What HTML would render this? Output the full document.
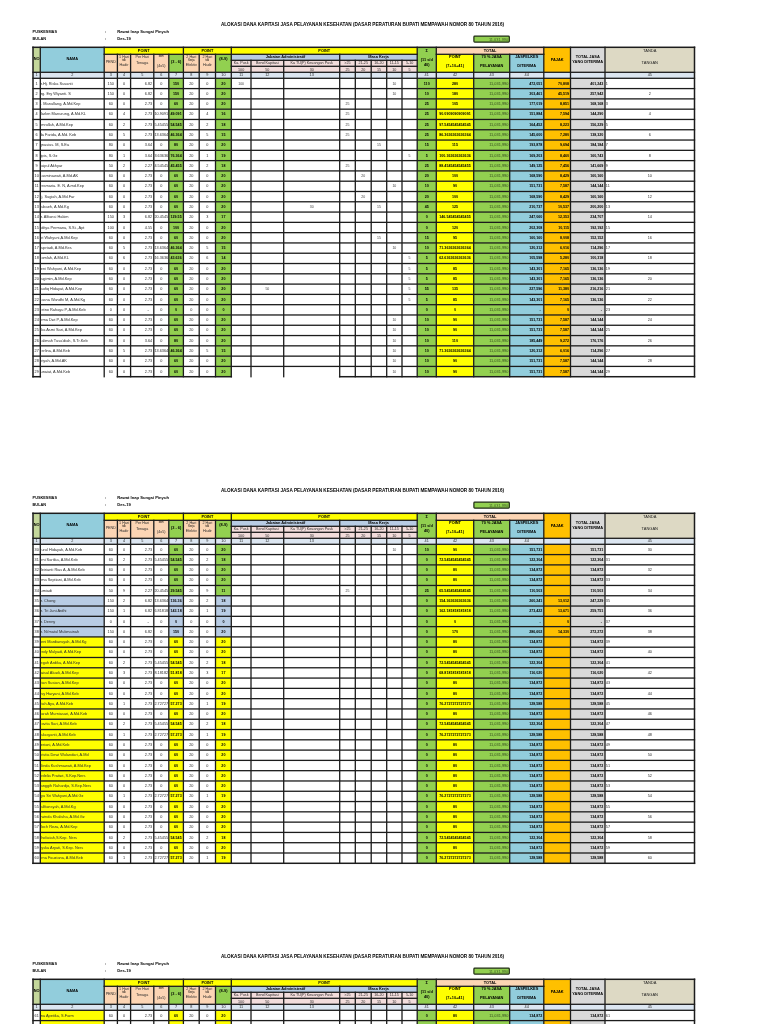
<!DOCTYPE html>
<html lang="id"><head><meta charset="utf-8">
<title>Alokasi Dana Kapitasi Jasa Pelayanan Kesehatan</title>
<style>
html,body{margin:0;padding:0;background:#fff;}
body{width:768px;height:1024px;overflow:hidden;position:relative;font-family:"Liberation Sans",sans-serif;color:#000;}
#grid{position:absolute;left:0;top:0;width:768px;height:1024px;}
#txt{position:absolute;left:0;top:0;width:768px;height:1024px;overflow:hidden;}
.t{position:absolute;white-space:nowrap;overflow:visible;font-size:3.3px;}
.tc{text-align:center}.tl{text-align:left}.tr{text-align:right}
.ttl{font-weight:bold;font-size:4.68px;}
.lbl{font-weight:bold;font-size:3.85px;}
.lv{font-size:4.15px;}
.hb{font-weight:bold;font-size:3.9px;}
.h{font-size:3.7px;color:#2c2c2c;}
.hs{font-size:2.7px;}
.hr{font-size:4.0px;color:#222;}
.d{font-size:3.8px;color:#2c2c2c;}
.db{font-size:3.65px;font-weight:bold;}
.ds{font-size:3.5px;color:#444;}
.dn{font-size:3.9px;color:#33491f;}
.gb{color:#3c5a24;}
.ov{overflow:hidden;}
.nm{overflow:hidden;font-size:3.9px;text-indent:-2.1px;}
</style></head><body>
<svg id="grid" width="768" height="1024" viewBox="0 0 768 1024">
<rect x="473.90" y="36.20" width="35.40" height="5.90" rx="0.8" fill="#92d050" stroke="#1c2a10" stroke-width="1.2"/>
<rect x="33.00" y="47.30" width="7.30" height="25.00" fill="#c4d79b"/>
<rect x="40.30" y="47.30" width="63.90" height="25.00" fill="#92cddc"/>
<rect x="104.20" y="47.30" width="313.00" height="7.00" fill="#ffff00"/>
<rect x="104.20" y="54.30" width="13.20" height="18.00" fill="#fcd5b4"/>
<rect x="117.40" y="54.30" width="13.20" height="18.00" fill="#fcd5b4"/>
<rect x="130.60" y="54.30" width="23.20" height="18.00" fill="#fcd5b4"/>
<rect x="153.80" y="54.30" width="15.00" height="18.00" fill="#fcd5b4"/>
<rect x="183.40" y="54.30" width="15.80" height="18.00" fill="#fcd5b4"/>
<rect x="199.20" y="54.30" width="16.30" height="18.00" fill="#fcd5b4"/>
<rect x="168.80" y="54.30" width="14.60" height="18.00" fill="#92d050"/>
<rect x="215.50" y="54.30" width="15.80" height="18.00" fill="#92d050"/>
<rect x="231.30" y="54.30" width="185.90" height="6.00" fill="#b8cce4"/>
<rect x="231.30" y="60.30" width="185.90" height="12.00" fill="#f2dcdb"/>
<rect x="417.20" y="47.30" width="19.10" height="25.00" fill="#92d050"/>
<rect x="436.30" y="47.30" width="107.50" height="7.00" fill="#fcd5b4"/>
<rect x="436.30" y="54.30" width="37.40" height="18.00" fill="#ffff00"/>
<rect x="473.70" y="54.30" width="36.00" height="18.00" fill="#92d050"/>
<rect x="509.70" y="54.30" width="34.10" height="18.00" fill="#92cddc"/>
<rect x="543.80" y="47.30" width="26.70" height="25.00" fill="#ffc000"/>
<rect x="570.50" y="47.30" width="34.50" height="25.00" fill="#d9d9d9"/>
<rect x="605.00" y="47.30" width="89.50" height="25.00" fill="#ddd9c4"/>
<rect x="33.00" y="72.30" width="661.50" height="6.00" fill="#dce6f1"/>
<rect x="168.80" y="78.30" width="14.60" height="10.29" fill="#92d050"/>
<rect x="215.50" y="78.30" width="15.80" height="10.29" fill="#92d050"/>
<rect x="417.20" y="78.30" width="19.10" height="10.29" fill="#92d050"/>
<rect x="436.30" y="78.30" width="37.40" height="10.29" fill="#ffff00"/>
<rect x="473.70" y="78.30" width="36.00" height="10.29" fill="#92d050"/>
<rect x="509.70" y="78.30" width="34.10" height="10.29" fill="#92cddc"/>
<rect x="543.80" y="78.30" width="26.70" height="10.29" fill="#ffc000"/>
<rect x="570.50" y="78.30" width="34.50" height="10.29" fill="#d9d9d9"/>
<rect x="168.80" y="88.59" width="14.60" height="10.29" fill="#92d050"/>
<rect x="215.50" y="88.59" width="15.80" height="10.29" fill="#92d050"/>
<rect x="417.20" y="88.59" width="19.10" height="10.29" fill="#92d050"/>
<rect x="436.30" y="88.59" width="37.40" height="10.29" fill="#ffff00"/>
<rect x="473.70" y="88.59" width="36.00" height="10.29" fill="#92d050"/>
<rect x="509.70" y="88.59" width="34.10" height="10.29" fill="#92cddc"/>
<rect x="543.80" y="88.59" width="26.70" height="10.29" fill="#ffc000"/>
<rect x="570.50" y="88.59" width="34.50" height="10.29" fill="#d9d9d9"/>
<rect x="168.80" y="98.88" width="14.60" height="10.29" fill="#92d050"/>
<rect x="215.50" y="98.88" width="15.80" height="10.29" fill="#92d050"/>
<rect x="417.20" y="98.88" width="19.10" height="10.29" fill="#92d050"/>
<rect x="436.30" y="98.88" width="37.40" height="10.29" fill="#ffff00"/>
<rect x="473.70" y="98.88" width="36.00" height="10.29" fill="#92d050"/>
<rect x="509.70" y="98.88" width="34.10" height="10.29" fill="#92cddc"/>
<rect x="543.80" y="98.88" width="26.70" height="10.29" fill="#ffc000"/>
<rect x="570.50" y="98.88" width="34.50" height="10.29" fill="#d9d9d9"/>
<rect x="168.80" y="109.17" width="14.60" height="10.29" fill="#92d050"/>
<rect x="215.50" y="109.17" width="15.80" height="10.29" fill="#92d050"/>
<rect x="417.20" y="109.17" width="19.10" height="10.29" fill="#92d050"/>
<rect x="436.30" y="109.17" width="37.40" height="10.29" fill="#ffff00"/>
<rect x="473.70" y="109.17" width="36.00" height="10.29" fill="#92d050"/>
<rect x="509.70" y="109.17" width="34.10" height="10.29" fill="#92cddc"/>
<rect x="543.80" y="109.17" width="26.70" height="10.29" fill="#ffc000"/>
<rect x="570.50" y="109.17" width="34.50" height="10.29" fill="#d9d9d9"/>
<rect x="168.80" y="119.46" width="14.60" height="10.29" fill="#92d050"/>
<rect x="215.50" y="119.46" width="15.80" height="10.29" fill="#92d050"/>
<rect x="417.20" y="119.46" width="19.10" height="10.29" fill="#92d050"/>
<rect x="436.30" y="119.46" width="37.40" height="10.29" fill="#ffff00"/>
<rect x="473.70" y="119.46" width="36.00" height="10.29" fill="#92d050"/>
<rect x="509.70" y="119.46" width="34.10" height="10.29" fill="#92cddc"/>
<rect x="543.80" y="119.46" width="26.70" height="10.29" fill="#ffc000"/>
<rect x="570.50" y="119.46" width="34.50" height="10.29" fill="#d9d9d9"/>
<rect x="168.80" y="129.75" width="14.60" height="10.29" fill="#92d050"/>
<rect x="215.50" y="129.75" width="15.80" height="10.29" fill="#92d050"/>
<rect x="417.20" y="129.75" width="19.10" height="10.29" fill="#92d050"/>
<rect x="436.30" y="129.75" width="37.40" height="10.29" fill="#ffff00"/>
<rect x="473.70" y="129.75" width="36.00" height="10.29" fill="#92d050"/>
<rect x="509.70" y="129.75" width="34.10" height="10.29" fill="#92cddc"/>
<rect x="543.80" y="129.75" width="26.70" height="10.29" fill="#ffc000"/>
<rect x="570.50" y="129.75" width="34.50" height="10.29" fill="#d9d9d9"/>
<rect x="168.80" y="140.04" width="14.60" height="10.29" fill="#92d050"/>
<rect x="215.50" y="140.04" width="15.80" height="10.29" fill="#92d050"/>
<rect x="417.20" y="140.04" width="19.10" height="10.29" fill="#92d050"/>
<rect x="436.30" y="140.04" width="37.40" height="10.29" fill="#ffff00"/>
<rect x="473.70" y="140.04" width="36.00" height="10.29" fill="#92d050"/>
<rect x="509.70" y="140.04" width="34.10" height="10.29" fill="#92cddc"/>
<rect x="543.80" y="140.04" width="26.70" height="10.29" fill="#ffc000"/>
<rect x="570.50" y="140.04" width="34.50" height="10.29" fill="#d9d9d9"/>
<rect x="168.80" y="150.33" width="14.60" height="10.29" fill="#92d050"/>
<rect x="215.50" y="150.33" width="15.80" height="10.29" fill="#92d050"/>
<rect x="417.20" y="150.33" width="19.10" height="10.29" fill="#92d050"/>
<rect x="436.30" y="150.33" width="37.40" height="10.29" fill="#ffff00"/>
<rect x="473.70" y="150.33" width="36.00" height="10.29" fill="#92d050"/>
<rect x="509.70" y="150.33" width="34.10" height="10.29" fill="#92cddc"/>
<rect x="543.80" y="150.33" width="26.70" height="10.29" fill="#ffc000"/>
<rect x="570.50" y="150.33" width="34.50" height="10.29" fill="#d9d9d9"/>
<rect x="168.80" y="160.62" width="14.60" height="10.29" fill="#92d050"/>
<rect x="215.50" y="160.62" width="15.80" height="10.29" fill="#92d050"/>
<rect x="417.20" y="160.62" width="19.10" height="10.29" fill="#92d050"/>
<rect x="436.30" y="160.62" width="37.40" height="10.29" fill="#ffff00"/>
<rect x="473.70" y="160.62" width="36.00" height="10.29" fill="#92d050"/>
<rect x="509.70" y="160.62" width="34.10" height="10.29" fill="#92cddc"/>
<rect x="543.80" y="160.62" width="26.70" height="10.29" fill="#ffc000"/>
<rect x="570.50" y="160.62" width="34.50" height="10.29" fill="#d9d9d9"/>
<rect x="168.80" y="170.91" width="14.60" height="10.29" fill="#92d050"/>
<rect x="215.50" y="170.91" width="15.80" height="10.29" fill="#92d050"/>
<rect x="417.20" y="170.91" width="19.10" height="10.29" fill="#92d050"/>
<rect x="436.30" y="170.91" width="37.40" height="10.29" fill="#ffff00"/>
<rect x="473.70" y="170.91" width="36.00" height="10.29" fill="#92d050"/>
<rect x="509.70" y="170.91" width="34.10" height="10.29" fill="#92cddc"/>
<rect x="543.80" y="170.91" width="26.70" height="10.29" fill="#ffc000"/>
<rect x="570.50" y="170.91" width="34.50" height="10.29" fill="#d9d9d9"/>
<rect x="168.80" y="181.20" width="14.60" height="10.29" fill="#92d050"/>
<rect x="215.50" y="181.20" width="15.80" height="10.29" fill="#92d050"/>
<rect x="417.20" y="181.20" width="19.10" height="10.29" fill="#92d050"/>
<rect x="436.30" y="181.20" width="37.40" height="10.29" fill="#ffff00"/>
<rect x="473.70" y="181.20" width="36.00" height="10.29" fill="#92d050"/>
<rect x="509.70" y="181.20" width="34.10" height="10.29" fill="#92cddc"/>
<rect x="543.80" y="181.20" width="26.70" height="10.29" fill="#ffc000"/>
<rect x="570.50" y="181.20" width="34.50" height="10.29" fill="#d9d9d9"/>
<rect x="168.80" y="191.49" width="14.60" height="10.29" fill="#92d050"/>
<rect x="215.50" y="191.49" width="15.80" height="10.29" fill="#92d050"/>
<rect x="417.20" y="191.49" width="19.10" height="10.29" fill="#92d050"/>
<rect x="436.30" y="191.49" width="37.40" height="10.29" fill="#ffff00"/>
<rect x="473.70" y="191.49" width="36.00" height="10.29" fill="#92d050"/>
<rect x="509.70" y="191.49" width="34.10" height="10.29" fill="#92cddc"/>
<rect x="543.80" y="191.49" width="26.70" height="10.29" fill="#ffc000"/>
<rect x="570.50" y="191.49" width="34.50" height="10.29" fill="#d9d9d9"/>
<rect x="168.80" y="201.78" width="14.60" height="10.29" fill="#92d050"/>
<rect x="215.50" y="201.78" width="15.80" height="10.29" fill="#92d050"/>
<rect x="417.20" y="201.78" width="19.10" height="10.29" fill="#92d050"/>
<rect x="436.30" y="201.78" width="37.40" height="10.29" fill="#ffff00"/>
<rect x="473.70" y="201.78" width="36.00" height="10.29" fill="#92d050"/>
<rect x="509.70" y="201.78" width="34.10" height="10.29" fill="#92cddc"/>
<rect x="543.80" y="201.78" width="26.70" height="10.29" fill="#ffc000"/>
<rect x="570.50" y="201.78" width="34.50" height="10.29" fill="#d9d9d9"/>
<rect x="168.80" y="212.07" width="14.60" height="10.29" fill="#92d050"/>
<rect x="215.50" y="212.07" width="15.80" height="10.29" fill="#92d050"/>
<rect x="417.20" y="212.07" width="19.10" height="10.29" fill="#92d050"/>
<rect x="436.30" y="212.07" width="37.40" height="10.29" fill="#ffff00"/>
<rect x="473.70" y="212.07" width="36.00" height="10.29" fill="#92d050"/>
<rect x="509.70" y="212.07" width="34.10" height="10.29" fill="#92cddc"/>
<rect x="543.80" y="212.07" width="26.70" height="10.29" fill="#ffc000"/>
<rect x="570.50" y="212.07" width="34.50" height="10.29" fill="#d9d9d9"/>
<rect x="168.80" y="222.36" width="14.60" height="10.29" fill="#92d050"/>
<rect x="215.50" y="222.36" width="15.80" height="10.29" fill="#92d050"/>
<rect x="417.20" y="222.36" width="19.10" height="10.29" fill="#92d050"/>
<rect x="436.30" y="222.36" width="37.40" height="10.29" fill="#ffff00"/>
<rect x="473.70" y="222.36" width="36.00" height="10.29" fill="#92d050"/>
<rect x="509.70" y="222.36" width="34.10" height="10.29" fill="#92cddc"/>
<rect x="543.80" y="222.36" width="26.70" height="10.29" fill="#ffc000"/>
<rect x="570.50" y="222.36" width="34.50" height="10.29" fill="#d9d9d9"/>
<rect x="168.80" y="232.65" width="14.60" height="10.29" fill="#92d050"/>
<rect x="215.50" y="232.65" width="15.80" height="10.29" fill="#92d050"/>
<rect x="417.20" y="232.65" width="19.10" height="10.29" fill="#92d050"/>
<rect x="436.30" y="232.65" width="37.40" height="10.29" fill="#ffff00"/>
<rect x="473.70" y="232.65" width="36.00" height="10.29" fill="#92d050"/>
<rect x="509.70" y="232.65" width="34.10" height="10.29" fill="#92cddc"/>
<rect x="543.80" y="232.65" width="26.70" height="10.29" fill="#ffc000"/>
<rect x="570.50" y="232.65" width="34.50" height="10.29" fill="#d9d9d9"/>
<rect x="168.80" y="242.94" width="14.60" height="10.29" fill="#92d050"/>
<rect x="215.50" y="242.94" width="15.80" height="10.29" fill="#92d050"/>
<rect x="417.20" y="242.94" width="19.10" height="10.29" fill="#92d050"/>
<rect x="436.30" y="242.94" width="37.40" height="10.29" fill="#ffff00"/>
<rect x="473.70" y="242.94" width="36.00" height="10.29" fill="#92d050"/>
<rect x="509.70" y="242.94" width="34.10" height="10.29" fill="#92cddc"/>
<rect x="543.80" y="242.94" width="26.70" height="10.29" fill="#ffc000"/>
<rect x="570.50" y="242.94" width="34.50" height="10.29" fill="#d9d9d9"/>
<rect x="168.80" y="253.23" width="14.60" height="10.29" fill="#92d050"/>
<rect x="215.50" y="253.23" width="15.80" height="10.29" fill="#92d050"/>
<rect x="417.20" y="253.23" width="19.10" height="10.29" fill="#92d050"/>
<rect x="436.30" y="253.23" width="37.40" height="10.29" fill="#ffff00"/>
<rect x="473.70" y="253.23" width="36.00" height="10.29" fill="#92d050"/>
<rect x="509.70" y="253.23" width="34.10" height="10.29" fill="#92cddc"/>
<rect x="543.80" y="253.23" width="26.70" height="10.29" fill="#ffc000"/>
<rect x="570.50" y="253.23" width="34.50" height="10.29" fill="#d9d9d9"/>
<rect x="168.80" y="263.52" width="14.60" height="10.29" fill="#92d050"/>
<rect x="215.50" y="263.52" width="15.80" height="10.29" fill="#92d050"/>
<rect x="417.20" y="263.52" width="19.10" height="10.29" fill="#92d050"/>
<rect x="436.30" y="263.52" width="37.40" height="10.29" fill="#ffff00"/>
<rect x="473.70" y="263.52" width="36.00" height="10.29" fill="#92d050"/>
<rect x="509.70" y="263.52" width="34.10" height="10.29" fill="#92cddc"/>
<rect x="543.80" y="263.52" width="26.70" height="10.29" fill="#ffc000"/>
<rect x="570.50" y="263.52" width="34.50" height="10.29" fill="#d9d9d9"/>
<rect x="168.80" y="273.81" width="14.60" height="10.29" fill="#92d050"/>
<rect x="215.50" y="273.81" width="15.80" height="10.29" fill="#92d050"/>
<rect x="417.20" y="273.81" width="19.10" height="10.29" fill="#92d050"/>
<rect x="436.30" y="273.81" width="37.40" height="10.29" fill="#ffff00"/>
<rect x="473.70" y="273.81" width="36.00" height="10.29" fill="#92d050"/>
<rect x="509.70" y="273.81" width="34.10" height="10.29" fill="#92cddc"/>
<rect x="543.80" y="273.81" width="26.70" height="10.29" fill="#ffc000"/>
<rect x="570.50" y="273.81" width="34.50" height="10.29" fill="#d9d9d9"/>
<rect x="168.80" y="284.10" width="14.60" height="10.29" fill="#92d050"/>
<rect x="215.50" y="284.10" width="15.80" height="10.29" fill="#92d050"/>
<rect x="417.20" y="284.10" width="19.10" height="10.29" fill="#92d050"/>
<rect x="436.30" y="284.10" width="37.40" height="10.29" fill="#ffff00"/>
<rect x="473.70" y="284.10" width="36.00" height="10.29" fill="#92d050"/>
<rect x="509.70" y="284.10" width="34.10" height="10.29" fill="#92cddc"/>
<rect x="543.80" y="284.10" width="26.70" height="10.29" fill="#ffc000"/>
<rect x="570.50" y="284.10" width="34.50" height="10.29" fill="#d9d9d9"/>
<rect x="168.80" y="294.39" width="14.60" height="10.29" fill="#92d050"/>
<rect x="215.50" y="294.39" width="15.80" height="10.29" fill="#92d050"/>
<rect x="417.20" y="294.39" width="19.10" height="10.29" fill="#92d050"/>
<rect x="436.30" y="294.39" width="37.40" height="10.29" fill="#ffff00"/>
<rect x="473.70" y="294.39" width="36.00" height="10.29" fill="#92d050"/>
<rect x="509.70" y="294.39" width="34.10" height="10.29" fill="#92cddc"/>
<rect x="543.80" y="294.39" width="26.70" height="10.29" fill="#ffc000"/>
<rect x="570.50" y="294.39" width="34.50" height="10.29" fill="#d9d9d9"/>
<rect x="168.80" y="304.68" width="14.60" height="10.29" fill="#92d050"/>
<rect x="215.50" y="304.68" width="15.80" height="10.29" fill="#92d050"/>
<rect x="417.20" y="304.68" width="19.10" height="10.29" fill="#92d050"/>
<rect x="436.30" y="304.68" width="37.40" height="10.29" fill="#ffff00"/>
<rect x="473.70" y="304.68" width="36.00" height="10.29" fill="#92d050"/>
<rect x="509.70" y="304.68" width="34.10" height="10.29" fill="#92cddc"/>
<rect x="543.80" y="304.68" width="26.70" height="10.29" fill="#ffc000"/>
<rect x="570.50" y="304.68" width="34.50" height="10.29" fill="#d9d9d9"/>
<rect x="168.80" y="314.97" width="14.60" height="10.29" fill="#92d050"/>
<rect x="215.50" y="314.97" width="15.80" height="10.29" fill="#92d050"/>
<rect x="417.20" y="314.97" width="19.10" height="10.29" fill="#92d050"/>
<rect x="436.30" y="314.97" width="37.40" height="10.29" fill="#ffff00"/>
<rect x="473.70" y="314.97" width="36.00" height="10.29" fill="#92d050"/>
<rect x="509.70" y="314.97" width="34.10" height="10.29" fill="#92cddc"/>
<rect x="543.80" y="314.97" width="26.70" height="10.29" fill="#ffc000"/>
<rect x="570.50" y="314.97" width="34.50" height="10.29" fill="#d9d9d9"/>
<rect x="168.80" y="325.26" width="14.60" height="10.29" fill="#92d050"/>
<rect x="215.50" y="325.26" width="15.80" height="10.29" fill="#92d050"/>
<rect x="417.20" y="325.26" width="19.10" height="10.29" fill="#92d050"/>
<rect x="436.30" y="325.26" width="37.40" height="10.29" fill="#ffff00"/>
<rect x="473.70" y="325.26" width="36.00" height="10.29" fill="#92d050"/>
<rect x="509.70" y="325.26" width="34.10" height="10.29" fill="#92cddc"/>
<rect x="543.80" y="325.26" width="26.70" height="10.29" fill="#ffc000"/>
<rect x="570.50" y="325.26" width="34.50" height="10.29" fill="#d9d9d9"/>
<rect x="168.80" y="335.55" width="14.60" height="10.29" fill="#92d050"/>
<rect x="215.50" y="335.55" width="15.80" height="10.29" fill="#92d050"/>
<rect x="417.20" y="335.55" width="19.10" height="10.29" fill="#92d050"/>
<rect x="436.30" y="335.55" width="37.40" height="10.29" fill="#ffff00"/>
<rect x="473.70" y="335.55" width="36.00" height="10.29" fill="#92d050"/>
<rect x="509.70" y="335.55" width="34.10" height="10.29" fill="#92cddc"/>
<rect x="543.80" y="335.55" width="26.70" height="10.29" fill="#ffc000"/>
<rect x="570.50" y="335.55" width="34.50" height="10.29" fill="#d9d9d9"/>
<rect x="168.80" y="345.84" width="14.60" height="10.29" fill="#92d050"/>
<rect x="215.50" y="345.84" width="15.80" height="10.29" fill="#92d050"/>
<rect x="417.20" y="345.84" width="19.10" height="10.29" fill="#92d050"/>
<rect x="436.30" y="345.84" width="37.40" height="10.29" fill="#ffff00"/>
<rect x="473.70" y="345.84" width="36.00" height="10.29" fill="#92d050"/>
<rect x="509.70" y="345.84" width="34.10" height="10.29" fill="#92cddc"/>
<rect x="543.80" y="345.84" width="26.70" height="10.29" fill="#ffc000"/>
<rect x="570.50" y="345.84" width="34.50" height="10.29" fill="#d9d9d9"/>
<rect x="168.80" y="356.13" width="14.60" height="10.29" fill="#92d050"/>
<rect x="215.50" y="356.13" width="15.80" height="10.29" fill="#92d050"/>
<rect x="417.20" y="356.13" width="19.10" height="10.29" fill="#92d050"/>
<rect x="436.30" y="356.13" width="37.40" height="10.29" fill="#ffff00"/>
<rect x="473.70" y="356.13" width="36.00" height="10.29" fill="#92d050"/>
<rect x="509.70" y="356.13" width="34.10" height="10.29" fill="#92cddc"/>
<rect x="543.80" y="356.13" width="26.70" height="10.29" fill="#ffc000"/>
<rect x="570.50" y="356.13" width="34.50" height="10.29" fill="#d9d9d9"/>
<rect x="168.80" y="366.42" width="14.60" height="10.29" fill="#92d050"/>
<rect x="215.50" y="366.42" width="15.80" height="10.29" fill="#92d050"/>
<rect x="417.20" y="366.42" width="19.10" height="10.29" fill="#92d050"/>
<rect x="436.30" y="366.42" width="37.40" height="10.29" fill="#ffff00"/>
<rect x="473.70" y="366.42" width="36.00" height="10.29" fill="#92d050"/>
<rect x="509.70" y="366.42" width="34.10" height="10.29" fill="#92cddc"/>
<rect x="543.80" y="366.42" width="26.70" height="10.29" fill="#ffc000"/>
<rect x="570.50" y="366.42" width="34.50" height="10.29" fill="#d9d9d9"/>
<rect x="32.25" y="46.55" width="663.00" height="1.50" fill="#1c1c1c"/>
<rect x="103.55" y="53.65" width="314.30" height="1.30" fill="#1c1c1c"/>
<rect x="435.65" y="53.65" width="108.80" height="1.30" fill="#1c1c1c"/>
<rect x="230.65" y="59.65" width="187.20" height="1.30" fill="#1c1c1c"/>
<rect x="230.65" y="65.65" width="187.20" height="1.30" fill="#1c1c1c"/>
<rect x="32.35" y="71.65" width="662.80" height="1.30" fill="#1c1c1c"/>
<rect x="32.35" y="77.65" width="662.80" height="1.30" fill="#1c1c1c"/>
<rect x="32.35" y="87.94" width="662.80" height="1.30" fill="#1c1c1c"/>
<rect x="32.35" y="98.23" width="662.80" height="1.30" fill="#1c1c1c"/>
<rect x="32.35" y="108.52" width="662.80" height="1.30" fill="#1c1c1c"/>
<rect x="32.35" y="118.81" width="662.80" height="1.30" fill="#1c1c1c"/>
<rect x="32.35" y="129.10" width="662.80" height="1.30" fill="#1c1c1c"/>
<rect x="32.35" y="139.39" width="662.80" height="1.30" fill="#1c1c1c"/>
<rect x="32.35" y="149.68" width="662.80" height="1.30" fill="#1c1c1c"/>
<rect x="32.35" y="159.97" width="662.80" height="1.30" fill="#1c1c1c"/>
<rect x="32.35" y="170.26" width="662.80" height="1.30" fill="#1c1c1c"/>
<rect x="32.35" y="180.55" width="662.80" height="1.30" fill="#1c1c1c"/>
<rect x="32.35" y="190.84" width="662.80" height="1.30" fill="#1c1c1c"/>
<rect x="32.35" y="201.13" width="662.80" height="1.30" fill="#1c1c1c"/>
<rect x="32.35" y="211.42" width="662.80" height="1.30" fill="#1c1c1c"/>
<rect x="32.35" y="221.71" width="662.80" height="1.30" fill="#1c1c1c"/>
<rect x="32.35" y="232.00" width="662.80" height="1.30" fill="#1c1c1c"/>
<rect x="32.35" y="242.29" width="662.80" height="1.30" fill="#1c1c1c"/>
<rect x="32.35" y="252.58" width="662.80" height="1.30" fill="#1c1c1c"/>
<rect x="32.35" y="262.87" width="662.80" height="1.30" fill="#1c1c1c"/>
<rect x="32.35" y="273.16" width="662.80" height="1.30" fill="#1c1c1c"/>
<rect x="32.35" y="283.45" width="662.80" height="1.30" fill="#1c1c1c"/>
<rect x="32.35" y="293.74" width="662.80" height="1.30" fill="#1c1c1c"/>
<rect x="32.35" y="304.03" width="662.80" height="1.30" fill="#1c1c1c"/>
<rect x="32.35" y="314.32" width="662.80" height="1.30" fill="#1c1c1c"/>
<rect x="32.35" y="324.61" width="662.80" height="1.30" fill="#1c1c1c"/>
<rect x="32.35" y="334.90" width="662.80" height="1.30" fill="#1c1c1c"/>
<rect x="32.35" y="345.19" width="662.80" height="1.30" fill="#1c1c1c"/>
<rect x="32.35" y="355.48" width="662.80" height="1.30" fill="#1c1c1c"/>
<rect x="32.35" y="365.77" width="662.80" height="1.30" fill="#1c1c1c"/>
<rect x="32.25" y="375.96" width="8.80" height="1.50" fill="#1c1c1c"/>
<rect x="116.65" y="375.96" width="115.40" height="1.50" fill="#1c1c1c"/>
<rect x="338.95" y="375.96" width="356.30" height="1.50" fill="#1c1c1c"/>
<rect x="32.25" y="46.55" width="1.50" height="330.91" fill="#1c1c1c"/>
<rect x="39.65" y="46.65" width="1.30" height="330.71" fill="#1c1c1c"/>
<rect x="103.55" y="46.65" width="1.30" height="330.71" fill="#1c1c1c"/>
<rect x="116.75" y="53.65" width="1.30" height="323.71" fill="#1c1c1c"/>
<rect x="129.95" y="53.65" width="1.30" height="323.71" fill="#1c1c1c"/>
<rect x="153.15" y="53.65" width="1.30" height="323.71" fill="#1c1c1c"/>
<rect x="168.15" y="53.65" width="1.30" height="323.71" fill="#1c1c1c"/>
<rect x="182.75" y="46.65" width="1.30" height="330.71" fill="#1c1c1c"/>
<rect x="198.55" y="53.65" width="1.30" height="323.71" fill="#1c1c1c"/>
<rect x="214.85" y="53.65" width="1.30" height="323.71" fill="#1c1c1c"/>
<rect x="230.65" y="46.65" width="1.30" height="330.71" fill="#1c1c1c"/>
<rect x="250.35" y="59.65" width="1.30" height="317.71" fill="#1c1c1c"/>
<rect x="283.05" y="59.65" width="1.30" height="317.71" fill="#1c1c1c"/>
<rect x="339.05" y="53.65" width="1.30" height="323.71" fill="#1c1c1c"/>
<rect x="354.65" y="59.65" width="1.30" height="317.71" fill="#1c1c1c"/>
<rect x="370.55" y="59.65" width="1.30" height="317.71" fill="#1c1c1c"/>
<rect x="386.05" y="59.65" width="1.30" height="317.71" fill="#1c1c1c"/>
<rect x="401.35" y="59.65" width="1.30" height="317.71" fill="#1c1c1c"/>
<rect x="416.55" y="46.65" width="1.30" height="330.71" fill="#1c1c1c"/>
<rect x="435.65" y="46.65" width="1.30" height="330.71" fill="#1c1c1c"/>
<rect x="473.05" y="53.65" width="1.30" height="323.71" fill="#1c1c1c"/>
<rect x="509.05" y="53.65" width="1.30" height="323.71" fill="#1c1c1c"/>
<rect x="543.15" y="46.65" width="1.30" height="330.71" fill="#1c1c1c"/>
<rect x="569.85" y="46.65" width="1.30" height="330.71" fill="#1c1c1c"/>
<rect x="604.35" y="46.65" width="1.30" height="330.71" fill="#1c1c1c"/>
<rect x="693.75" y="46.55" width="1.50" height="330.91" fill="#1c1c1c"/>
<rect x="473.90" y="502.20" width="35.40" height="5.90" rx="0.8" fill="#92d050" stroke="#1c2a10" stroke-width="1.2"/>
<rect x="33.00" y="513.30" width="7.30" height="25.00" fill="#c4d79b"/>
<rect x="40.30" y="513.30" width="63.90" height="25.00" fill="#92cddc"/>
<rect x="104.20" y="513.30" width="313.00" height="7.00" fill="#ffff00"/>
<rect x="104.20" y="520.30" width="13.20" height="18.00" fill="#fcd5b4"/>
<rect x="117.40" y="520.30" width="13.20" height="18.00" fill="#fcd5b4"/>
<rect x="130.60" y="520.30" width="23.20" height="18.00" fill="#fcd5b4"/>
<rect x="153.80" y="520.30" width="15.00" height="18.00" fill="#fcd5b4"/>
<rect x="183.40" y="520.30" width="15.80" height="18.00" fill="#fcd5b4"/>
<rect x="199.20" y="520.30" width="16.30" height="18.00" fill="#fcd5b4"/>
<rect x="168.80" y="520.30" width="14.60" height="18.00" fill="#92d050"/>
<rect x="215.50" y="520.30" width="15.80" height="18.00" fill="#92d050"/>
<rect x="231.30" y="520.30" width="185.90" height="6.00" fill="#b8cce4"/>
<rect x="231.30" y="526.30" width="185.90" height="12.00" fill="#f2dcdb"/>
<rect x="417.20" y="513.30" width="19.10" height="25.00" fill="#92d050"/>
<rect x="436.30" y="513.30" width="107.50" height="7.00" fill="#fcd5b4"/>
<rect x="436.30" y="520.30" width="37.40" height="18.00" fill="#ffff00"/>
<rect x="473.70" y="520.30" width="36.00" height="18.00" fill="#92d050"/>
<rect x="509.70" y="520.30" width="34.10" height="18.00" fill="#92cddc"/>
<rect x="543.80" y="513.30" width="26.70" height="25.00" fill="#ffc000"/>
<rect x="570.50" y="513.30" width="34.50" height="25.00" fill="#d9d9d9"/>
<rect x="605.00" y="513.30" width="89.50" height="25.00" fill="#ddd9c4"/>
<rect x="33.00" y="538.30" width="661.50" height="6.00" fill="#dce6f1"/>
<rect x="168.80" y="544.30" width="14.60" height="10.29" fill="#92d050"/>
<rect x="215.50" y="544.30" width="15.80" height="10.29" fill="#92d050"/>
<rect x="417.20" y="544.30" width="19.10" height="10.29" fill="#92d050"/>
<rect x="436.30" y="544.30" width="37.40" height="10.29" fill="#ffff00"/>
<rect x="473.70" y="544.30" width="36.00" height="10.29" fill="#92d050"/>
<rect x="509.70" y="544.30" width="34.10" height="10.29" fill="#92cddc"/>
<rect x="543.80" y="544.30" width="26.70" height="10.29" fill="#ffc000"/>
<rect x="570.50" y="544.30" width="34.50" height="10.29" fill="#d9d9d9"/>
<rect x="168.80" y="554.59" width="14.60" height="10.29" fill="#92d050"/>
<rect x="215.50" y="554.59" width="15.80" height="10.29" fill="#92d050"/>
<rect x="417.20" y="554.59" width="19.10" height="10.29" fill="#92d050"/>
<rect x="436.30" y="554.59" width="37.40" height="10.29" fill="#ffff00"/>
<rect x="473.70" y="554.59" width="36.00" height="10.29" fill="#92d050"/>
<rect x="509.70" y="554.59" width="34.10" height="10.29" fill="#92cddc"/>
<rect x="543.80" y="554.59" width="26.70" height="10.29" fill="#ffc000"/>
<rect x="570.50" y="554.59" width="34.50" height="10.29" fill="#d9d9d9"/>
<rect x="168.80" y="564.88" width="14.60" height="10.29" fill="#92d050"/>
<rect x="215.50" y="564.88" width="15.80" height="10.29" fill="#92d050"/>
<rect x="417.20" y="564.88" width="19.10" height="10.29" fill="#92d050"/>
<rect x="436.30" y="564.88" width="37.40" height="10.29" fill="#ffff00"/>
<rect x="473.70" y="564.88" width="36.00" height="10.29" fill="#92d050"/>
<rect x="509.70" y="564.88" width="34.10" height="10.29" fill="#92cddc"/>
<rect x="543.80" y="564.88" width="26.70" height="10.29" fill="#ffc000"/>
<rect x="570.50" y="564.88" width="34.50" height="10.29" fill="#d9d9d9"/>
<rect x="168.80" y="575.17" width="14.60" height="10.29" fill="#92d050"/>
<rect x="215.50" y="575.17" width="15.80" height="10.29" fill="#92d050"/>
<rect x="417.20" y="575.17" width="19.10" height="10.29" fill="#92d050"/>
<rect x="436.30" y="575.17" width="37.40" height="10.29" fill="#ffff00"/>
<rect x="473.70" y="575.17" width="36.00" height="10.29" fill="#92d050"/>
<rect x="509.70" y="575.17" width="34.10" height="10.29" fill="#92cddc"/>
<rect x="543.80" y="575.17" width="26.70" height="10.29" fill="#ffc000"/>
<rect x="570.50" y="575.17" width="34.50" height="10.29" fill="#d9d9d9"/>
<rect x="168.80" y="585.46" width="14.60" height="10.29" fill="#92d050"/>
<rect x="215.50" y="585.46" width="15.80" height="10.29" fill="#92d050"/>
<rect x="417.20" y="585.46" width="19.10" height="10.29" fill="#92d050"/>
<rect x="436.30" y="585.46" width="37.40" height="10.29" fill="#ffff00"/>
<rect x="473.70" y="585.46" width="36.00" height="10.29" fill="#92d050"/>
<rect x="509.70" y="585.46" width="34.10" height="10.29" fill="#92cddc"/>
<rect x="543.80" y="585.46" width="26.70" height="10.29" fill="#ffc000"/>
<rect x="570.50" y="585.46" width="34.50" height="10.29" fill="#d9d9d9"/>
<rect x="40.30" y="595.75" width="63.90" height="10.29" fill="#b8cce4"/>
<rect x="168.80" y="595.75" width="14.60" height="10.29" fill="#b8cce4"/>
<rect x="215.50" y="595.75" width="15.80" height="10.29" fill="#b8cce4"/>
<rect x="417.20" y="595.75" width="19.10" height="10.29" fill="#92d050"/>
<rect x="436.30" y="595.75" width="37.40" height="10.29" fill="#ffff00"/>
<rect x="473.70" y="595.75" width="36.00" height="10.29" fill="#92d050"/>
<rect x="509.70" y="595.75" width="34.10" height="10.29" fill="#92cddc"/>
<rect x="543.80" y="595.75" width="26.70" height="10.29" fill="#ffc000"/>
<rect x="570.50" y="595.75" width="34.50" height="10.29" fill="#d9d9d9"/>
<rect x="40.30" y="606.04" width="63.90" height="10.29" fill="#b8cce4"/>
<rect x="168.80" y="606.04" width="14.60" height="10.29" fill="#b8cce4"/>
<rect x="215.50" y="606.04" width="15.80" height="10.29" fill="#b8cce4"/>
<rect x="417.20" y="606.04" width="19.10" height="10.29" fill="#92d050"/>
<rect x="436.30" y="606.04" width="37.40" height="10.29" fill="#ffff00"/>
<rect x="473.70" y="606.04" width="36.00" height="10.29" fill="#92d050"/>
<rect x="509.70" y="606.04" width="34.10" height="10.29" fill="#92cddc"/>
<rect x="543.80" y="606.04" width="26.70" height="10.29" fill="#ffc000"/>
<rect x="570.50" y="606.04" width="34.50" height="10.29" fill="#d9d9d9"/>
<rect x="40.30" y="616.33" width="63.90" height="10.29" fill="#b8cce4"/>
<rect x="168.80" y="616.33" width="14.60" height="10.29" fill="#b8cce4"/>
<rect x="215.50" y="616.33" width="15.80" height="10.29" fill="#b8cce4"/>
<rect x="417.20" y="616.33" width="19.10" height="10.29" fill="#92d050"/>
<rect x="436.30" y="616.33" width="37.40" height="10.29" fill="#ffff00"/>
<rect x="473.70" y="616.33" width="36.00" height="10.29" fill="#92d050"/>
<rect x="509.70" y="616.33" width="34.10" height="10.29" fill="#92cddc"/>
<rect x="543.80" y="616.33" width="26.70" height="10.29" fill="#ffc000"/>
<rect x="570.50" y="616.33" width="34.50" height="10.29" fill="#d9d9d9"/>
<rect x="40.30" y="626.62" width="63.90" height="10.29" fill="#b8cce4"/>
<rect x="168.80" y="626.62" width="14.60" height="10.29" fill="#b8cce4"/>
<rect x="215.50" y="626.62" width="15.80" height="10.29" fill="#b8cce4"/>
<rect x="417.20" y="626.62" width="19.10" height="10.29" fill="#92d050"/>
<rect x="436.30" y="626.62" width="37.40" height="10.29" fill="#ffff00"/>
<rect x="473.70" y="626.62" width="36.00" height="10.29" fill="#92d050"/>
<rect x="509.70" y="626.62" width="34.10" height="10.29" fill="#92cddc"/>
<rect x="543.80" y="626.62" width="26.70" height="10.29" fill="#ffc000"/>
<rect x="570.50" y="626.62" width="34.50" height="10.29" fill="#d9d9d9"/>
<rect x="40.30" y="636.91" width="63.90" height="10.29" fill="#ffff00"/>
<rect x="168.80" y="636.91" width="14.60" height="10.29" fill="#ffff00"/>
<rect x="215.50" y="636.91" width="15.80" height="10.29" fill="#ffff00"/>
<rect x="417.20" y="636.91" width="19.10" height="10.29" fill="#92d050"/>
<rect x="436.30" y="636.91" width="37.40" height="10.29" fill="#ffff00"/>
<rect x="473.70" y="636.91" width="36.00" height="10.29" fill="#92d050"/>
<rect x="509.70" y="636.91" width="34.10" height="10.29" fill="#92cddc"/>
<rect x="543.80" y="636.91" width="26.70" height="10.29" fill="#ffc000"/>
<rect x="570.50" y="636.91" width="34.50" height="10.29" fill="#d9d9d9"/>
<rect x="40.30" y="647.20" width="63.90" height="10.29" fill="#ffff00"/>
<rect x="168.80" y="647.20" width="14.60" height="10.29" fill="#ffff00"/>
<rect x="215.50" y="647.20" width="15.80" height="10.29" fill="#ffff00"/>
<rect x="417.20" y="647.20" width="19.10" height="10.29" fill="#92d050"/>
<rect x="436.30" y="647.20" width="37.40" height="10.29" fill="#ffff00"/>
<rect x="473.70" y="647.20" width="36.00" height="10.29" fill="#92d050"/>
<rect x="509.70" y="647.20" width="34.10" height="10.29" fill="#92cddc"/>
<rect x="543.80" y="647.20" width="26.70" height="10.29" fill="#ffc000"/>
<rect x="570.50" y="647.20" width="34.50" height="10.29" fill="#d9d9d9"/>
<rect x="40.30" y="657.49" width="63.90" height="10.29" fill="#ffff00"/>
<rect x="168.80" y="657.49" width="14.60" height="10.29" fill="#ffff00"/>
<rect x="215.50" y="657.49" width="15.80" height="10.29" fill="#ffff00"/>
<rect x="417.20" y="657.49" width="19.10" height="10.29" fill="#92d050"/>
<rect x="436.30" y="657.49" width="37.40" height="10.29" fill="#ffff00"/>
<rect x="473.70" y="657.49" width="36.00" height="10.29" fill="#92d050"/>
<rect x="509.70" y="657.49" width="34.10" height="10.29" fill="#92cddc"/>
<rect x="543.80" y="657.49" width="26.70" height="10.29" fill="#ffc000"/>
<rect x="570.50" y="657.49" width="34.50" height="10.29" fill="#d9d9d9"/>
<rect x="40.30" y="667.78" width="63.90" height="10.29" fill="#ffff00"/>
<rect x="168.80" y="667.78" width="14.60" height="10.29" fill="#ffff00"/>
<rect x="215.50" y="667.78" width="15.80" height="10.29" fill="#ffff00"/>
<rect x="417.20" y="667.78" width="19.10" height="10.29" fill="#92d050"/>
<rect x="436.30" y="667.78" width="37.40" height="10.29" fill="#ffff00"/>
<rect x="473.70" y="667.78" width="36.00" height="10.29" fill="#92d050"/>
<rect x="509.70" y="667.78" width="34.10" height="10.29" fill="#92cddc"/>
<rect x="543.80" y="667.78" width="26.70" height="10.29" fill="#ffc000"/>
<rect x="570.50" y="667.78" width="34.50" height="10.29" fill="#d9d9d9"/>
<rect x="40.30" y="678.07" width="63.90" height="10.29" fill="#ffff00"/>
<rect x="168.80" y="678.07" width="14.60" height="10.29" fill="#ffff00"/>
<rect x="215.50" y="678.07" width="15.80" height="10.29" fill="#ffff00"/>
<rect x="417.20" y="678.07" width="19.10" height="10.29" fill="#92d050"/>
<rect x="436.30" y="678.07" width="37.40" height="10.29" fill="#ffff00"/>
<rect x="473.70" y="678.07" width="36.00" height="10.29" fill="#92d050"/>
<rect x="509.70" y="678.07" width="34.10" height="10.29" fill="#92cddc"/>
<rect x="543.80" y="678.07" width="26.70" height="10.29" fill="#ffc000"/>
<rect x="570.50" y="678.07" width="34.50" height="10.29" fill="#d9d9d9"/>
<rect x="40.30" y="688.36" width="63.90" height="10.29" fill="#ffff00"/>
<rect x="168.80" y="688.36" width="14.60" height="10.29" fill="#ffff00"/>
<rect x="215.50" y="688.36" width="15.80" height="10.29" fill="#ffff00"/>
<rect x="417.20" y="688.36" width="19.10" height="10.29" fill="#92d050"/>
<rect x="436.30" y="688.36" width="37.40" height="10.29" fill="#ffff00"/>
<rect x="473.70" y="688.36" width="36.00" height="10.29" fill="#92d050"/>
<rect x="509.70" y="688.36" width="34.10" height="10.29" fill="#92cddc"/>
<rect x="543.80" y="688.36" width="26.70" height="10.29" fill="#ffc000"/>
<rect x="570.50" y="688.36" width="34.50" height="10.29" fill="#d9d9d9"/>
<rect x="40.30" y="698.65" width="63.90" height="10.29" fill="#ffff00"/>
<rect x="168.80" y="698.65" width="14.60" height="10.29" fill="#ffff00"/>
<rect x="215.50" y="698.65" width="15.80" height="10.29" fill="#ffff00"/>
<rect x="417.20" y="698.65" width="19.10" height="10.29" fill="#92d050"/>
<rect x="436.30" y="698.65" width="37.40" height="10.29" fill="#ffff00"/>
<rect x="473.70" y="698.65" width="36.00" height="10.29" fill="#92d050"/>
<rect x="509.70" y="698.65" width="34.10" height="10.29" fill="#92cddc"/>
<rect x="543.80" y="698.65" width="26.70" height="10.29" fill="#ffc000"/>
<rect x="570.50" y="698.65" width="34.50" height="10.29" fill="#d9d9d9"/>
<rect x="40.30" y="708.94" width="63.90" height="10.29" fill="#ffff00"/>
<rect x="168.80" y="708.94" width="14.60" height="10.29" fill="#ffff00"/>
<rect x="215.50" y="708.94" width="15.80" height="10.29" fill="#ffff00"/>
<rect x="417.20" y="708.94" width="19.10" height="10.29" fill="#92d050"/>
<rect x="436.30" y="708.94" width="37.40" height="10.29" fill="#ffff00"/>
<rect x="473.70" y="708.94" width="36.00" height="10.29" fill="#92d050"/>
<rect x="509.70" y="708.94" width="34.10" height="10.29" fill="#92cddc"/>
<rect x="543.80" y="708.94" width="26.70" height="10.29" fill="#ffc000"/>
<rect x="570.50" y="708.94" width="34.50" height="10.29" fill="#d9d9d9"/>
<rect x="40.30" y="719.23" width="63.90" height="10.29" fill="#ffff00"/>
<rect x="168.80" y="719.23" width="14.60" height="10.29" fill="#ffff00"/>
<rect x="215.50" y="719.23" width="15.80" height="10.29" fill="#ffff00"/>
<rect x="417.20" y="719.23" width="19.10" height="10.29" fill="#92d050"/>
<rect x="436.30" y="719.23" width="37.40" height="10.29" fill="#ffff00"/>
<rect x="473.70" y="719.23" width="36.00" height="10.29" fill="#92d050"/>
<rect x="509.70" y="719.23" width="34.10" height="10.29" fill="#92cddc"/>
<rect x="543.80" y="719.23" width="26.70" height="10.29" fill="#ffc000"/>
<rect x="570.50" y="719.23" width="34.50" height="10.29" fill="#d9d9d9"/>
<rect x="40.30" y="729.52" width="63.90" height="10.29" fill="#ffff00"/>
<rect x="168.80" y="729.52" width="14.60" height="10.29" fill="#ffff00"/>
<rect x="215.50" y="729.52" width="15.80" height="10.29" fill="#ffff00"/>
<rect x="417.20" y="729.52" width="19.10" height="10.29" fill="#92d050"/>
<rect x="436.30" y="729.52" width="37.40" height="10.29" fill="#ffff00"/>
<rect x="473.70" y="729.52" width="36.00" height="10.29" fill="#92d050"/>
<rect x="509.70" y="729.52" width="34.10" height="10.29" fill="#92cddc"/>
<rect x="543.80" y="729.52" width="26.70" height="10.29" fill="#ffc000"/>
<rect x="570.50" y="729.52" width="34.50" height="10.29" fill="#d9d9d9"/>
<rect x="40.30" y="739.81" width="63.90" height="10.29" fill="#ffff00"/>
<rect x="168.80" y="739.81" width="14.60" height="10.29" fill="#ffff00"/>
<rect x="215.50" y="739.81" width="15.80" height="10.29" fill="#ffff00"/>
<rect x="417.20" y="739.81" width="19.10" height="10.29" fill="#92d050"/>
<rect x="436.30" y="739.81" width="37.40" height="10.29" fill="#ffff00"/>
<rect x="473.70" y="739.81" width="36.00" height="10.29" fill="#92d050"/>
<rect x="509.70" y="739.81" width="34.10" height="10.29" fill="#92cddc"/>
<rect x="543.80" y="739.81" width="26.70" height="10.29" fill="#ffc000"/>
<rect x="570.50" y="739.81" width="34.50" height="10.29" fill="#d9d9d9"/>
<rect x="40.30" y="750.10" width="63.90" height="10.29" fill="#ffff00"/>
<rect x="168.80" y="750.10" width="14.60" height="10.29" fill="#ffff00"/>
<rect x="215.50" y="750.10" width="15.80" height="10.29" fill="#ffff00"/>
<rect x="417.20" y="750.10" width="19.10" height="10.29" fill="#92d050"/>
<rect x="436.30" y="750.10" width="37.40" height="10.29" fill="#ffff00"/>
<rect x="473.70" y="750.10" width="36.00" height="10.29" fill="#92d050"/>
<rect x="509.70" y="750.10" width="34.10" height="10.29" fill="#92cddc"/>
<rect x="543.80" y="750.10" width="26.70" height="10.29" fill="#ffc000"/>
<rect x="570.50" y="750.10" width="34.50" height="10.29" fill="#d9d9d9"/>
<rect x="40.30" y="760.39" width="63.90" height="10.29" fill="#ffff00"/>
<rect x="168.80" y="760.39" width="14.60" height="10.29" fill="#ffff00"/>
<rect x="215.50" y="760.39" width="15.80" height="10.29" fill="#ffff00"/>
<rect x="417.20" y="760.39" width="19.10" height="10.29" fill="#92d050"/>
<rect x="436.30" y="760.39" width="37.40" height="10.29" fill="#ffff00"/>
<rect x="473.70" y="760.39" width="36.00" height="10.29" fill="#92d050"/>
<rect x="509.70" y="760.39" width="34.10" height="10.29" fill="#92cddc"/>
<rect x="543.80" y="760.39" width="26.70" height="10.29" fill="#ffc000"/>
<rect x="570.50" y="760.39" width="34.50" height="10.29" fill="#d9d9d9"/>
<rect x="40.30" y="770.68" width="63.90" height="10.29" fill="#ffff00"/>
<rect x="168.80" y="770.68" width="14.60" height="10.29" fill="#ffff00"/>
<rect x="215.50" y="770.68" width="15.80" height="10.29" fill="#ffff00"/>
<rect x="417.20" y="770.68" width="19.10" height="10.29" fill="#92d050"/>
<rect x="436.30" y="770.68" width="37.40" height="10.29" fill="#ffff00"/>
<rect x="473.70" y="770.68" width="36.00" height="10.29" fill="#92d050"/>
<rect x="509.70" y="770.68" width="34.10" height="10.29" fill="#92cddc"/>
<rect x="543.80" y="770.68" width="26.70" height="10.29" fill="#ffc000"/>
<rect x="570.50" y="770.68" width="34.50" height="10.29" fill="#d9d9d9"/>
<rect x="40.30" y="780.97" width="63.90" height="10.29" fill="#ffff00"/>
<rect x="168.80" y="780.97" width="14.60" height="10.29" fill="#ffff00"/>
<rect x="215.50" y="780.97" width="15.80" height="10.29" fill="#ffff00"/>
<rect x="417.20" y="780.97" width="19.10" height="10.29" fill="#92d050"/>
<rect x="436.30" y="780.97" width="37.40" height="10.29" fill="#ffff00"/>
<rect x="473.70" y="780.97" width="36.00" height="10.29" fill="#92d050"/>
<rect x="509.70" y="780.97" width="34.10" height="10.29" fill="#92cddc"/>
<rect x="543.80" y="780.97" width="26.70" height="10.29" fill="#ffc000"/>
<rect x="570.50" y="780.97" width="34.50" height="10.29" fill="#d9d9d9"/>
<rect x="40.30" y="791.26" width="63.90" height="10.29" fill="#ffff00"/>
<rect x="168.80" y="791.26" width="14.60" height="10.29" fill="#ffff00"/>
<rect x="215.50" y="791.26" width="15.80" height="10.29" fill="#ffff00"/>
<rect x="417.20" y="791.26" width="19.10" height="10.29" fill="#92d050"/>
<rect x="436.30" y="791.26" width="37.40" height="10.29" fill="#ffff00"/>
<rect x="473.70" y="791.26" width="36.00" height="10.29" fill="#92d050"/>
<rect x="509.70" y="791.26" width="34.10" height="10.29" fill="#92cddc"/>
<rect x="543.80" y="791.26" width="26.70" height="10.29" fill="#ffc000"/>
<rect x="570.50" y="791.26" width="34.50" height="10.29" fill="#d9d9d9"/>
<rect x="40.30" y="801.55" width="63.90" height="10.29" fill="#ffff00"/>
<rect x="168.80" y="801.55" width="14.60" height="10.29" fill="#ffff00"/>
<rect x="215.50" y="801.55" width="15.80" height="10.29" fill="#ffff00"/>
<rect x="417.20" y="801.55" width="19.10" height="10.29" fill="#92d050"/>
<rect x="436.30" y="801.55" width="37.40" height="10.29" fill="#ffff00"/>
<rect x="473.70" y="801.55" width="36.00" height="10.29" fill="#92d050"/>
<rect x="509.70" y="801.55" width="34.10" height="10.29" fill="#92cddc"/>
<rect x="543.80" y="801.55" width="26.70" height="10.29" fill="#ffc000"/>
<rect x="570.50" y="801.55" width="34.50" height="10.29" fill="#d9d9d9"/>
<rect x="40.30" y="811.84" width="63.90" height="10.29" fill="#ffff00"/>
<rect x="168.80" y="811.84" width="14.60" height="10.29" fill="#ffff00"/>
<rect x="215.50" y="811.84" width="15.80" height="10.29" fill="#ffff00"/>
<rect x="417.20" y="811.84" width="19.10" height="10.29" fill="#92d050"/>
<rect x="436.30" y="811.84" width="37.40" height="10.29" fill="#ffff00"/>
<rect x="473.70" y="811.84" width="36.00" height="10.29" fill="#92d050"/>
<rect x="509.70" y="811.84" width="34.10" height="10.29" fill="#92cddc"/>
<rect x="543.80" y="811.84" width="26.70" height="10.29" fill="#ffc000"/>
<rect x="570.50" y="811.84" width="34.50" height="10.29" fill="#d9d9d9"/>
<rect x="40.30" y="822.13" width="63.90" height="10.29" fill="#ffff00"/>
<rect x="168.80" y="822.13" width="14.60" height="10.29" fill="#ffff00"/>
<rect x="215.50" y="822.13" width="15.80" height="10.29" fill="#ffff00"/>
<rect x="417.20" y="822.13" width="19.10" height="10.29" fill="#92d050"/>
<rect x="436.30" y="822.13" width="37.40" height="10.29" fill="#ffff00"/>
<rect x="473.70" y="822.13" width="36.00" height="10.29" fill="#92d050"/>
<rect x="509.70" y="822.13" width="34.10" height="10.29" fill="#92cddc"/>
<rect x="543.80" y="822.13" width="26.70" height="10.29" fill="#ffc000"/>
<rect x="570.50" y="822.13" width="34.50" height="10.29" fill="#d9d9d9"/>
<rect x="40.30" y="832.42" width="63.90" height="10.29" fill="#ffff00"/>
<rect x="168.80" y="832.42" width="14.60" height="10.29" fill="#ffff00"/>
<rect x="215.50" y="832.42" width="15.80" height="10.29" fill="#ffff00"/>
<rect x="417.20" y="832.42" width="19.10" height="10.29" fill="#92d050"/>
<rect x="436.30" y="832.42" width="37.40" height="10.29" fill="#ffff00"/>
<rect x="473.70" y="832.42" width="36.00" height="10.29" fill="#92d050"/>
<rect x="509.70" y="832.42" width="34.10" height="10.29" fill="#92cddc"/>
<rect x="543.80" y="832.42" width="26.70" height="10.29" fill="#ffc000"/>
<rect x="570.50" y="832.42" width="34.50" height="10.29" fill="#d9d9d9"/>
<rect x="40.30" y="842.71" width="63.90" height="10.29" fill="#ffff00"/>
<rect x="168.80" y="842.71" width="14.60" height="10.29" fill="#ffff00"/>
<rect x="215.50" y="842.71" width="15.80" height="10.29" fill="#ffff00"/>
<rect x="417.20" y="842.71" width="19.10" height="10.29" fill="#92d050"/>
<rect x="436.30" y="842.71" width="37.40" height="10.29" fill="#ffff00"/>
<rect x="473.70" y="842.71" width="36.00" height="10.29" fill="#92d050"/>
<rect x="509.70" y="842.71" width="34.10" height="10.29" fill="#92cddc"/>
<rect x="543.80" y="842.71" width="26.70" height="10.29" fill="#ffc000"/>
<rect x="570.50" y="842.71" width="34.50" height="10.29" fill="#d9d9d9"/>
<rect x="40.30" y="853.00" width="63.90" height="10.29" fill="#ffff00"/>
<rect x="168.80" y="853.00" width="14.60" height="10.29" fill="#ffff00"/>
<rect x="215.50" y="853.00" width="15.80" height="10.29" fill="#ffff00"/>
<rect x="417.20" y="853.00" width="19.10" height="10.29" fill="#92d050"/>
<rect x="436.30" y="853.00" width="37.40" height="10.29" fill="#ffff00"/>
<rect x="473.70" y="853.00" width="36.00" height="10.29" fill="#92d050"/>
<rect x="509.70" y="853.00" width="34.10" height="10.29" fill="#92cddc"/>
<rect x="543.80" y="853.00" width="26.70" height="10.29" fill="#ffc000"/>
<rect x="570.50" y="853.00" width="34.50" height="10.29" fill="#d9d9d9"/>
<rect x="32.25" y="512.55" width="663.00" height="1.50" fill="#1c1c1c"/>
<rect x="103.55" y="519.65" width="314.30" height="1.30" fill="#1c1c1c"/>
<rect x="435.65" y="519.65" width="108.80" height="1.30" fill="#1c1c1c"/>
<rect x="230.65" y="525.65" width="187.20" height="1.30" fill="#1c1c1c"/>
<rect x="230.65" y="531.65" width="187.20" height="1.30" fill="#1c1c1c"/>
<rect x="32.35" y="537.65" width="662.80" height="1.30" fill="#1c1c1c"/>
<rect x="32.35" y="543.65" width="662.80" height="1.30" fill="#1c1c1c"/>
<rect x="32.35" y="553.94" width="662.80" height="1.30" fill="#1c1c1c"/>
<rect x="32.35" y="564.23" width="662.80" height="1.30" fill="#1c1c1c"/>
<rect x="32.35" y="574.52" width="662.80" height="1.30" fill="#1c1c1c"/>
<rect x="32.35" y="584.81" width="662.80" height="1.30" fill="#1c1c1c"/>
<rect x="32.35" y="595.10" width="662.80" height="1.30" fill="#1c1c1c"/>
<rect x="32.35" y="605.39" width="662.80" height="1.30" fill="#1c1c1c"/>
<rect x="32.35" y="615.68" width="662.80" height="1.30" fill="#1c1c1c"/>
<rect x="32.35" y="625.97" width="662.80" height="1.30" fill="#1c1c1c"/>
<rect x="32.35" y="636.26" width="662.80" height="1.30" fill="#1c1c1c"/>
<rect x="32.35" y="646.55" width="662.80" height="1.30" fill="#1c1c1c"/>
<rect x="32.35" y="656.84" width="662.80" height="1.30" fill="#1c1c1c"/>
<rect x="32.35" y="667.13" width="662.80" height="1.30" fill="#1c1c1c"/>
<rect x="32.35" y="677.42" width="662.80" height="1.30" fill="#1c1c1c"/>
<rect x="32.35" y="687.71" width="662.80" height="1.30" fill="#1c1c1c"/>
<rect x="32.35" y="698.00" width="662.80" height="1.30" fill="#1c1c1c"/>
<rect x="32.35" y="708.29" width="662.80" height="1.30" fill="#1c1c1c"/>
<rect x="32.35" y="718.58" width="662.80" height="1.30" fill="#1c1c1c"/>
<rect x="32.35" y="728.87" width="662.80" height="1.30" fill="#1c1c1c"/>
<rect x="32.35" y="739.16" width="662.80" height="1.30" fill="#1c1c1c"/>
<rect x="32.35" y="749.45" width="662.80" height="1.30" fill="#1c1c1c"/>
<rect x="32.35" y="759.74" width="662.80" height="1.30" fill="#1c1c1c"/>
<rect x="32.35" y="770.03" width="662.80" height="1.30" fill="#1c1c1c"/>
<rect x="32.35" y="780.32" width="662.80" height="1.30" fill="#1c1c1c"/>
<rect x="32.35" y="790.61" width="662.80" height="1.30" fill="#1c1c1c"/>
<rect x="32.35" y="800.90" width="662.80" height="1.30" fill="#1c1c1c"/>
<rect x="32.35" y="811.19" width="662.80" height="1.30" fill="#1c1c1c"/>
<rect x="32.35" y="821.48" width="662.80" height="1.30" fill="#1c1c1c"/>
<rect x="32.35" y="831.77" width="662.80" height="1.30" fill="#1c1c1c"/>
<rect x="32.35" y="842.06" width="662.80" height="1.30" fill="#1c1c1c"/>
<rect x="32.35" y="852.35" width="662.80" height="1.30" fill="#1c1c1c"/>
<rect x="32.25" y="862.54" width="663.00" height="1.50" fill="#1c1c1c"/>
<rect x="32.25" y="512.55" width="1.50" height="351.49" fill="#1c1c1c"/>
<rect x="39.65" y="512.65" width="1.30" height="351.29" fill="#1c1c1c"/>
<rect x="103.55" y="512.65" width="1.30" height="351.29" fill="#1c1c1c"/>
<rect x="116.75" y="519.65" width="1.30" height="344.29" fill="#1c1c1c"/>
<rect x="129.95" y="519.65" width="1.30" height="344.29" fill="#1c1c1c"/>
<rect x="153.15" y="519.65" width="1.30" height="344.29" fill="#1c1c1c"/>
<rect x="168.15" y="519.65" width="1.30" height="344.29" fill="#1c1c1c"/>
<rect x="182.75" y="512.65" width="1.30" height="351.29" fill="#1c1c1c"/>
<rect x="198.55" y="519.65" width="1.30" height="344.29" fill="#1c1c1c"/>
<rect x="214.85" y="519.65" width="1.30" height="344.29" fill="#1c1c1c"/>
<rect x="230.65" y="512.65" width="1.30" height="351.29" fill="#1c1c1c"/>
<rect x="250.35" y="525.65" width="1.30" height="338.29" fill="#1c1c1c"/>
<rect x="283.05" y="525.65" width="1.30" height="338.29" fill="#1c1c1c"/>
<rect x="339.05" y="519.65" width="1.30" height="344.29" fill="#1c1c1c"/>
<rect x="354.65" y="525.65" width="1.30" height="338.29" fill="#1c1c1c"/>
<rect x="370.55" y="525.65" width="1.30" height="338.29" fill="#1c1c1c"/>
<rect x="386.05" y="525.65" width="1.30" height="338.29" fill="#1c1c1c"/>
<rect x="401.35" y="525.65" width="1.30" height="338.29" fill="#1c1c1c"/>
<rect x="416.55" y="512.65" width="1.30" height="351.29" fill="#1c1c1c"/>
<rect x="435.65" y="512.65" width="1.30" height="351.29" fill="#1c1c1c"/>
<rect x="473.05" y="519.65" width="1.30" height="344.29" fill="#1c1c1c"/>
<rect x="509.05" y="519.65" width="1.30" height="344.29" fill="#1c1c1c"/>
<rect x="543.15" y="512.65" width="1.30" height="351.29" fill="#1c1c1c"/>
<rect x="569.85" y="512.65" width="1.30" height="351.29" fill="#1c1c1c"/>
<rect x="604.35" y="512.65" width="1.30" height="351.29" fill="#1c1c1c"/>
<rect x="693.75" y="512.55" width="1.50" height="351.49" fill="#1c1c1c"/>
<rect x="473.90" y="968.20" width="35.40" height="5.90" rx="0.8" fill="#92d050" stroke="#1c2a10" stroke-width="1.2"/>
<rect x="33.00" y="979.30" width="7.30" height="25.00" fill="#c4d79b"/>
<rect x="40.30" y="979.30" width="63.90" height="25.00" fill="#92cddc"/>
<rect x="104.20" y="979.30" width="313.00" height="7.00" fill="#ffff00"/>
<rect x="104.20" y="986.30" width="13.20" height="18.00" fill="#fcd5b4"/>
<rect x="117.40" y="986.30" width="13.20" height="18.00" fill="#fcd5b4"/>
<rect x="130.60" y="986.30" width="23.20" height="18.00" fill="#fcd5b4"/>
<rect x="153.80" y="986.30" width="15.00" height="18.00" fill="#fcd5b4"/>
<rect x="183.40" y="986.30" width="15.80" height="18.00" fill="#fcd5b4"/>
<rect x="199.20" y="986.30" width="16.30" height="18.00" fill="#fcd5b4"/>
<rect x="168.80" y="986.30" width="14.60" height="18.00" fill="#92d050"/>
<rect x="215.50" y="986.30" width="15.80" height="18.00" fill="#92d050"/>
<rect x="231.30" y="986.30" width="185.90" height="6.00" fill="#b8cce4"/>
<rect x="231.30" y="992.30" width="185.90" height="12.00" fill="#f2dcdb"/>
<rect x="417.20" y="979.30" width="19.10" height="25.00" fill="#92d050"/>
<rect x="436.30" y="979.30" width="107.50" height="7.00" fill="#fcd5b4"/>
<rect x="436.30" y="986.30" width="37.40" height="18.00" fill="#ffff00"/>
<rect x="473.70" y="986.30" width="36.00" height="18.00" fill="#92d050"/>
<rect x="509.70" y="986.30" width="34.10" height="18.00" fill="#92cddc"/>
<rect x="543.80" y="979.30" width="26.70" height="25.00" fill="#ffc000"/>
<rect x="570.50" y="979.30" width="34.50" height="25.00" fill="#d9d9d9"/>
<rect x="605.00" y="979.30" width="89.50" height="25.00" fill="#ddd9c4"/>
<rect x="33.00" y="1004.30" width="661.50" height="6.00" fill="#dce6f1"/>
<rect x="40.30" y="1010.30" width="63.90" height="10.29" fill="#ffff00"/>
<rect x="168.80" y="1010.30" width="14.60" height="10.29" fill="#ffff00"/>
<rect x="215.50" y="1010.30" width="15.80" height="10.29" fill="#ffff00"/>
<rect x="417.20" y="1010.30" width="19.10" height="10.29" fill="#92d050"/>
<rect x="436.30" y="1010.30" width="37.40" height="10.29" fill="#ffff00"/>
<rect x="473.70" y="1010.30" width="36.00" height="10.29" fill="#92d050"/>
<rect x="509.70" y="1010.30" width="34.10" height="10.29" fill="#92cddc"/>
<rect x="543.80" y="1010.30" width="26.70" height="10.29" fill="#ffc000"/>
<rect x="570.50" y="1010.30" width="34.50" height="10.29" fill="#d9d9d9"/>
<rect x="40.30" y="1020.59" width="63.90" height="10.29" fill="#ffff00"/>
<rect x="168.80" y="1020.59" width="14.60" height="10.29" fill="#ffff00"/>
<rect x="215.50" y="1020.59" width="15.80" height="10.29" fill="#ffff00"/>
<rect x="417.20" y="1020.59" width="19.10" height="10.29" fill="#92d050"/>
<rect x="436.30" y="1020.59" width="37.40" height="10.29" fill="#ffff00"/>
<rect x="473.70" y="1020.59" width="36.00" height="10.29" fill="#92d050"/>
<rect x="509.70" y="1020.59" width="34.10" height="10.29" fill="#92cddc"/>
<rect x="543.80" y="1020.59" width="26.70" height="10.29" fill="#ffc000"/>
<rect x="570.50" y="1020.59" width="34.50" height="10.29" fill="#d9d9d9"/>
<rect x="32.25" y="978.55" width="663.00" height="1.50" fill="#1c1c1c"/>
<rect x="103.55" y="985.65" width="314.30" height="1.30" fill="#1c1c1c"/>
<rect x="435.65" y="985.65" width="108.80" height="1.30" fill="#1c1c1c"/>
<rect x="230.65" y="991.65" width="187.20" height="1.30" fill="#1c1c1c"/>
<rect x="230.65" y="997.65" width="187.20" height="1.30" fill="#1c1c1c"/>
<rect x="32.35" y="1003.65" width="662.80" height="1.30" fill="#1c1c1c"/>
<rect x="32.35" y="1009.65" width="662.80" height="1.30" fill="#1c1c1c"/>
<rect x="32.35" y="1019.94" width="662.80" height="1.30" fill="#1c1c1c"/>
<rect x="32.25" y="978.55" width="1.50" height="52.20" fill="#1c1c1c"/>
<rect x="39.65" y="978.65" width="1.30" height="52.00" fill="#1c1c1c"/>
<rect x="103.55" y="978.65" width="1.30" height="52.00" fill="#1c1c1c"/>
<rect x="116.75" y="985.65" width="1.30" height="45.00" fill="#1c1c1c"/>
<rect x="129.95" y="985.65" width="1.30" height="45.00" fill="#1c1c1c"/>
<rect x="153.15" y="985.65" width="1.30" height="45.00" fill="#1c1c1c"/>
<rect x="168.15" y="985.65" width="1.30" height="45.00" fill="#1c1c1c"/>
<rect x="182.75" y="978.65" width="1.30" height="52.00" fill="#1c1c1c"/>
<rect x="198.55" y="985.65" width="1.30" height="45.00" fill="#1c1c1c"/>
<rect x="214.85" y="985.65" width="1.30" height="45.00" fill="#1c1c1c"/>
<rect x="230.65" y="978.65" width="1.30" height="52.00" fill="#1c1c1c"/>
<rect x="250.35" y="991.65" width="1.30" height="39.00" fill="#1c1c1c"/>
<rect x="283.05" y="991.65" width="1.30" height="39.00" fill="#1c1c1c"/>
<rect x="339.05" y="985.65" width="1.30" height="45.00" fill="#1c1c1c"/>
<rect x="354.65" y="991.65" width="1.30" height="39.00" fill="#1c1c1c"/>
<rect x="370.55" y="991.65" width="1.30" height="39.00" fill="#1c1c1c"/>
<rect x="386.05" y="991.65" width="1.30" height="39.00" fill="#1c1c1c"/>
<rect x="401.35" y="991.65" width="1.30" height="39.00" fill="#1c1c1c"/>
<rect x="416.55" y="978.65" width="1.30" height="52.00" fill="#1c1c1c"/>
<rect x="435.65" y="978.65" width="1.30" height="52.00" fill="#1c1c1c"/>
<rect x="473.05" y="985.65" width="1.30" height="45.00" fill="#1c1c1c"/>
<rect x="509.05" y="985.65" width="1.30" height="45.00" fill="#1c1c1c"/>
<rect x="543.15" y="978.65" width="1.30" height="52.00" fill="#1c1c1c"/>
<rect x="569.85" y="978.65" width="1.30" height="52.00" fill="#1c1c1c"/>
<rect x="604.35" y="978.65" width="1.30" height="52.00" fill="#1c1c1c"/>
<rect x="693.75" y="978.55" width="1.50" height="52.20" fill="#1c1c1c"/>
</svg>
<div id="txt">
<div class="t tc ttl" style="left:219.50px;top:21.90px;width:286.00px;height:6.00px;line-height:6.00px">ALOKASI DANA KAPITASI JASA PELAYANAN KESEHATAN (DASAR PERATURAN BUPATI MEMPAWAH NOMOR 80 TAHUN 2016)</div>
<div class="t tl lbl" style="left:32.60px;top:29.30px;width:67.40px;height:6.00px;line-height:6.00px">PUSKESMAS</div>
<div class="t tl lbl" style="left:32.60px;top:36.10px;width:67.40px;height:6.00px;line-height:6.00px">BULAN</div>
<div class="t tl lbl" style="left:104.80px;top:29.30px;width:3.20px;height:6.00px;line-height:6.00px">:</div>
<div class="t tl lbl" style="left:104.80px;top:36.10px;width:3.20px;height:6.00px;line-height:6.00px">:</div>
<div class="t tl lbl lv" style="left:117.20px;top:29.30px;width:82.80px;height:6.00px;line-height:6.00px">Rawat Inap Sungai Pinyuh</div>
<div class="t tl lbl lv" style="left:117.20px;top:36.10px;width:82.80px;height:6.00px;line-height:6.00px">Des-19</div>
<div class="t tr d dn gb" style="left:473.70px;top:35.90px;width:34.50px;height:7.00px;line-height:7.00px">11,031,990</div>
<div class="t tc hb" style="left:30.00px;top:55.90px;width:13.30px;height:6.00px;line-height:6.00px">NO</div>
<div class="t tc hb" style="left:40.30px;top:56.00px;width:63.90px;height:6.00px;line-height:6.00px">NAMA</div>
<div class="t tc hb" style="left:104.20px;top:48.20px;width:79.20px;height:6.00px;line-height:6.00px">POINT</div>
<div class="t tc hb" style="left:183.40px;top:48.20px;width:47.90px;height:6.00px;line-height:6.00px">POINT</div>
<div class="t tc hb" style="left:231.30px;top:48.20px;width:185.90px;height:6.00px;line-height:6.00px">POINT</div>
<div class="t tc h" style="left:104.20px;top:59.10px;width:13.20px;height:6.00px;line-height:6.00px">PEND</div>
<div class="t tc h" style="left:117.40px;top:54.00px;width:13.20px;height:6.00px;line-height:6.00px">1 Hari</div>
<div class="t tc hs" style="left:117.40px;top:57.50px;width:13.20px;height:6.00px;line-height:6.00px">tdk</div>
<div class="t tc h" style="left:117.40px;top:62.30px;width:13.20px;height:6.00px;line-height:6.00px">Hadir</div>
<div class="t tc h" style="left:130.60px;top:54.00px;width:23.20px;height:6.00px;line-height:6.00px">Per Hari</div>
<div class="t tc h" style="left:130.60px;top:59.80px;width:23.20px;height:6.00px;line-height:6.00px">Tenaga</div>
<div class="t tc hs" style="left:153.80px;top:54.00px;width:15.00px;height:6.00px;line-height:6.00px">item</div>
<div class="t tc h" style="left:153.80px;top:63.10px;width:15.00px;height:6.00px;line-height:6.00px">(4x5)</div>
<div class="t tc hb" style="left:168.80px;top:59.10px;width:14.60px;height:6.00px;line-height:6.00px">(3 - 6)</div>
<div class="t tc h" style="left:183.40px;top:54.00px;width:15.80px;height:6.00px;line-height:6.00px">2 Hari</div>
<div class="t tc hs" style="left:183.40px;top:57.50px;width:15.80px;height:6.00px;line-height:6.00px">Kerja</div>
<div class="t tc h" style="left:183.40px;top:62.30px;width:15.80px;height:6.00px;line-height:6.00px">Efektiv</div>
<div class="t tc h" style="left:199.20px;top:54.00px;width:16.30px;height:6.00px;line-height:6.00px">2 Hari</div>
<div class="t tc hs" style="left:199.20px;top:57.50px;width:16.30px;height:6.00px;line-height:6.00px">tdk</div>
<div class="t tc h" style="left:199.20px;top:62.30px;width:16.30px;height:6.00px;line-height:6.00px">Hadir</div>
<div class="t tc hb" style="left:215.50px;top:55.70px;width:15.80px;height:6.00px;line-height:6.00px">(8-9)</div>
<div class="t tc hb" style="left:231.30px;top:54.10px;width:108.40px;height:6.00px;line-height:6.00px">Jabatan Administratif</div>
<div class="t tc hb" style="left:339.70px;top:54.10px;width:77.50px;height:6.00px;line-height:6.00px">Masa Kerja</div>
<div class="t tc h" style="left:231.30px;top:60.40px;width:19.70px;height:6.00px;line-height:6.00px">Ka. Pusk</div>
<div class="t tc h" style="left:231.30px;top:66.50px;width:19.70px;height:6.00px;line-height:6.00px">100</div>
<div class="t tc h" style="left:251.00px;top:60.40px;width:32.70px;height:6.00px;line-height:6.00px">Bend Kapitasi</div>
<div class="t tc h" style="left:251.00px;top:66.50px;width:32.70px;height:6.00px;line-height:6.00px">50</div>
<div class="t tc h" style="left:283.70px;top:60.40px;width:56.00px;height:6.00px;line-height:6.00px">Ka TU(P) Keuangan Pusk</div>
<div class="t tc h" style="left:283.70px;top:66.50px;width:56.00px;height:6.00px;line-height:6.00px">30</div>
<div class="t tc h" style="left:339.70px;top:60.40px;width:15.60px;height:6.00px;line-height:6.00px">&gt;25</div>
<div class="t tc h" style="left:339.70px;top:66.50px;width:15.60px;height:6.00px;line-height:6.00px">25</div>
<div class="t tc h" style="left:355.30px;top:60.40px;width:15.90px;height:6.00px;line-height:6.00px">21-25</div>
<div class="t tc h" style="left:355.30px;top:66.50px;width:15.90px;height:6.00px;line-height:6.00px">20</div>
<div class="t tc h" style="left:371.20px;top:60.40px;width:15.50px;height:6.00px;line-height:6.00px">16-20</div>
<div class="t tc h" style="left:371.20px;top:66.50px;width:15.50px;height:6.00px;line-height:6.00px">15</div>
<div class="t tc h" style="left:386.70px;top:60.40px;width:15.30px;height:6.00px;line-height:6.00px">11-15</div>
<div class="t tc h" style="left:386.70px;top:66.50px;width:15.30px;height:6.00px;line-height:6.00px">10</div>
<div class="t tc h" style="left:402.00px;top:60.40px;width:15.20px;height:6.00px;line-height:6.00px">5-10</div>
<div class="t tc h" style="left:402.00px;top:66.50px;width:15.20px;height:6.00px;line-height:6.00px">5</div>
<div class="t tc hb" style="left:417.20px;top:47.50px;width:19.10px;height:6.00px;line-height:6.00px">Σ</div>
<div class="t tc hb" style="left:417.20px;top:57.20px;width:19.10px;height:6.00px;line-height:6.00px">(11 s/d</div>
<div class="t tc hb" style="left:417.20px;top:62.20px;width:19.10px;height:6.00px;line-height:6.00px">40)</div>
<div class="t tc hb" style="left:436.30px;top:47.90px;width:107.50px;height:6.00px;line-height:6.00px">TOTAL</div>
<div class="t tc hb" style="left:436.30px;top:53.80px;width:37.40px;height:6.00px;line-height:6.00px">POINT</div>
<div class="t tc hb" style="left:436.30px;top:63.00px;width:37.40px;height:6.00px;line-height:6.00px">(7+10+41)</div>
<div class="t tc hb" style="left:473.70px;top:53.80px;width:36.00px;height:6.00px;line-height:6.00px">70 % JASA</div>
<div class="t tc hb" style="left:473.70px;top:63.00px;width:36.00px;height:6.00px;line-height:6.00px">PELAYANAN</div>
<div class="t tc hb" style="left:509.70px;top:53.80px;width:34.10px;height:6.00px;line-height:6.00px">JASPELKES</div>
<div class="t tc hb" style="left:509.70px;top:63.00px;width:34.10px;height:6.00px;line-height:6.00px">DITERIMA</div>
<div class="t tc hb" style="left:543.80px;top:57.20px;width:26.70px;height:6.00px;line-height:6.00px">PAJAK</div>
<div class="t tc hb" style="left:570.50px;top:53.80px;width:34.50px;height:6.00px;line-height:6.00px">TOTAL JASA</div>
<div class="t tc hb" style="left:570.50px;top:58.80px;width:34.50px;height:6.00px;line-height:6.00px">YANG DITERIMA</div>
<div class="t tc hr" style="left:605.00px;top:47.80px;width:89.50px;height:6.00px;line-height:6.00px">TANDA</div>
<div class="t tc hr" style="left:605.00px;top:59.70px;width:89.50px;height:6.00px;line-height:6.00px">TANGAN</div>
<div class="t tc d" style="left:33.00px;top:72.40px;width:7.30px;height:6.00px;line-height:6.00px">1</div>
<div class="t tc d" style="left:40.30px;top:72.40px;width:63.90px;height:6.00px;line-height:6.00px">2</div>
<div class="t tc d" style="left:104.20px;top:72.40px;width:13.20px;height:6.00px;line-height:6.00px">3</div>
<div class="t tc d" style="left:117.40px;top:72.40px;width:13.20px;height:6.00px;line-height:6.00px">4</div>
<div class="t tc d" style="left:130.60px;top:72.40px;width:23.20px;height:6.00px;line-height:6.00px">5</div>
<div class="t tc d" style="left:153.80px;top:72.40px;width:15.00px;height:6.00px;line-height:6.00px">6</div>
<div class="t tc d" style="left:168.80px;top:72.40px;width:14.60px;height:6.00px;line-height:6.00px">7</div>
<div class="t tc d" style="left:183.40px;top:72.40px;width:15.80px;height:6.00px;line-height:6.00px">8</div>
<div class="t tc d" style="left:199.20px;top:72.40px;width:16.30px;height:6.00px;line-height:6.00px">9</div>
<div class="t tc d" style="left:215.50px;top:72.40px;width:15.80px;height:6.00px;line-height:6.00px">10</div>
<div class="t tc d" style="left:231.30px;top:72.40px;width:19.70px;height:6.00px;line-height:6.00px">11</div>
<div class="t tc d" style="left:251.00px;top:72.40px;width:32.70px;height:6.00px;line-height:6.00px">12</div>
<div class="t tc d" style="left:283.70px;top:72.40px;width:56.00px;height:6.00px;line-height:6.00px">13</div>
<div class="t tc d" style="left:417.20px;top:72.40px;width:19.10px;height:6.00px;line-height:6.00px">41</div>
<div class="t tc d" style="left:436.30px;top:72.40px;width:37.40px;height:6.00px;line-height:6.00px">42</div>
<div class="t tc d" style="left:473.70px;top:72.40px;width:36.00px;height:6.00px;line-height:6.00px">43</div>
<div class="t tc d" style="left:509.70px;top:72.40px;width:34.10px;height:6.00px;line-height:6.00px">44</div>
<div class="t tc d" style="left:605.00px;top:72.40px;width:89.50px;height:6.00px;line-height:6.00px">45</div>
<div class="t tc d" style="left:33.00px;top:78.50px;width:7.30px;height:10.29px;line-height:10.29px">1</div>
<div class="t tl d nm" style="left:40.70px;top:78.50px;width:63.50px;height:10.29px;line-height:10.29px">dr.Hj. Riska Susanti</div>
<div class="t tc d" style="left:104.20px;top:78.50px;width:13.20px;height:10.29px;line-height:10.29px">150</div>
<div class="t tc d" style="left:117.40px;top:78.50px;width:13.20px;height:10.29px;line-height:10.29px">0</div>
<div class="t tr d" style="left:130.60px;top:78.50px;width:21.60px;height:10.29px;line-height:10.29px">6.82</div>
<div class="t tc d ov" style="left:153.80px;top:78.50px;width:15.00px;height:10.29px;line-height:10.29px">0</div>
<div class="t tc db" style="left:168.80px;top:78.50px;width:14.60px;height:10.29px;line-height:10.29px">150</div>
<div class="t tc d" style="left:183.40px;top:78.50px;width:15.80px;height:10.29px;line-height:10.29px">20</div>
<div class="t tc d" style="left:199.20px;top:78.50px;width:16.30px;height:10.29px;line-height:10.29px">0</div>
<div class="t tc db" style="left:215.50px;top:78.50px;width:15.80px;height:10.29px;line-height:10.29px">20</div>
<div class="t tc ds" style="left:231.30px;top:78.50px;width:19.70px;height:10.29px;line-height:10.29px">100</div>
<div class="t tc ds" style="left:386.70px;top:78.50px;width:15.30px;height:10.29px;line-height:10.29px">10</div>
<div class="t tc db" style="left:417.20px;top:78.50px;width:19.10px;height:10.29px;line-height:10.29px">110</div>
<div class="t tc db" style="left:436.30px;top:78.50px;width:37.40px;height:10.29px;line-height:10.29px">280</div>
<div class="t tr d dn" style="left:473.70px;top:78.50px;width:34.70px;height:10.29px;line-height:10.29px">11,031,990</div>
<div class="t tr db" style="left:509.70px;top:78.50px;width:32.70px;height:10.29px;line-height:10.29px">472,051</div>
<div class="t tr db" style="left:543.80px;top:78.50px;width:25.30px;height:10.29px;line-height:10.29px">70,808</div>
<div class="t tr db" style="left:570.50px;top:78.50px;width:32.90px;height:10.29px;line-height:10.29px">401,243</div>
<div class="t tl d" style="left:605.80px;top:78.50px;width:88.70px;height:10.29px;line-height:10.29px">1</div>
<div class="t tc d" style="left:33.00px;top:88.79px;width:7.30px;height:10.29px;line-height:10.29px">2</div>
<div class="t tl d nm" style="left:40.70px;top:88.79px;width:63.50px;height:10.29px;line-height:10.29px">drg. Ery Wiyanti. S</div>
<div class="t tc d" style="left:104.20px;top:88.79px;width:13.20px;height:10.29px;line-height:10.29px">150</div>
<div class="t tc d" style="left:117.40px;top:88.79px;width:13.20px;height:10.29px;line-height:10.29px">0</div>
<div class="t tr d" style="left:130.60px;top:88.79px;width:21.60px;height:10.29px;line-height:10.29px">6.82</div>
<div class="t tc d ov" style="left:153.80px;top:88.79px;width:15.00px;height:10.29px;line-height:10.29px">0</div>
<div class="t tc db" style="left:168.80px;top:88.79px;width:14.60px;height:10.29px;line-height:10.29px">150</div>
<div class="t tc d" style="left:183.40px;top:88.79px;width:15.80px;height:10.29px;line-height:10.29px">20</div>
<div class="t tc d" style="left:199.20px;top:88.79px;width:16.30px;height:10.29px;line-height:10.29px">0</div>
<div class="t tc db" style="left:215.50px;top:88.79px;width:15.80px;height:10.29px;line-height:10.29px">20</div>
<div class="t tc ds" style="left:386.70px;top:88.79px;width:15.30px;height:10.29px;line-height:10.29px">10</div>
<div class="t tc db" style="left:417.20px;top:88.79px;width:19.10px;height:10.29px;line-height:10.29px">10</div>
<div class="t tc db" style="left:436.30px;top:88.79px;width:37.40px;height:10.29px;line-height:10.29px">180</div>
<div class="t tr d dn" style="left:473.70px;top:88.79px;width:34.70px;height:10.29px;line-height:10.29px">11,031,990</div>
<div class="t tr db" style="left:509.70px;top:88.79px;width:32.70px;height:10.29px;line-height:10.29px">303,461</div>
<div class="t tr db" style="left:543.80px;top:88.79px;width:25.30px;height:10.29px;line-height:10.29px">45,519</div>
<div class="t tr db" style="left:570.50px;top:88.79px;width:32.90px;height:10.29px;line-height:10.29px">257,942</div>
<div class="t tc d" style="left:605.00px;top:88.79px;width:89.50px;height:10.29px;line-height:10.29px">2</div>
<div class="t tc d" style="left:33.00px;top:99.08px;width:7.30px;height:10.29px;line-height:10.29px">3</div>
<div class="t tl d nm" style="left:40.70px;top:99.08px;width:63.50px;height:10.29px;line-height:10.29px">S. Manullang, A.Md.Kep</div>
<div class="t tc d" style="left:104.20px;top:99.08px;width:13.20px;height:10.29px;line-height:10.29px">60</div>
<div class="t tc d" style="left:117.40px;top:99.08px;width:13.20px;height:10.29px;line-height:10.29px">0</div>
<div class="t tr d" style="left:130.60px;top:99.08px;width:21.60px;height:10.29px;line-height:10.29px">2.73</div>
<div class="t tc d ov" style="left:153.80px;top:99.08px;width:15.00px;height:10.29px;line-height:10.29px">0</div>
<div class="t tc db" style="left:168.80px;top:99.08px;width:14.60px;height:10.29px;line-height:10.29px">60</div>
<div class="t tc d" style="left:183.40px;top:99.08px;width:15.80px;height:10.29px;line-height:10.29px">20</div>
<div class="t tc d" style="left:199.20px;top:99.08px;width:16.30px;height:10.29px;line-height:10.29px">0</div>
<div class="t tc db" style="left:215.50px;top:99.08px;width:15.80px;height:10.29px;line-height:10.29px">20</div>
<div class="t tc ds" style="left:339.70px;top:99.08px;width:15.60px;height:10.29px;line-height:10.29px">25</div>
<div class="t tc db" style="left:417.20px;top:99.08px;width:19.10px;height:10.29px;line-height:10.29px">25</div>
<div class="t tc db" style="left:436.30px;top:99.08px;width:37.40px;height:10.29px;line-height:10.29px">105</div>
<div class="t tr d dn" style="left:473.70px;top:99.08px;width:34.70px;height:10.29px;line-height:10.29px">11,031,990</div>
<div class="t tr db" style="left:509.70px;top:99.08px;width:32.70px;height:10.29px;line-height:10.29px">177,019</div>
<div class="t tr db" style="left:543.80px;top:99.08px;width:25.30px;height:10.29px;line-height:10.29px">8,851</div>
<div class="t tr db" style="left:570.50px;top:99.08px;width:32.90px;height:10.29px;line-height:10.29px">168,168</div>
<div class="t tl d" style="left:605.80px;top:99.08px;width:88.70px;height:10.29px;line-height:10.29px">3</div>
<div class="t tc d" style="left:33.00px;top:109.37px;width:7.30px;height:10.29px;line-height:10.29px">4</div>
<div class="t tl d nm" style="left:40.70px;top:109.37px;width:63.50px;height:10.29px;line-height:10.29px">Marlen Manurung, A.Md.KL</div>
<div class="t tc d" style="left:104.20px;top:109.37px;width:13.20px;height:10.29px;line-height:10.29px">60</div>
<div class="t tc d" style="left:117.40px;top:109.37px;width:13.20px;height:10.29px;line-height:10.29px">4</div>
<div class="t tr d" style="left:130.60px;top:109.37px;width:21.60px;height:10.29px;line-height:10.29px">2.73</div>
<div class="t tc d ov" style="left:153.80px;top:109.37px;width:15.00px;height:10.29px;line-height:10.29px">10.9091</div>
<div class="t tc db" style="left:168.80px;top:109.37px;width:14.60px;height:10.29px;line-height:10.29px">49.091</div>
<div class="t tc d" style="left:183.40px;top:109.37px;width:15.80px;height:10.29px;line-height:10.29px">20</div>
<div class="t tc d" style="left:199.20px;top:109.37px;width:16.30px;height:10.29px;line-height:10.29px">4</div>
<div class="t tc db" style="left:215.50px;top:109.37px;width:15.80px;height:10.29px;line-height:10.29px">16</div>
<div class="t tc ds" style="left:339.70px;top:109.37px;width:15.60px;height:10.29px;line-height:10.29px">25</div>
<div class="t tc db" style="left:417.20px;top:109.37px;width:19.10px;height:10.29px;line-height:10.29px">25</div>
<div class="t tc db" style="left:436.30px;top:109.37px;width:37.40px;height:10.29px;line-height:10.29px">90.0909090909091</div>
<div class="t tr d dn" style="left:473.70px;top:109.37px;width:34.70px;height:10.29px;line-height:10.29px">11,031,990</div>
<div class="t tr db" style="left:509.70px;top:109.37px;width:32.70px;height:10.29px;line-height:10.29px">151,884</div>
<div class="t tr db" style="left:543.80px;top:109.37px;width:25.30px;height:10.29px;line-height:10.29px">7,594</div>
<div class="t tr db" style="left:570.50px;top:109.37px;width:32.90px;height:10.29px;line-height:10.29px">144,290</div>
<div class="t tc d" style="left:605.00px;top:109.37px;width:89.50px;height:10.29px;line-height:10.29px">4</div>
<div class="t tc d" style="left:33.00px;top:119.66px;width:7.30px;height:10.29px;line-height:10.29px">5</div>
<div class="t tl d nm" style="left:40.70px;top:119.66px;width:63.50px;height:10.29px;line-height:10.29px">Amrullah, A.Md.Kep</div>
<div class="t tc d" style="left:104.20px;top:119.66px;width:13.20px;height:10.29px;line-height:10.29px">60</div>
<div class="t tc d" style="left:117.40px;top:119.66px;width:13.20px;height:10.29px;line-height:10.29px">2</div>
<div class="t tr d" style="left:130.60px;top:119.66px;width:21.60px;height:10.29px;line-height:10.29px">2.73</div>
<div class="t tc d ov" style="left:153.80px;top:119.66px;width:15.00px;height:10.29px;line-height:10.29px">5.45455</div>
<div class="t tc db" style="left:168.80px;top:119.66px;width:14.60px;height:10.29px;line-height:10.29px">54.545</div>
<div class="t tc d" style="left:183.40px;top:119.66px;width:15.80px;height:10.29px;line-height:10.29px">20</div>
<div class="t tc d" style="left:199.20px;top:119.66px;width:16.30px;height:10.29px;line-height:10.29px">2</div>
<div class="t tc db" style="left:215.50px;top:119.66px;width:15.80px;height:10.29px;line-height:10.29px">18</div>
<div class="t tc ds" style="left:339.70px;top:119.66px;width:15.60px;height:10.29px;line-height:10.29px">25</div>
<div class="t tc db" style="left:417.20px;top:119.66px;width:19.10px;height:10.29px;line-height:10.29px">25</div>
<div class="t tc db" style="left:436.30px;top:119.66px;width:37.40px;height:10.29px;line-height:10.29px">97.5454545454545</div>
<div class="t tr d dn" style="left:473.70px;top:119.66px;width:34.70px;height:10.29px;line-height:10.29px">11,031,990</div>
<div class="t tr db" style="left:509.70px;top:119.66px;width:32.70px;height:10.29px;line-height:10.29px">164,452</div>
<div class="t tr db" style="left:543.80px;top:119.66px;width:25.30px;height:10.29px;line-height:10.29px">8,223</div>
<div class="t tr db" style="left:570.50px;top:119.66px;width:32.90px;height:10.29px;line-height:10.29px">156,229</div>
<div class="t tl d" style="left:605.80px;top:119.66px;width:88.70px;height:10.29px;line-height:10.29px">5</div>
<div class="t tc d" style="left:33.00px;top:129.95px;width:7.30px;height:10.29px;line-height:10.29px">6</div>
<div class="t tl d nm" style="left:40.70px;top:129.95px;width:63.50px;height:10.29px;line-height:10.29px">Ida Farida, A.Md. Keb</div>
<div class="t tc d" style="left:104.20px;top:129.95px;width:13.20px;height:10.29px;line-height:10.29px">60</div>
<div class="t tc d" style="left:117.40px;top:129.95px;width:13.20px;height:10.29px;line-height:10.29px">5</div>
<div class="t tr d" style="left:130.60px;top:129.95px;width:21.60px;height:10.29px;line-height:10.29px">2.73</div>
<div class="t tc d ov" style="left:153.80px;top:129.95px;width:15.00px;height:10.29px;line-height:10.29px">13.6364</div>
<div class="t tc db" style="left:168.80px;top:129.95px;width:14.60px;height:10.29px;line-height:10.29px">46.364</div>
<div class="t tc d" style="left:183.40px;top:129.95px;width:15.80px;height:10.29px;line-height:10.29px">20</div>
<div class="t tc d" style="left:199.20px;top:129.95px;width:16.30px;height:10.29px;line-height:10.29px">5</div>
<div class="t tc db" style="left:215.50px;top:129.95px;width:15.80px;height:10.29px;line-height:10.29px">15</div>
<div class="t tc ds" style="left:339.70px;top:129.95px;width:15.60px;height:10.29px;line-height:10.29px">25</div>
<div class="t tc db" style="left:417.20px;top:129.95px;width:19.10px;height:10.29px;line-height:10.29px">25</div>
<div class="t tc db" style="left:436.30px;top:129.95px;width:37.40px;height:10.29px;line-height:10.29px">86.3636363636364</div>
<div class="t tr d dn" style="left:473.70px;top:129.95px;width:34.70px;height:10.29px;line-height:10.29px">11,031,990</div>
<div class="t tr db" style="left:509.70px;top:129.95px;width:32.70px;height:10.29px;line-height:10.29px">145,600</div>
<div class="t tr db" style="left:543.80px;top:129.95px;width:25.30px;height:10.29px;line-height:10.29px">7,280</div>
<div class="t tr db" style="left:570.50px;top:129.95px;width:32.90px;height:10.29px;line-height:10.29px">138,320</div>
<div class="t tc d" style="left:605.00px;top:129.95px;width:89.50px;height:10.29px;line-height:10.29px">6</div>
<div class="t tc d" style="left:33.00px;top:140.24px;width:7.30px;height:10.29px;line-height:10.29px">7</div>
<div class="t tl d nm" style="left:40.70px;top:140.24px;width:63.50px;height:10.29px;line-height:10.29px">Ignasius. M, S.Ea</div>
<div class="t tc d" style="left:104.20px;top:140.24px;width:13.20px;height:10.29px;line-height:10.29px">80</div>
<div class="t tc d" style="left:117.40px;top:140.24px;width:13.20px;height:10.29px;line-height:10.29px">0</div>
<div class="t tr d" style="left:130.60px;top:140.24px;width:21.60px;height:10.29px;line-height:10.29px">3.64</div>
<div class="t tc d ov" style="left:153.80px;top:140.24px;width:15.00px;height:10.29px;line-height:10.29px">0</div>
<div class="t tc db" style="left:168.80px;top:140.24px;width:14.60px;height:10.29px;line-height:10.29px">80</div>
<div class="t tc d" style="left:183.40px;top:140.24px;width:15.80px;height:10.29px;line-height:10.29px">20</div>
<div class="t tc d" style="left:199.20px;top:140.24px;width:16.30px;height:10.29px;line-height:10.29px">0</div>
<div class="t tc db" style="left:215.50px;top:140.24px;width:15.80px;height:10.29px;line-height:10.29px">20</div>
<div class="t tc ds" style="left:371.20px;top:140.24px;width:15.50px;height:10.29px;line-height:10.29px">15</div>
<div class="t tc db" style="left:417.20px;top:140.24px;width:19.10px;height:10.29px;line-height:10.29px">15</div>
<div class="t tc db" style="left:436.30px;top:140.24px;width:37.40px;height:10.29px;line-height:10.29px">115</div>
<div class="t tr d dn" style="left:473.70px;top:140.24px;width:34.70px;height:10.29px;line-height:10.29px">11,031,990</div>
<div class="t tr db" style="left:509.70px;top:140.24px;width:32.70px;height:10.29px;line-height:10.29px">193,878</div>
<div class="t tr db" style="left:543.80px;top:140.24px;width:25.30px;height:10.29px;line-height:10.29px">9,694</div>
<div class="t tr db" style="left:570.50px;top:140.24px;width:32.90px;height:10.29px;line-height:10.29px">184,184</div>
<div class="t tl d" style="left:605.80px;top:140.24px;width:88.70px;height:10.29px;line-height:10.29px">7</div>
<div class="t tc d" style="left:33.00px;top:150.53px;width:7.30px;height:10.29px;line-height:10.29px">8</div>
<div class="t tl d nm" style="left:40.70px;top:150.53px;width:63.50px;height:10.29px;line-height:10.29px">Lipis, S.Gz</div>
<div class="t tc d" style="left:104.20px;top:150.53px;width:13.20px;height:10.29px;line-height:10.29px">80</div>
<div class="t tc d" style="left:117.40px;top:150.53px;width:13.20px;height:10.29px;line-height:10.29px">1</div>
<div class="t tr d" style="left:130.60px;top:150.53px;width:21.60px;height:10.29px;line-height:10.29px">3.64</div>
<div class="t tc d ov" style="left:153.80px;top:150.53px;width:15.00px;height:10.29px;line-height:10.29px">3.63636</div>
<div class="t tc db" style="left:168.80px;top:150.53px;width:14.60px;height:10.29px;line-height:10.29px">76.364</div>
<div class="t tc d" style="left:183.40px;top:150.53px;width:15.80px;height:10.29px;line-height:10.29px">20</div>
<div class="t tc d" style="left:199.20px;top:150.53px;width:16.30px;height:10.29px;line-height:10.29px">1</div>
<div class="t tc db" style="left:215.50px;top:150.53px;width:15.80px;height:10.29px;line-height:10.29px">19</div>
<div class="t tc ds" style="left:402.00px;top:150.53px;width:15.20px;height:10.29px;line-height:10.29px">5</div>
<div class="t tc db" style="left:417.20px;top:150.53px;width:19.10px;height:10.29px;line-height:10.29px">5</div>
<div class="t tc db" style="left:436.30px;top:150.53px;width:37.40px;height:10.29px;line-height:10.29px">100.363636363636</div>
<div class="t tr d dn" style="left:473.70px;top:150.53px;width:34.70px;height:10.29px;line-height:10.29px">11,031,990</div>
<div class="t tr db" style="left:509.70px;top:150.53px;width:32.70px;height:10.29px;line-height:10.29px">169,203</div>
<div class="t tr db" style="left:543.80px;top:150.53px;width:25.30px;height:10.29px;line-height:10.29px">8,460</div>
<div class="t tr db" style="left:570.50px;top:150.53px;width:32.90px;height:10.29px;line-height:10.29px">160,743</div>
<div class="t tc d" style="left:605.00px;top:150.53px;width:89.50px;height:10.29px;line-height:10.29px">8</div>
<div class="t tc d" style="left:33.00px;top:160.82px;width:7.30px;height:10.29px;line-height:10.29px">9</div>
<div class="t tl d nm" style="left:40.70px;top:160.82px;width:63.50px;height:10.29px;line-height:10.29px">Saipul Akhyar</div>
<div class="t tc d" style="left:104.20px;top:160.82px;width:13.20px;height:10.29px;line-height:10.29px">50</div>
<div class="t tc d" style="left:117.40px;top:160.82px;width:13.20px;height:10.29px;line-height:10.29px">2</div>
<div class="t tr d" style="left:130.60px;top:160.82px;width:21.60px;height:10.29px;line-height:10.29px">2.27</div>
<div class="t tc d ov" style="left:153.80px;top:160.82px;width:15.00px;height:10.29px;line-height:10.29px">4.54545</div>
<div class="t tc db" style="left:168.80px;top:160.82px;width:14.60px;height:10.29px;line-height:10.29px">45.455</div>
<div class="t tc d" style="left:183.40px;top:160.82px;width:15.80px;height:10.29px;line-height:10.29px">20</div>
<div class="t tc d" style="left:199.20px;top:160.82px;width:16.30px;height:10.29px;line-height:10.29px">2</div>
<div class="t tc db" style="left:215.50px;top:160.82px;width:15.80px;height:10.29px;line-height:10.29px">18</div>
<div class="t tc ds" style="left:339.70px;top:160.82px;width:15.60px;height:10.29px;line-height:10.29px">25</div>
<div class="t tc db" style="left:417.20px;top:160.82px;width:19.10px;height:10.29px;line-height:10.29px">25</div>
<div class="t tc db" style="left:436.30px;top:160.82px;width:37.40px;height:10.29px;line-height:10.29px">88.4545454545455</div>
<div class="t tr d dn" style="left:473.70px;top:160.82px;width:34.70px;height:10.29px;line-height:10.29px">11,031,990</div>
<div class="t tr db" style="left:509.70px;top:160.82px;width:32.70px;height:10.29px;line-height:10.29px">149,125</div>
<div class="t tr db" style="left:543.80px;top:160.82px;width:25.30px;height:10.29px;line-height:10.29px">7,456</div>
<div class="t tr db" style="left:570.50px;top:160.82px;width:32.90px;height:10.29px;line-height:10.29px">141,669</div>
<div class="t tl d" style="left:605.80px;top:160.82px;width:88.70px;height:10.29px;line-height:10.29px">9</div>
<div class="t tc d" style="left:33.00px;top:171.11px;width:7.30px;height:10.29px;line-height:10.29px">10</div>
<div class="t tl d nm" style="left:40.70px;top:171.11px;width:63.50px;height:10.29px;line-height:10.29px">Hasminawati, A.Md.AK</div>
<div class="t tc d" style="left:104.20px;top:171.11px;width:13.20px;height:10.29px;line-height:10.29px">60</div>
<div class="t tc d" style="left:117.40px;top:171.11px;width:13.20px;height:10.29px;line-height:10.29px">0</div>
<div class="t tr d" style="left:130.60px;top:171.11px;width:21.60px;height:10.29px;line-height:10.29px">2.73</div>
<div class="t tc d ov" style="left:153.80px;top:171.11px;width:15.00px;height:10.29px;line-height:10.29px">0</div>
<div class="t tc db" style="left:168.80px;top:171.11px;width:14.60px;height:10.29px;line-height:10.29px">60</div>
<div class="t tc d" style="left:183.40px;top:171.11px;width:15.80px;height:10.29px;line-height:10.29px">20</div>
<div class="t tc d" style="left:199.20px;top:171.11px;width:16.30px;height:10.29px;line-height:10.29px">0</div>
<div class="t tc db" style="left:215.50px;top:171.11px;width:15.80px;height:10.29px;line-height:10.29px">20</div>
<div class="t tc ds" style="left:355.30px;top:171.11px;width:15.90px;height:10.29px;line-height:10.29px">20</div>
<div class="t tc db" style="left:417.20px;top:171.11px;width:19.10px;height:10.29px;line-height:10.29px">20</div>
<div class="t tc db" style="left:436.30px;top:171.11px;width:37.40px;height:10.29px;line-height:10.29px">100</div>
<div class="t tr d dn" style="left:473.70px;top:171.11px;width:34.70px;height:10.29px;line-height:10.29px">11,031,990</div>
<div class="t tr db" style="left:509.70px;top:171.11px;width:32.70px;height:10.29px;line-height:10.29px">168,590</div>
<div class="t tr db" style="left:543.80px;top:171.11px;width:25.30px;height:10.29px;line-height:10.29px">8,429</div>
<div class="t tr db" style="left:570.50px;top:171.11px;width:32.90px;height:10.29px;line-height:10.29px">160,160</div>
<div class="t tc d" style="left:605.00px;top:171.11px;width:89.50px;height:10.29px;line-height:10.29px">10</div>
<div class="t tc d" style="left:33.00px;top:181.40px;width:7.30px;height:10.29px;line-height:10.29px">11</div>
<div class="t tl d nm" style="left:40.70px;top:181.40px;width:63.50px;height:10.29px;line-height:10.29px">Desmaria. E. N, A.md.Kep</div>
<div class="t tc d" style="left:104.20px;top:181.40px;width:13.20px;height:10.29px;line-height:10.29px">60</div>
<div class="t tc d" style="left:117.40px;top:181.40px;width:13.20px;height:10.29px;line-height:10.29px">0</div>
<div class="t tr d" style="left:130.60px;top:181.40px;width:21.60px;height:10.29px;line-height:10.29px">2.73</div>
<div class="t tc d ov" style="left:153.80px;top:181.40px;width:15.00px;height:10.29px;line-height:10.29px">0</div>
<div class="t tc db" style="left:168.80px;top:181.40px;width:14.60px;height:10.29px;line-height:10.29px">60</div>
<div class="t tc d" style="left:183.40px;top:181.40px;width:15.80px;height:10.29px;line-height:10.29px">20</div>
<div class="t tc d" style="left:199.20px;top:181.40px;width:16.30px;height:10.29px;line-height:10.29px">0</div>
<div class="t tc db" style="left:215.50px;top:181.40px;width:15.80px;height:10.29px;line-height:10.29px">20</div>
<div class="t tc ds" style="left:386.70px;top:181.40px;width:15.30px;height:10.29px;line-height:10.29px">10</div>
<div class="t tc db" style="left:417.20px;top:181.40px;width:19.10px;height:10.29px;line-height:10.29px">10</div>
<div class="t tc db" style="left:436.30px;top:181.40px;width:37.40px;height:10.29px;line-height:10.29px">90</div>
<div class="t tr d dn" style="left:473.70px;top:181.40px;width:34.70px;height:10.29px;line-height:10.29px">11,031,990</div>
<div class="t tr db" style="left:509.70px;top:181.40px;width:32.70px;height:10.29px;line-height:10.29px">151,731</div>
<div class="t tr db" style="left:543.80px;top:181.40px;width:25.30px;height:10.29px;line-height:10.29px">7,587</div>
<div class="t tr db" style="left:570.50px;top:181.40px;width:32.90px;height:10.29px;line-height:10.29px">144,144</div>
<div class="t tl d" style="left:605.80px;top:181.40px;width:88.70px;height:10.29px;line-height:10.29px">11</div>
<div class="t tc d" style="left:33.00px;top:191.69px;width:7.30px;height:10.29px;line-height:10.29px">12</div>
<div class="t tl d nm" style="left:40.70px;top:191.69px;width:63.50px;height:10.29px;line-height:10.29px">Hj. Sugiah, A.Md.Far</div>
<div class="t tc d" style="left:104.20px;top:191.69px;width:13.20px;height:10.29px;line-height:10.29px">60</div>
<div class="t tc d" style="left:117.40px;top:191.69px;width:13.20px;height:10.29px;line-height:10.29px">0</div>
<div class="t tr d" style="left:130.60px;top:191.69px;width:21.60px;height:10.29px;line-height:10.29px">2.73</div>
<div class="t tc d ov" style="left:153.80px;top:191.69px;width:15.00px;height:10.29px;line-height:10.29px">0</div>
<div class="t tc db" style="left:168.80px;top:191.69px;width:14.60px;height:10.29px;line-height:10.29px">60</div>
<div class="t tc d" style="left:183.40px;top:191.69px;width:15.80px;height:10.29px;line-height:10.29px">20</div>
<div class="t tc d" style="left:199.20px;top:191.69px;width:16.30px;height:10.29px;line-height:10.29px">0</div>
<div class="t tc db" style="left:215.50px;top:191.69px;width:15.80px;height:10.29px;line-height:10.29px">20</div>
<div class="t tc ds" style="left:355.30px;top:191.69px;width:15.90px;height:10.29px;line-height:10.29px">20</div>
<div class="t tc db" style="left:417.20px;top:191.69px;width:19.10px;height:10.29px;line-height:10.29px">20</div>
<div class="t tc db" style="left:436.30px;top:191.69px;width:37.40px;height:10.29px;line-height:10.29px">100</div>
<div class="t tr d dn" style="left:473.70px;top:191.69px;width:34.70px;height:10.29px;line-height:10.29px">11,031,990</div>
<div class="t tr db" style="left:509.70px;top:191.69px;width:32.70px;height:10.29px;line-height:10.29px">168,590</div>
<div class="t tr db" style="left:543.80px;top:191.69px;width:25.30px;height:10.29px;line-height:10.29px">8,429</div>
<div class="t tr db" style="left:570.50px;top:191.69px;width:32.90px;height:10.29px;line-height:10.29px">160,160</div>
<div class="t tc d" style="left:605.00px;top:191.69px;width:89.50px;height:10.29px;line-height:10.29px">12</div>
<div class="t tc d" style="left:33.00px;top:201.98px;width:7.30px;height:10.29px;line-height:10.29px">13</div>
<div class="t tl d nm" style="left:40.70px;top:201.98px;width:63.50px;height:10.29px;line-height:10.29px">Subaeh, A.Md.Kg</div>
<div class="t tc d" style="left:104.20px;top:201.98px;width:13.20px;height:10.29px;line-height:10.29px">60</div>
<div class="t tc d" style="left:117.40px;top:201.98px;width:13.20px;height:10.29px;line-height:10.29px">0</div>
<div class="t tr d" style="left:130.60px;top:201.98px;width:21.60px;height:10.29px;line-height:10.29px">2.73</div>
<div class="t tc d ov" style="left:153.80px;top:201.98px;width:15.00px;height:10.29px;line-height:10.29px">0</div>
<div class="t tc db" style="left:168.80px;top:201.98px;width:14.60px;height:10.29px;line-height:10.29px">60</div>
<div class="t tc d" style="left:183.40px;top:201.98px;width:15.80px;height:10.29px;line-height:10.29px">20</div>
<div class="t tc d" style="left:199.20px;top:201.98px;width:16.30px;height:10.29px;line-height:10.29px">0</div>
<div class="t tc db" style="left:215.50px;top:201.98px;width:15.80px;height:10.29px;line-height:10.29px">20</div>
<div class="t tc ds" style="left:283.70px;top:201.98px;width:56.00px;height:10.29px;line-height:10.29px">30</div>
<div class="t tc ds" style="left:371.20px;top:201.98px;width:15.50px;height:10.29px;line-height:10.29px">15</div>
<div class="t tc db" style="left:417.20px;top:201.98px;width:19.10px;height:10.29px;line-height:10.29px">45</div>
<div class="t tc db" style="left:436.30px;top:201.98px;width:37.40px;height:10.29px;line-height:10.29px">125</div>
<div class="t tr d dn" style="left:473.70px;top:201.98px;width:34.70px;height:10.29px;line-height:10.29px">11,031,990</div>
<div class="t tr db" style="left:509.70px;top:201.98px;width:32.70px;height:10.29px;line-height:10.29px">210,737</div>
<div class="t tr db" style="left:543.80px;top:201.98px;width:25.30px;height:10.29px;line-height:10.29px">10,537</div>
<div class="t tr db" style="left:570.50px;top:201.98px;width:32.90px;height:10.29px;line-height:10.29px">200,200</div>
<div class="t tl d" style="left:605.80px;top:201.98px;width:88.70px;height:10.29px;line-height:10.29px">13</div>
<div class="t tc d" style="left:33.00px;top:212.27px;width:7.30px;height:10.29px;line-height:10.29px">14</div>
<div class="t tl d nm" style="left:40.70px;top:212.27px;width:63.50px;height:10.29px;line-height:10.29px">dr. Alfiansi Hakim</div>
<div class="t tc d" style="left:104.20px;top:212.27px;width:13.20px;height:10.29px;line-height:10.29px">150</div>
<div class="t tc d" style="left:117.40px;top:212.27px;width:13.20px;height:10.29px;line-height:10.29px">3</div>
<div class="t tr d" style="left:130.60px;top:212.27px;width:21.60px;height:10.29px;line-height:10.29px">6.82</div>
<div class="t tc d ov" style="left:153.80px;top:212.27px;width:15.00px;height:10.29px;line-height:10.29px">20.4545</div>
<div class="t tc db" style="left:168.80px;top:212.27px;width:14.60px;height:10.29px;line-height:10.29px">129.55</div>
<div class="t tc d" style="left:183.40px;top:212.27px;width:15.80px;height:10.29px;line-height:10.29px">20</div>
<div class="t tc d" style="left:199.20px;top:212.27px;width:16.30px;height:10.29px;line-height:10.29px">3</div>
<div class="t tc db" style="left:215.50px;top:212.27px;width:15.80px;height:10.29px;line-height:10.29px">17</div>
<div class="t tc db" style="left:417.20px;top:212.27px;width:19.10px;height:10.29px;line-height:10.29px">0</div>
<div class="t tc db" style="left:436.30px;top:212.27px;width:37.40px;height:10.29px;line-height:10.29px">146.545454545455</div>
<div class="t tr d dn" style="left:473.70px;top:212.27px;width:34.70px;height:10.29px;line-height:10.29px">11,031,990</div>
<div class="t tr db" style="left:509.70px;top:212.27px;width:32.70px;height:10.29px;line-height:10.29px">247,060</div>
<div class="t tr db" style="left:543.80px;top:212.27px;width:25.30px;height:10.29px;line-height:10.29px">12,353</div>
<div class="t tr db" style="left:570.50px;top:212.27px;width:32.90px;height:10.29px;line-height:10.29px">234,707</div>
<div class="t tc d" style="left:605.00px;top:212.27px;width:89.50px;height:10.29px;line-height:10.29px">14</div>
<div class="t tc d" style="left:33.00px;top:222.56px;width:7.30px;height:10.29px;line-height:10.29px">15</div>
<div class="t tl d nm" style="left:40.70px;top:222.56px;width:63.50px;height:10.29px;line-height:10.29px">Aditya Permana, S.Si., Apt</div>
<div class="t tc d" style="left:104.20px;top:222.56px;width:13.20px;height:10.29px;line-height:10.29px">100</div>
<div class="t tc d" style="left:117.40px;top:222.56px;width:13.20px;height:10.29px;line-height:10.29px">0</div>
<div class="t tr d" style="left:130.60px;top:222.56px;width:21.60px;height:10.29px;line-height:10.29px">4.55</div>
<div class="t tc d ov" style="left:153.80px;top:222.56px;width:15.00px;height:10.29px;line-height:10.29px">0</div>
<div class="t tc db" style="left:168.80px;top:222.56px;width:14.60px;height:10.29px;line-height:10.29px">100</div>
<div class="t tc d" style="left:183.40px;top:222.56px;width:15.80px;height:10.29px;line-height:10.29px">20</div>
<div class="t tc d" style="left:199.20px;top:222.56px;width:16.30px;height:10.29px;line-height:10.29px">0</div>
<div class="t tc db" style="left:215.50px;top:222.56px;width:15.80px;height:10.29px;line-height:10.29px">20</div>
<div class="t tc db" style="left:417.20px;top:222.56px;width:19.10px;height:10.29px;line-height:10.29px">0</div>
<div class="t tc db" style="left:436.30px;top:222.56px;width:37.40px;height:10.29px;line-height:10.29px">120</div>
<div class="t tr d dn" style="left:473.70px;top:222.56px;width:34.70px;height:10.29px;line-height:10.29px">11,031,990</div>
<div class="t tr db" style="left:509.70px;top:222.56px;width:32.70px;height:10.29px;line-height:10.29px">202,308</div>
<div class="t tr db" style="left:543.80px;top:222.56px;width:25.30px;height:10.29px;line-height:10.29px">10,115</div>
<div class="t tr db" style="left:570.50px;top:222.56px;width:32.90px;height:10.29px;line-height:10.29px">192,192</div>
<div class="t tl d" style="left:605.80px;top:222.56px;width:88.70px;height:10.29px;line-height:10.29px">15</div>
<div class="t tc d" style="left:33.00px;top:232.85px;width:7.30px;height:10.29px;line-height:10.29px">16</div>
<div class="t tl d nm" style="left:40.70px;top:232.85px;width:63.50px;height:10.29px;line-height:10.29px">Sri Wahyuni,A.Md.Kep</div>
<div class="t tc d" style="left:104.20px;top:232.85px;width:13.20px;height:10.29px;line-height:10.29px">60</div>
<div class="t tc d" style="left:117.40px;top:232.85px;width:13.20px;height:10.29px;line-height:10.29px">0</div>
<div class="t tr d" style="left:130.60px;top:232.85px;width:21.60px;height:10.29px;line-height:10.29px">2.73</div>
<div class="t tc d ov" style="left:153.80px;top:232.85px;width:15.00px;height:10.29px;line-height:10.29px">0</div>
<div class="t tc db" style="left:168.80px;top:232.85px;width:14.60px;height:10.29px;line-height:10.29px">60</div>
<div class="t tc d" style="left:183.40px;top:232.85px;width:15.80px;height:10.29px;line-height:10.29px">20</div>
<div class="t tc d" style="left:199.20px;top:232.85px;width:16.30px;height:10.29px;line-height:10.29px">0</div>
<div class="t tc db" style="left:215.50px;top:232.85px;width:15.80px;height:10.29px;line-height:10.29px">20</div>
<div class="t tc ds" style="left:371.20px;top:232.85px;width:15.50px;height:10.29px;line-height:10.29px">15</div>
<div class="t tc db" style="left:417.20px;top:232.85px;width:19.10px;height:10.29px;line-height:10.29px">15</div>
<div class="t tc db" style="left:436.30px;top:232.85px;width:37.40px;height:10.29px;line-height:10.29px">95</div>
<div class="t tr d dn" style="left:473.70px;top:232.85px;width:34.70px;height:10.29px;line-height:10.29px">11,031,990</div>
<div class="t tr db" style="left:509.70px;top:232.85px;width:32.70px;height:10.29px;line-height:10.29px">160,160</div>
<div class="t tr db" style="left:543.80px;top:232.85px;width:25.30px;height:10.29px;line-height:10.29px">8,008</div>
<div class="t tr db" style="left:570.50px;top:232.85px;width:32.90px;height:10.29px;line-height:10.29px">152,152</div>
<div class="t tc d" style="left:605.00px;top:232.85px;width:89.50px;height:10.29px;line-height:10.29px">16</div>
<div class="t tc d" style="left:33.00px;top:243.14px;width:7.30px;height:10.29px;line-height:10.29px">17</div>
<div class="t tl d nm" style="left:40.70px;top:243.14px;width:63.50px;height:10.29px;line-height:10.29px">Supriadi, A.Md.Kes</div>
<div class="t tc d" style="left:104.20px;top:243.14px;width:13.20px;height:10.29px;line-height:10.29px">60</div>
<div class="t tc d" style="left:117.40px;top:243.14px;width:13.20px;height:10.29px;line-height:10.29px">5</div>
<div class="t tr d" style="left:130.60px;top:243.14px;width:21.60px;height:10.29px;line-height:10.29px">2.73</div>
<div class="t tc d ov" style="left:153.80px;top:243.14px;width:15.00px;height:10.29px;line-height:10.29px">13.6364</div>
<div class="t tc db" style="left:168.80px;top:243.14px;width:14.60px;height:10.29px;line-height:10.29px">46.364</div>
<div class="t tc d" style="left:183.40px;top:243.14px;width:15.80px;height:10.29px;line-height:10.29px">20</div>
<div class="t tc d" style="left:199.20px;top:243.14px;width:16.30px;height:10.29px;line-height:10.29px">5</div>
<div class="t tc db" style="left:215.50px;top:243.14px;width:15.80px;height:10.29px;line-height:10.29px">15</div>
<div class="t tc ds" style="left:386.70px;top:243.14px;width:15.30px;height:10.29px;line-height:10.29px">10</div>
<div class="t tc db" style="left:417.20px;top:243.14px;width:19.10px;height:10.29px;line-height:10.29px">10</div>
<div class="t tc db" style="left:436.30px;top:243.14px;width:37.40px;height:10.29px;line-height:10.29px">71.3636363636364</div>
<div class="t tr d dn" style="left:473.70px;top:243.14px;width:34.70px;height:10.29px;line-height:10.29px">11,031,990</div>
<div class="t tr db" style="left:509.70px;top:243.14px;width:32.70px;height:10.29px;line-height:10.29px">120,312</div>
<div class="t tr db" style="left:543.80px;top:243.14px;width:25.30px;height:10.29px;line-height:10.29px">6,016</div>
<div class="t tr db" style="left:570.50px;top:243.14px;width:32.90px;height:10.29px;line-height:10.29px">114,296</div>
<div class="t tl d" style="left:605.80px;top:243.14px;width:88.70px;height:10.29px;line-height:10.29px">17</div>
<div class="t tc d" style="left:33.00px;top:253.43px;width:7.30px;height:10.29px;line-height:10.29px">18</div>
<div class="t tl d nm" style="left:40.70px;top:253.43px;width:63.50px;height:10.29px;line-height:10.29px">Romlah, A.Md.KL</div>
<div class="t tc d" style="left:104.20px;top:253.43px;width:13.20px;height:10.29px;line-height:10.29px">60</div>
<div class="t tc d" style="left:117.40px;top:253.43px;width:13.20px;height:10.29px;line-height:10.29px">6</div>
<div class="t tr d" style="left:130.60px;top:253.43px;width:21.60px;height:10.29px;line-height:10.29px">2.73</div>
<div class="t tc d ov" style="left:153.80px;top:253.43px;width:15.00px;height:10.29px;line-height:10.29px">16.3636</div>
<div class="t tc db" style="left:168.80px;top:253.43px;width:14.60px;height:10.29px;line-height:10.29px">43.636</div>
<div class="t tc d" style="left:183.40px;top:253.43px;width:15.80px;height:10.29px;line-height:10.29px">20</div>
<div class="t tc d" style="left:199.20px;top:253.43px;width:16.30px;height:10.29px;line-height:10.29px">6</div>
<div class="t tc db" style="left:215.50px;top:253.43px;width:15.80px;height:10.29px;line-height:10.29px">14</div>
<div class="t tc ds" style="left:402.00px;top:253.43px;width:15.20px;height:10.29px;line-height:10.29px">5</div>
<div class="t tc db" style="left:417.20px;top:253.43px;width:19.10px;height:10.29px;line-height:10.29px">5</div>
<div class="t tc db" style="left:436.30px;top:253.43px;width:37.40px;height:10.29px;line-height:10.29px">62.6363636363636</div>
<div class="t tr d dn" style="left:473.70px;top:253.43px;width:34.70px;height:10.29px;line-height:10.29px">11,031,990</div>
<div class="t tr db" style="left:509.70px;top:253.43px;width:32.70px;height:10.29px;line-height:10.29px">105,598</div>
<div class="t tr db" style="left:543.80px;top:253.43px;width:25.30px;height:10.29px;line-height:10.29px">5,280</div>
<div class="t tr db" style="left:570.50px;top:253.43px;width:32.90px;height:10.29px;line-height:10.29px">100,318</div>
<div class="t tc d" style="left:605.00px;top:253.43px;width:89.50px;height:10.29px;line-height:10.29px">18</div>
<div class="t tc d" style="left:33.00px;top:263.72px;width:7.30px;height:10.29px;line-height:10.29px">19</div>
<div class="t tl d nm" style="left:40.70px;top:263.72px;width:63.50px;height:10.29px;line-height:10.29px">Leni Wahyuni, A.Md.Kep</div>
<div class="t tc d" style="left:104.20px;top:263.72px;width:13.20px;height:10.29px;line-height:10.29px">60</div>
<div class="t tc d" style="left:117.40px;top:263.72px;width:13.20px;height:10.29px;line-height:10.29px">0</div>
<div class="t tr d" style="left:130.60px;top:263.72px;width:21.60px;height:10.29px;line-height:10.29px">2.73</div>
<div class="t tc d ov" style="left:153.80px;top:263.72px;width:15.00px;height:10.29px;line-height:10.29px">0</div>
<div class="t tc db" style="left:168.80px;top:263.72px;width:14.60px;height:10.29px;line-height:10.29px">60</div>
<div class="t tc d" style="left:183.40px;top:263.72px;width:15.80px;height:10.29px;line-height:10.29px">20</div>
<div class="t tc d" style="left:199.20px;top:263.72px;width:16.30px;height:10.29px;line-height:10.29px">0</div>
<div class="t tc db" style="left:215.50px;top:263.72px;width:15.80px;height:10.29px;line-height:10.29px">20</div>
<div class="t tc ds" style="left:402.00px;top:263.72px;width:15.20px;height:10.29px;line-height:10.29px">5</div>
<div class="t tc db" style="left:417.20px;top:263.72px;width:19.10px;height:10.29px;line-height:10.29px">5</div>
<div class="t tc db" style="left:436.30px;top:263.72px;width:37.40px;height:10.29px;line-height:10.29px">85</div>
<div class="t tr d dn" style="left:473.70px;top:263.72px;width:34.70px;height:10.29px;line-height:10.29px">11,031,990</div>
<div class="t tr db" style="left:509.70px;top:263.72px;width:32.70px;height:10.29px;line-height:10.29px">143,301</div>
<div class="t tr db" style="left:543.80px;top:263.72px;width:25.30px;height:10.29px;line-height:10.29px">7,165</div>
<div class="t tr db" style="left:570.50px;top:263.72px;width:32.90px;height:10.29px;line-height:10.29px">136,136</div>
<div class="t tl d" style="left:605.80px;top:263.72px;width:88.70px;height:10.29px;line-height:10.29px">19</div>
<div class="t tc d" style="left:33.00px;top:274.01px;width:7.30px;height:10.29px;line-height:10.29px">20</div>
<div class="t tl d nm" style="left:40.70px;top:274.01px;width:63.50px;height:10.29px;line-height:10.29px">Sugimin, A.Md.Kep</div>
<div class="t tc d" style="left:104.20px;top:274.01px;width:13.20px;height:10.29px;line-height:10.29px">60</div>
<div class="t tc d" style="left:117.40px;top:274.01px;width:13.20px;height:10.29px;line-height:10.29px">0</div>
<div class="t tr d" style="left:130.60px;top:274.01px;width:21.60px;height:10.29px;line-height:10.29px">2.73</div>
<div class="t tc d ov" style="left:153.80px;top:274.01px;width:15.00px;height:10.29px;line-height:10.29px">0</div>
<div class="t tc db" style="left:168.80px;top:274.01px;width:14.60px;height:10.29px;line-height:10.29px">60</div>
<div class="t tc d" style="left:183.40px;top:274.01px;width:15.80px;height:10.29px;line-height:10.29px">20</div>
<div class="t tc d" style="left:199.20px;top:274.01px;width:16.30px;height:10.29px;line-height:10.29px">0</div>
<div class="t tc db" style="left:215.50px;top:274.01px;width:15.80px;height:10.29px;line-height:10.29px">20</div>
<div class="t tc ds" style="left:402.00px;top:274.01px;width:15.20px;height:10.29px;line-height:10.29px">5</div>
<div class="t tc db" style="left:417.20px;top:274.01px;width:19.10px;height:10.29px;line-height:10.29px">5</div>
<div class="t tc db" style="left:436.30px;top:274.01px;width:37.40px;height:10.29px;line-height:10.29px">85</div>
<div class="t tr d dn" style="left:473.70px;top:274.01px;width:34.70px;height:10.29px;line-height:10.29px">11,031,990</div>
<div class="t tr db" style="left:509.70px;top:274.01px;width:32.70px;height:10.29px;line-height:10.29px">143,301</div>
<div class="t tr db" style="left:543.80px;top:274.01px;width:25.30px;height:10.29px;line-height:10.29px">7,165</div>
<div class="t tr db" style="left:570.50px;top:274.01px;width:32.90px;height:10.29px;line-height:10.29px">136,136</div>
<div class="t tc d" style="left:605.00px;top:274.01px;width:89.50px;height:10.29px;line-height:10.29px">20</div>
<div class="t tc d" style="left:33.00px;top:284.30px;width:7.30px;height:10.29px;line-height:10.29px">21</div>
<div class="t tl d nm" style="left:40.70px;top:284.30px;width:63.50px;height:10.29px;line-height:10.29px">Taufiq Hidayat, A.Md.Kep</div>
<div class="t tc d" style="left:104.20px;top:284.30px;width:13.20px;height:10.29px;line-height:10.29px">60</div>
<div class="t tc d" style="left:117.40px;top:284.30px;width:13.20px;height:10.29px;line-height:10.29px">0</div>
<div class="t tr d" style="left:130.60px;top:284.30px;width:21.60px;height:10.29px;line-height:10.29px">2.73</div>
<div class="t tc d ov" style="left:153.80px;top:284.30px;width:15.00px;height:10.29px;line-height:10.29px">0</div>
<div class="t tc db" style="left:168.80px;top:284.30px;width:14.60px;height:10.29px;line-height:10.29px">60</div>
<div class="t tc d" style="left:183.40px;top:284.30px;width:15.80px;height:10.29px;line-height:10.29px">20</div>
<div class="t tc d" style="left:199.20px;top:284.30px;width:16.30px;height:10.29px;line-height:10.29px">0</div>
<div class="t tc db" style="left:215.50px;top:284.30px;width:15.80px;height:10.29px;line-height:10.29px">20</div>
<div class="t tc ds" style="left:251.00px;top:284.30px;width:32.70px;height:10.29px;line-height:10.29px">50</div>
<div class="t tc ds" style="left:402.00px;top:284.30px;width:15.20px;height:10.29px;line-height:10.29px">5</div>
<div class="t tc db" style="left:417.20px;top:284.30px;width:19.10px;height:10.29px;line-height:10.29px">55</div>
<div class="t tc db" style="left:436.30px;top:284.30px;width:37.40px;height:10.29px;line-height:10.29px">135</div>
<div class="t tr d dn" style="left:473.70px;top:284.30px;width:34.70px;height:10.29px;line-height:10.29px">11,031,990</div>
<div class="t tr db" style="left:509.70px;top:284.30px;width:32.70px;height:10.29px;line-height:10.29px">227,596</div>
<div class="t tr db" style="left:543.80px;top:284.30px;width:25.30px;height:10.29px;line-height:10.29px">11,380</div>
<div class="t tr db" style="left:570.50px;top:284.30px;width:32.90px;height:10.29px;line-height:10.29px">216,216</div>
<div class="t tl d" style="left:605.80px;top:284.30px;width:88.70px;height:10.29px;line-height:10.29px">21</div>
<div class="t tc d" style="left:33.00px;top:294.59px;width:7.30px;height:10.29px;line-height:10.29px">22</div>
<div class="t tl d nm" style="left:40.70px;top:294.59px;width:63.50px;height:10.29px;line-height:10.29px">Hasna Wandhi M, A.Md.Kg</div>
<div class="t tc d" style="left:104.20px;top:294.59px;width:13.20px;height:10.29px;line-height:10.29px">60</div>
<div class="t tc d" style="left:117.40px;top:294.59px;width:13.20px;height:10.29px;line-height:10.29px">0</div>
<div class="t tr d" style="left:130.60px;top:294.59px;width:21.60px;height:10.29px;line-height:10.29px">2.73</div>
<div class="t tc d ov" style="left:153.80px;top:294.59px;width:15.00px;height:10.29px;line-height:10.29px">0</div>
<div class="t tc db" style="left:168.80px;top:294.59px;width:14.60px;height:10.29px;line-height:10.29px">60</div>
<div class="t tc d" style="left:183.40px;top:294.59px;width:15.80px;height:10.29px;line-height:10.29px">20</div>
<div class="t tc d" style="left:199.20px;top:294.59px;width:16.30px;height:10.29px;line-height:10.29px">0</div>
<div class="t tc db" style="left:215.50px;top:294.59px;width:15.80px;height:10.29px;line-height:10.29px">20</div>
<div class="t tc ds" style="left:402.00px;top:294.59px;width:15.20px;height:10.29px;line-height:10.29px">5</div>
<div class="t tc db" style="left:417.20px;top:294.59px;width:19.10px;height:10.29px;line-height:10.29px">5</div>
<div class="t tc db" style="left:436.30px;top:294.59px;width:37.40px;height:10.29px;line-height:10.29px">85</div>
<div class="t tr d dn" style="left:473.70px;top:294.59px;width:34.70px;height:10.29px;line-height:10.29px">11,031,990</div>
<div class="t tr db" style="left:509.70px;top:294.59px;width:32.70px;height:10.29px;line-height:10.29px">143,301</div>
<div class="t tr db" style="left:543.80px;top:294.59px;width:25.30px;height:10.29px;line-height:10.29px">7,165</div>
<div class="t tr db" style="left:570.50px;top:294.59px;width:32.90px;height:10.29px;line-height:10.29px">136,136</div>
<div class="t tc d" style="left:605.00px;top:294.59px;width:89.50px;height:10.29px;line-height:10.29px">22</div>
<div class="t tc d" style="left:33.00px;top:304.88px;width:7.30px;height:10.29px;line-height:10.29px">23</div>
<div class="t tl d nm" style="left:40.70px;top:304.88px;width:63.50px;height:10.29px;line-height:10.29px">Retno Rahayu P, A.Md.Keb</div>
<div class="t tc d" style="left:104.20px;top:304.88px;width:13.20px;height:10.29px;line-height:10.29px">0</div>
<div class="t tc d" style="left:117.40px;top:304.88px;width:13.20px;height:10.29px;line-height:10.29px">0</div>
<div class="t tr d" style="left:130.60px;top:304.88px;width:18.20px;height:10.29px;line-height:10.29px">-</div>
<div class="t tc d ov" style="left:153.80px;top:304.88px;width:15.00px;height:10.29px;line-height:10.29px">0</div>
<div class="t tc db" style="left:168.80px;top:304.88px;width:14.60px;height:10.29px;line-height:10.29px">0</div>
<div class="t tc d" style="left:183.40px;top:304.88px;width:15.80px;height:10.29px;line-height:10.29px">0</div>
<div class="t tc d" style="left:199.20px;top:304.88px;width:16.30px;height:10.29px;line-height:10.29px">0</div>
<div class="t tc db" style="left:215.50px;top:304.88px;width:15.80px;height:10.29px;line-height:10.29px">0</div>
<div class="t tc db" style="left:417.20px;top:304.88px;width:19.10px;height:10.29px;line-height:10.29px">0</div>
<div class="t tc db" style="left:436.30px;top:304.88px;width:37.40px;height:10.29px;line-height:10.29px">0</div>
<div class="t tr d dn" style="left:473.70px;top:304.88px;width:34.70px;height:10.29px;line-height:10.29px">11,031,990</div>
<div class="t tr db" style="left:509.70px;top:304.88px;width:31.10px;height:10.29px;line-height:10.29px">-</div>
<div class="t tr db" style="left:543.80px;top:304.88px;width:25.30px;height:10.29px;line-height:10.29px">0</div>
<div class="t tr db" style="left:570.50px;top:304.88px;width:31.50px;height:10.29px;line-height:10.29px">-</div>
<div class="t tl d" style="left:605.80px;top:304.88px;width:88.70px;height:10.29px;line-height:10.29px">23</div>
<div class="t tc d" style="left:33.00px;top:315.17px;width:7.30px;height:10.29px;line-height:10.29px">24</div>
<div class="t tl d nm" style="left:40.70px;top:315.17px;width:63.50px;height:10.29px;line-height:10.29px">Erma Dwi P, A.Md.Kep</div>
<div class="t tc d" style="left:104.20px;top:315.17px;width:13.20px;height:10.29px;line-height:10.29px">60</div>
<div class="t tc d" style="left:117.40px;top:315.17px;width:13.20px;height:10.29px;line-height:10.29px">0</div>
<div class="t tr d" style="left:130.60px;top:315.17px;width:21.60px;height:10.29px;line-height:10.29px">2.73</div>
<div class="t tc d ov" style="left:153.80px;top:315.17px;width:15.00px;height:10.29px;line-height:10.29px">0</div>
<div class="t tc db" style="left:168.80px;top:315.17px;width:14.60px;height:10.29px;line-height:10.29px">60</div>
<div class="t tc d" style="left:183.40px;top:315.17px;width:15.80px;height:10.29px;line-height:10.29px">20</div>
<div class="t tc d" style="left:199.20px;top:315.17px;width:16.30px;height:10.29px;line-height:10.29px">0</div>
<div class="t tc db" style="left:215.50px;top:315.17px;width:15.80px;height:10.29px;line-height:10.29px">20</div>
<div class="t tc ds" style="left:386.70px;top:315.17px;width:15.30px;height:10.29px;line-height:10.29px">10</div>
<div class="t tc db" style="left:417.20px;top:315.17px;width:19.10px;height:10.29px;line-height:10.29px">10</div>
<div class="t tc db" style="left:436.30px;top:315.17px;width:37.40px;height:10.29px;line-height:10.29px">90</div>
<div class="t tr d dn" style="left:473.70px;top:315.17px;width:34.70px;height:10.29px;line-height:10.29px">11,031,990</div>
<div class="t tr db" style="left:509.70px;top:315.17px;width:32.70px;height:10.29px;line-height:10.29px">151,731</div>
<div class="t tr db" style="left:543.80px;top:315.17px;width:25.30px;height:10.29px;line-height:10.29px">7,587</div>
<div class="t tr db" style="left:570.50px;top:315.17px;width:32.90px;height:10.29px;line-height:10.29px">144,144</div>
<div class="t tc d" style="left:605.00px;top:315.17px;width:89.50px;height:10.29px;line-height:10.29px">24</div>
<div class="t tc d" style="left:33.00px;top:325.46px;width:7.30px;height:10.29px;line-height:10.29px">25</div>
<div class="t tl d nm" style="left:40.70px;top:325.46px;width:63.50px;height:10.29px;line-height:10.29px">Eka Asmi Sari, A.Md.Kep</div>
<div class="t tc d" style="left:104.20px;top:325.46px;width:13.20px;height:10.29px;line-height:10.29px">60</div>
<div class="t tc d" style="left:117.40px;top:325.46px;width:13.20px;height:10.29px;line-height:10.29px">0</div>
<div class="t tr d" style="left:130.60px;top:325.46px;width:21.60px;height:10.29px;line-height:10.29px">2.73</div>
<div class="t tc d ov" style="left:153.80px;top:325.46px;width:15.00px;height:10.29px;line-height:10.29px">0</div>
<div class="t tc db" style="left:168.80px;top:325.46px;width:14.60px;height:10.29px;line-height:10.29px">60</div>
<div class="t tc d" style="left:183.40px;top:325.46px;width:15.80px;height:10.29px;line-height:10.29px">20</div>
<div class="t tc d" style="left:199.20px;top:325.46px;width:16.30px;height:10.29px;line-height:10.29px">0</div>
<div class="t tc db" style="left:215.50px;top:325.46px;width:15.80px;height:10.29px;line-height:10.29px">20</div>
<div class="t tc ds" style="left:386.70px;top:325.46px;width:15.30px;height:10.29px;line-height:10.29px">10</div>
<div class="t tc db" style="left:417.20px;top:325.46px;width:19.10px;height:10.29px;line-height:10.29px">10</div>
<div class="t tc db" style="left:436.30px;top:325.46px;width:37.40px;height:10.29px;line-height:10.29px">90</div>
<div class="t tr d dn" style="left:473.70px;top:325.46px;width:34.70px;height:10.29px;line-height:10.29px">11,031,990</div>
<div class="t tr db" style="left:509.70px;top:325.46px;width:32.70px;height:10.29px;line-height:10.29px">151,731</div>
<div class="t tr db" style="left:543.80px;top:325.46px;width:25.30px;height:10.29px;line-height:10.29px">7,587</div>
<div class="t tr db" style="left:570.50px;top:325.46px;width:32.90px;height:10.29px;line-height:10.29px">144,144</div>
<div class="t tl d" style="left:605.80px;top:325.46px;width:88.70px;height:10.29px;line-height:10.29px">25</div>
<div class="t tc d" style="left:33.00px;top:335.75px;width:7.30px;height:10.29px;line-height:10.29px">26</div>
<div class="t tl d nm" style="left:40.70px;top:335.75px;width:63.50px;height:10.29px;line-height:10.29px">Halimah Tusa&#x27;diah, S.Tr.Keb</div>
<div class="t tc d" style="left:104.20px;top:335.75px;width:13.20px;height:10.29px;line-height:10.29px">80</div>
<div class="t tc d" style="left:117.40px;top:335.75px;width:13.20px;height:10.29px;line-height:10.29px">0</div>
<div class="t tr d" style="left:130.60px;top:335.75px;width:21.60px;height:10.29px;line-height:10.29px">3.64</div>
<div class="t tc d ov" style="left:153.80px;top:335.75px;width:15.00px;height:10.29px;line-height:10.29px">0</div>
<div class="t tc db" style="left:168.80px;top:335.75px;width:14.60px;height:10.29px;line-height:10.29px">80</div>
<div class="t tc d" style="left:183.40px;top:335.75px;width:15.80px;height:10.29px;line-height:10.29px">20</div>
<div class="t tc d" style="left:199.20px;top:335.75px;width:16.30px;height:10.29px;line-height:10.29px">0</div>
<div class="t tc db" style="left:215.50px;top:335.75px;width:15.80px;height:10.29px;line-height:10.29px">20</div>
<div class="t tc ds" style="left:386.70px;top:335.75px;width:15.30px;height:10.29px;line-height:10.29px">10</div>
<div class="t tc db" style="left:417.20px;top:335.75px;width:19.10px;height:10.29px;line-height:10.29px">10</div>
<div class="t tc db" style="left:436.30px;top:335.75px;width:37.40px;height:10.29px;line-height:10.29px">110</div>
<div class="t tr d dn" style="left:473.70px;top:335.75px;width:34.70px;height:10.29px;line-height:10.29px">11,031,990</div>
<div class="t tr db" style="left:509.70px;top:335.75px;width:32.70px;height:10.29px;line-height:10.29px">185,449</div>
<div class="t tr db" style="left:543.80px;top:335.75px;width:25.30px;height:10.29px;line-height:10.29px">9,272</div>
<div class="t tr db" style="left:570.50px;top:335.75px;width:32.90px;height:10.29px;line-height:10.29px">176,176</div>
<div class="t tc d" style="left:605.00px;top:335.75px;width:89.50px;height:10.29px;line-height:10.29px">26</div>
<div class="t tc d" style="left:33.00px;top:346.04px;width:7.30px;height:10.29px;line-height:10.29px">27</div>
<div class="t tl d nm" style="left:40.70px;top:346.04px;width:63.50px;height:10.29px;line-height:10.29px">Herlina, A.Md.Keb</div>
<div class="t tc d" style="left:104.20px;top:346.04px;width:13.20px;height:10.29px;line-height:10.29px">60</div>
<div class="t tc d" style="left:117.40px;top:346.04px;width:13.20px;height:10.29px;line-height:10.29px">5</div>
<div class="t tr d" style="left:130.60px;top:346.04px;width:21.60px;height:10.29px;line-height:10.29px">2.73</div>
<div class="t tc d ov" style="left:153.80px;top:346.04px;width:15.00px;height:10.29px;line-height:10.29px">13.6364</div>
<div class="t tc db" style="left:168.80px;top:346.04px;width:14.60px;height:10.29px;line-height:10.29px">46.364</div>
<div class="t tc d" style="left:183.40px;top:346.04px;width:15.80px;height:10.29px;line-height:10.29px">20</div>
<div class="t tc d" style="left:199.20px;top:346.04px;width:16.30px;height:10.29px;line-height:10.29px">5</div>
<div class="t tc db" style="left:215.50px;top:346.04px;width:15.80px;height:10.29px;line-height:10.29px">15</div>
<div class="t tc ds" style="left:386.70px;top:346.04px;width:15.30px;height:10.29px;line-height:10.29px">10</div>
<div class="t tc db" style="left:417.20px;top:346.04px;width:19.10px;height:10.29px;line-height:10.29px">10</div>
<div class="t tc db" style="left:436.30px;top:346.04px;width:37.40px;height:10.29px;line-height:10.29px">71.3636363636364</div>
<div class="t tr d dn" style="left:473.70px;top:346.04px;width:34.70px;height:10.29px;line-height:10.29px">11,031,990</div>
<div class="t tr db" style="left:509.70px;top:346.04px;width:32.70px;height:10.29px;line-height:10.29px">120,312</div>
<div class="t tr db" style="left:543.80px;top:346.04px;width:25.30px;height:10.29px;line-height:10.29px">6,016</div>
<div class="t tr db" style="left:570.50px;top:346.04px;width:32.90px;height:10.29px;line-height:10.29px">114,296</div>
<div class="t tl d" style="left:605.80px;top:346.04px;width:88.70px;height:10.29px;line-height:10.29px">27</div>
<div class="t tc d" style="left:33.00px;top:356.33px;width:7.30px;height:10.29px;line-height:10.29px">28</div>
<div class="t tl d nm" style="left:40.70px;top:356.33px;width:63.50px;height:10.29px;line-height:10.29px">Sriyah, A.Md.AK</div>
<div class="t tc d" style="left:104.20px;top:356.33px;width:13.20px;height:10.29px;line-height:10.29px">60</div>
<div class="t tc d" style="left:117.40px;top:356.33px;width:13.20px;height:10.29px;line-height:10.29px">0</div>
<div class="t tr d" style="left:130.60px;top:356.33px;width:21.60px;height:10.29px;line-height:10.29px">2.73</div>
<div class="t tc d ov" style="left:153.80px;top:356.33px;width:15.00px;height:10.29px;line-height:10.29px">0</div>
<div class="t tc db" style="left:168.80px;top:356.33px;width:14.60px;height:10.29px;line-height:10.29px">60</div>
<div class="t tc d" style="left:183.40px;top:356.33px;width:15.80px;height:10.29px;line-height:10.29px">20</div>
<div class="t tc d" style="left:199.20px;top:356.33px;width:16.30px;height:10.29px;line-height:10.29px">0</div>
<div class="t tc db" style="left:215.50px;top:356.33px;width:15.80px;height:10.29px;line-height:10.29px">20</div>
<div class="t tc ds" style="left:386.70px;top:356.33px;width:15.30px;height:10.29px;line-height:10.29px">10</div>
<div class="t tc db" style="left:417.20px;top:356.33px;width:19.10px;height:10.29px;line-height:10.29px">10</div>
<div class="t tc db" style="left:436.30px;top:356.33px;width:37.40px;height:10.29px;line-height:10.29px">90</div>
<div class="t tr d dn" style="left:473.70px;top:356.33px;width:34.70px;height:10.29px;line-height:10.29px">11,031,990</div>
<div class="t tr db" style="left:509.70px;top:356.33px;width:32.70px;height:10.29px;line-height:10.29px">151,731</div>
<div class="t tr db" style="left:543.80px;top:356.33px;width:25.30px;height:10.29px;line-height:10.29px">7,587</div>
<div class="t tr db" style="left:570.50px;top:356.33px;width:32.90px;height:10.29px;line-height:10.29px">144,144</div>
<div class="t tc d" style="left:605.00px;top:356.33px;width:89.50px;height:10.29px;line-height:10.29px">28</div>
<div class="t tc d" style="left:33.00px;top:366.62px;width:7.30px;height:10.29px;line-height:10.29px">29</div>
<div class="t tl d nm" style="left:40.70px;top:366.62px;width:63.50px;height:10.29px;line-height:10.29px">Junaiat, A.Md.Keb</div>
<div class="t tc d" style="left:104.20px;top:366.62px;width:13.20px;height:10.29px;line-height:10.29px">60</div>
<div class="t tc d" style="left:117.40px;top:366.62px;width:13.20px;height:10.29px;line-height:10.29px">0</div>
<div class="t tr d" style="left:130.60px;top:366.62px;width:21.60px;height:10.29px;line-height:10.29px">2.73</div>
<div class="t tc d ov" style="left:153.80px;top:366.62px;width:15.00px;height:10.29px;line-height:10.29px">0</div>
<div class="t tc db" style="left:168.80px;top:366.62px;width:14.60px;height:10.29px;line-height:10.29px">60</div>
<div class="t tc d" style="left:183.40px;top:366.62px;width:15.80px;height:10.29px;line-height:10.29px">20</div>
<div class="t tc d" style="left:199.20px;top:366.62px;width:16.30px;height:10.29px;line-height:10.29px">0</div>
<div class="t tc db" style="left:215.50px;top:366.62px;width:15.80px;height:10.29px;line-height:10.29px">20</div>
<div class="t tc ds" style="left:386.70px;top:366.62px;width:15.30px;height:10.29px;line-height:10.29px">10</div>
<div class="t tc db" style="left:417.20px;top:366.62px;width:19.10px;height:10.29px;line-height:10.29px">10</div>
<div class="t tc db" style="left:436.30px;top:366.62px;width:37.40px;height:10.29px;line-height:10.29px">90</div>
<div class="t tr d dn" style="left:473.70px;top:366.62px;width:34.70px;height:10.29px;line-height:10.29px">11,031,990</div>
<div class="t tr db" style="left:509.70px;top:366.62px;width:32.70px;height:10.29px;line-height:10.29px">151,731</div>
<div class="t tr db" style="left:543.80px;top:366.62px;width:25.30px;height:10.29px;line-height:10.29px">7,587</div>
<div class="t tr db" style="left:570.50px;top:366.62px;width:32.90px;height:10.29px;line-height:10.29px">144,144</div>
<div class="t tl d" style="left:605.80px;top:366.62px;width:88.70px;height:10.29px;line-height:10.29px">29</div>
<div class="t tc ttl" style="left:219.50px;top:487.90px;width:286.00px;height:6.00px;line-height:6.00px">ALOKASI DANA KAPITASI JASA PELAYANAN KESEHATAN (DASAR PERATURAN BUPATI MEMPAWAH NOMOR 80 TAHUN 2016)</div>
<div class="t tl lbl" style="left:32.60px;top:495.30px;width:67.40px;height:6.00px;line-height:6.00px">PUSKESMAS</div>
<div class="t tl lbl" style="left:32.60px;top:502.10px;width:67.40px;height:6.00px;line-height:6.00px">BULAN</div>
<div class="t tl lbl" style="left:104.80px;top:495.30px;width:3.20px;height:6.00px;line-height:6.00px">:</div>
<div class="t tl lbl" style="left:104.80px;top:502.10px;width:3.20px;height:6.00px;line-height:6.00px">:</div>
<div class="t tl lbl lv" style="left:117.20px;top:495.30px;width:82.80px;height:6.00px;line-height:6.00px">Rawat Inap Sungai Pinyuh</div>
<div class="t tl lbl lv" style="left:117.20px;top:502.10px;width:82.80px;height:6.00px;line-height:6.00px">Des-19</div>
<div class="t tr d dn gb" style="left:473.70px;top:501.90px;width:34.50px;height:7.00px;line-height:7.00px">11,031,990</div>
<div class="t tc hb" style="left:30.00px;top:521.90px;width:13.30px;height:6.00px;line-height:6.00px">NO</div>
<div class="t tc hb" style="left:40.30px;top:522.00px;width:63.90px;height:6.00px;line-height:6.00px">NAMA</div>
<div class="t tc hb" style="left:104.20px;top:514.20px;width:79.20px;height:6.00px;line-height:6.00px">POINT</div>
<div class="t tc hb" style="left:183.40px;top:514.20px;width:47.90px;height:6.00px;line-height:6.00px">POINT</div>
<div class="t tc hb" style="left:231.30px;top:514.20px;width:185.90px;height:6.00px;line-height:6.00px">POINT</div>
<div class="t tc h" style="left:104.20px;top:525.10px;width:13.20px;height:6.00px;line-height:6.00px">PEND</div>
<div class="t tc h" style="left:117.40px;top:520.00px;width:13.20px;height:6.00px;line-height:6.00px">1 Hari</div>
<div class="t tc hs" style="left:117.40px;top:523.50px;width:13.20px;height:6.00px;line-height:6.00px">tdk</div>
<div class="t tc h" style="left:117.40px;top:528.30px;width:13.20px;height:6.00px;line-height:6.00px">Hadir</div>
<div class="t tc h" style="left:130.60px;top:520.00px;width:23.20px;height:6.00px;line-height:6.00px">Per Hari</div>
<div class="t tc h" style="left:130.60px;top:525.80px;width:23.20px;height:6.00px;line-height:6.00px">Tenaga</div>
<div class="t tc hs" style="left:153.80px;top:520.00px;width:15.00px;height:6.00px;line-height:6.00px">item</div>
<div class="t tc h" style="left:153.80px;top:529.10px;width:15.00px;height:6.00px;line-height:6.00px">(4x5)</div>
<div class="t tc hb" style="left:168.80px;top:525.10px;width:14.60px;height:6.00px;line-height:6.00px">(3 - 6)</div>
<div class="t tc h" style="left:183.40px;top:520.00px;width:15.80px;height:6.00px;line-height:6.00px">2 Hari</div>
<div class="t tc hs" style="left:183.40px;top:523.50px;width:15.80px;height:6.00px;line-height:6.00px">Kerja</div>
<div class="t tc h" style="left:183.40px;top:528.30px;width:15.80px;height:6.00px;line-height:6.00px">Efektiv</div>
<div class="t tc h" style="left:199.20px;top:520.00px;width:16.30px;height:6.00px;line-height:6.00px">2 Hari</div>
<div class="t tc hs" style="left:199.20px;top:523.50px;width:16.30px;height:6.00px;line-height:6.00px">tdk</div>
<div class="t tc h" style="left:199.20px;top:528.30px;width:16.30px;height:6.00px;line-height:6.00px">Hadir</div>
<div class="t tc hb" style="left:215.50px;top:521.70px;width:15.80px;height:6.00px;line-height:6.00px">(8-9)</div>
<div class="t tc hb" style="left:231.30px;top:520.10px;width:108.40px;height:6.00px;line-height:6.00px">Jabatan Administratif</div>
<div class="t tc hb" style="left:339.70px;top:520.10px;width:77.50px;height:6.00px;line-height:6.00px">Masa Kerja</div>
<div class="t tc h" style="left:231.30px;top:526.40px;width:19.70px;height:6.00px;line-height:6.00px">Ka. Pusk</div>
<div class="t tc h" style="left:231.30px;top:532.50px;width:19.70px;height:6.00px;line-height:6.00px">100</div>
<div class="t tc h" style="left:251.00px;top:526.40px;width:32.70px;height:6.00px;line-height:6.00px">Bend Kapitasi</div>
<div class="t tc h" style="left:251.00px;top:532.50px;width:32.70px;height:6.00px;line-height:6.00px">50</div>
<div class="t tc h" style="left:283.70px;top:526.40px;width:56.00px;height:6.00px;line-height:6.00px">Ka TU(P) Keuangan Pusk</div>
<div class="t tc h" style="left:283.70px;top:532.50px;width:56.00px;height:6.00px;line-height:6.00px">30</div>
<div class="t tc h" style="left:339.70px;top:526.40px;width:15.60px;height:6.00px;line-height:6.00px">&gt;25</div>
<div class="t tc h" style="left:339.70px;top:532.50px;width:15.60px;height:6.00px;line-height:6.00px">25</div>
<div class="t tc h" style="left:355.30px;top:526.40px;width:15.90px;height:6.00px;line-height:6.00px">21-25</div>
<div class="t tc h" style="left:355.30px;top:532.50px;width:15.90px;height:6.00px;line-height:6.00px">20</div>
<div class="t tc h" style="left:371.20px;top:526.40px;width:15.50px;height:6.00px;line-height:6.00px">16-20</div>
<div class="t tc h" style="left:371.20px;top:532.50px;width:15.50px;height:6.00px;line-height:6.00px">15</div>
<div class="t tc h" style="left:386.70px;top:526.40px;width:15.30px;height:6.00px;line-height:6.00px">11-15</div>
<div class="t tc h" style="left:386.70px;top:532.50px;width:15.30px;height:6.00px;line-height:6.00px">10</div>
<div class="t tc h" style="left:402.00px;top:526.40px;width:15.20px;height:6.00px;line-height:6.00px">5-10</div>
<div class="t tc h" style="left:402.00px;top:532.50px;width:15.20px;height:6.00px;line-height:6.00px">5</div>
<div class="t tc hb" style="left:417.20px;top:513.50px;width:19.10px;height:6.00px;line-height:6.00px">Σ</div>
<div class="t tc hb" style="left:417.20px;top:523.20px;width:19.10px;height:6.00px;line-height:6.00px">(11 s/d</div>
<div class="t tc hb" style="left:417.20px;top:528.20px;width:19.10px;height:6.00px;line-height:6.00px">40)</div>
<div class="t tc hb" style="left:436.30px;top:513.90px;width:107.50px;height:6.00px;line-height:6.00px">TOTAL</div>
<div class="t tc hb" style="left:436.30px;top:519.80px;width:37.40px;height:6.00px;line-height:6.00px">POINT</div>
<div class="t tc hb" style="left:436.30px;top:529.00px;width:37.40px;height:6.00px;line-height:6.00px">(7+10+41)</div>
<div class="t tc hb" style="left:473.70px;top:519.80px;width:36.00px;height:6.00px;line-height:6.00px">70 % JASA</div>
<div class="t tc hb" style="left:473.70px;top:529.00px;width:36.00px;height:6.00px;line-height:6.00px">PELAYANAN</div>
<div class="t tc hb" style="left:509.70px;top:519.80px;width:34.10px;height:6.00px;line-height:6.00px">JASPELKES</div>
<div class="t tc hb" style="left:509.70px;top:529.00px;width:34.10px;height:6.00px;line-height:6.00px">DITERIMA</div>
<div class="t tc hb" style="left:543.80px;top:523.20px;width:26.70px;height:6.00px;line-height:6.00px">PAJAK</div>
<div class="t tc hb" style="left:570.50px;top:519.80px;width:34.50px;height:6.00px;line-height:6.00px">TOTAL JASA</div>
<div class="t tc hb" style="left:570.50px;top:524.80px;width:34.50px;height:6.00px;line-height:6.00px">YANG DITERIMA</div>
<div class="t tc hr" style="left:605.00px;top:513.80px;width:89.50px;height:6.00px;line-height:6.00px">TANDA</div>
<div class="t tc hr" style="left:605.00px;top:525.70px;width:89.50px;height:6.00px;line-height:6.00px">TANGAN</div>
<div class="t tc d" style="left:33.00px;top:538.40px;width:7.30px;height:6.00px;line-height:6.00px">1</div>
<div class="t tc d" style="left:40.30px;top:538.40px;width:63.90px;height:6.00px;line-height:6.00px">2</div>
<div class="t tc d" style="left:104.20px;top:538.40px;width:13.20px;height:6.00px;line-height:6.00px">3</div>
<div class="t tc d" style="left:117.40px;top:538.40px;width:13.20px;height:6.00px;line-height:6.00px">4</div>
<div class="t tc d" style="left:130.60px;top:538.40px;width:23.20px;height:6.00px;line-height:6.00px">5</div>
<div class="t tc d" style="left:153.80px;top:538.40px;width:15.00px;height:6.00px;line-height:6.00px">6</div>
<div class="t tc d" style="left:168.80px;top:538.40px;width:14.60px;height:6.00px;line-height:6.00px">7</div>
<div class="t tc d" style="left:183.40px;top:538.40px;width:15.80px;height:6.00px;line-height:6.00px">8</div>
<div class="t tc d" style="left:199.20px;top:538.40px;width:16.30px;height:6.00px;line-height:6.00px">9</div>
<div class="t tc d" style="left:215.50px;top:538.40px;width:15.80px;height:6.00px;line-height:6.00px">10</div>
<div class="t tc d" style="left:231.30px;top:538.40px;width:19.70px;height:6.00px;line-height:6.00px">11</div>
<div class="t tc d" style="left:251.00px;top:538.40px;width:32.70px;height:6.00px;line-height:6.00px">12</div>
<div class="t tc d" style="left:283.70px;top:538.40px;width:56.00px;height:6.00px;line-height:6.00px">13</div>
<div class="t tc d" style="left:417.20px;top:538.40px;width:19.10px;height:6.00px;line-height:6.00px">41</div>
<div class="t tc d" style="left:436.30px;top:538.40px;width:37.40px;height:6.00px;line-height:6.00px">42</div>
<div class="t tc d" style="left:473.70px;top:538.40px;width:36.00px;height:6.00px;line-height:6.00px">43</div>
<div class="t tc d" style="left:509.70px;top:538.40px;width:34.10px;height:6.00px;line-height:6.00px">44</div>
<div class="t tc d" style="left:605.00px;top:538.40px;width:89.50px;height:6.00px;line-height:6.00px">45</div>
<div class="t tc d" style="left:33.00px;top:544.50px;width:7.30px;height:10.29px;line-height:10.29px">30</div>
<div class="t tl d nm" style="left:40.70px;top:544.50px;width:63.50px;height:10.29px;line-height:10.29px">Nurul Hidayah, A.Md.Keb</div>
<div class="t tc d" style="left:104.20px;top:544.50px;width:13.20px;height:10.29px;line-height:10.29px">60</div>
<div class="t tc d" style="left:117.40px;top:544.50px;width:13.20px;height:10.29px;line-height:10.29px">0</div>
<div class="t tr d" style="left:130.60px;top:544.50px;width:21.60px;height:10.29px;line-height:10.29px">2.73</div>
<div class="t tc d ov" style="left:153.80px;top:544.50px;width:15.00px;height:10.29px;line-height:10.29px">0</div>
<div class="t tc db" style="left:168.80px;top:544.50px;width:14.60px;height:10.29px;line-height:10.29px">60</div>
<div class="t tc d" style="left:183.40px;top:544.50px;width:15.80px;height:10.29px;line-height:10.29px">20</div>
<div class="t tc d" style="left:199.20px;top:544.50px;width:16.30px;height:10.29px;line-height:10.29px">0</div>
<div class="t tc db" style="left:215.50px;top:544.50px;width:15.80px;height:10.29px;line-height:10.29px">20</div>
<div class="t tc ds" style="left:386.70px;top:544.50px;width:15.30px;height:10.29px;line-height:10.29px">10</div>
<div class="t tc db" style="left:417.20px;top:544.50px;width:19.10px;height:10.29px;line-height:10.29px">10</div>
<div class="t tc db" style="left:436.30px;top:544.50px;width:37.40px;height:10.29px;line-height:10.29px">90</div>
<div class="t tr d dn" style="left:473.70px;top:544.50px;width:34.70px;height:10.29px;line-height:10.29px">11,031,990</div>
<div class="t tr db" style="left:509.70px;top:544.50px;width:32.70px;height:10.29px;line-height:10.29px">151,731</div>
<div class="t tr db" style="left:570.50px;top:544.50px;width:32.90px;height:10.29px;line-height:10.29px">151,731</div>
<div class="t tc d" style="left:605.00px;top:544.50px;width:89.50px;height:10.29px;line-height:10.29px">30</div>
<div class="t tc d" style="left:33.00px;top:554.79px;width:7.30px;height:10.29px;line-height:10.29px">31</div>
<div class="t tl d nm" style="left:40.70px;top:554.79px;width:63.50px;height:10.29px;line-height:10.29px">Erni Sartika, A.Md.Keb</div>
<div class="t tc d" style="left:104.20px;top:554.79px;width:13.20px;height:10.29px;line-height:10.29px">60</div>
<div class="t tc d" style="left:117.40px;top:554.79px;width:13.20px;height:10.29px;line-height:10.29px">2</div>
<div class="t tr d" style="left:130.60px;top:554.79px;width:21.60px;height:10.29px;line-height:10.29px">2.73</div>
<div class="t tc d ov" style="left:153.80px;top:554.79px;width:15.00px;height:10.29px;line-height:10.29px">5.45455</div>
<div class="t tc db" style="left:168.80px;top:554.79px;width:14.60px;height:10.29px;line-height:10.29px">54.545</div>
<div class="t tc d" style="left:183.40px;top:554.79px;width:15.80px;height:10.29px;line-height:10.29px">20</div>
<div class="t tc d" style="left:199.20px;top:554.79px;width:16.30px;height:10.29px;line-height:10.29px">2</div>
<div class="t tc db" style="left:215.50px;top:554.79px;width:15.80px;height:10.29px;line-height:10.29px">18</div>
<div class="t tc db" style="left:417.20px;top:554.79px;width:19.10px;height:10.29px;line-height:10.29px">0</div>
<div class="t tc db" style="left:436.30px;top:554.79px;width:37.40px;height:10.29px;line-height:10.29px">72.5454545454545</div>
<div class="t tr d dn" style="left:473.70px;top:554.79px;width:34.70px;height:10.29px;line-height:10.29px">11,031,990</div>
<div class="t tr db" style="left:509.70px;top:554.79px;width:32.70px;height:10.29px;line-height:10.29px">122,304</div>
<div class="t tr db" style="left:570.50px;top:554.79px;width:32.90px;height:10.29px;line-height:10.29px">122,304</div>
<div class="t tl d" style="left:605.80px;top:554.79px;width:88.70px;height:10.29px;line-height:10.29px">31</div>
<div class="t tc d" style="left:33.00px;top:565.08px;width:7.30px;height:10.29px;line-height:10.29px">32</div>
<div class="t tl d nm" style="left:40.70px;top:565.08px;width:63.50px;height:10.29px;line-height:10.29px">Meirianti Rias A, A.Md.Keb</div>
<div class="t tc d" style="left:104.20px;top:565.08px;width:13.20px;height:10.29px;line-height:10.29px">60</div>
<div class="t tc d" style="left:117.40px;top:565.08px;width:13.20px;height:10.29px;line-height:10.29px">0</div>
<div class="t tr d" style="left:130.60px;top:565.08px;width:21.60px;height:10.29px;line-height:10.29px">2.73</div>
<div class="t tc d ov" style="left:153.80px;top:565.08px;width:15.00px;height:10.29px;line-height:10.29px">0</div>
<div class="t tc db" style="left:168.80px;top:565.08px;width:14.60px;height:10.29px;line-height:10.29px">60</div>
<div class="t tc d" style="left:183.40px;top:565.08px;width:15.80px;height:10.29px;line-height:10.29px">20</div>
<div class="t tc d" style="left:199.20px;top:565.08px;width:16.30px;height:10.29px;line-height:10.29px">0</div>
<div class="t tc db" style="left:215.50px;top:565.08px;width:15.80px;height:10.29px;line-height:10.29px">20</div>
<div class="t tc db" style="left:417.20px;top:565.08px;width:19.10px;height:10.29px;line-height:10.29px">0</div>
<div class="t tc db" style="left:436.30px;top:565.08px;width:37.40px;height:10.29px;line-height:10.29px">80</div>
<div class="t tr d dn" style="left:473.70px;top:565.08px;width:34.70px;height:10.29px;line-height:10.29px">11,031,990</div>
<div class="t tr db" style="left:509.70px;top:565.08px;width:32.70px;height:10.29px;line-height:10.29px">134,872</div>
<div class="t tr db" style="left:570.50px;top:565.08px;width:32.90px;height:10.29px;line-height:10.29px">134,872</div>
<div class="t tc d" style="left:605.00px;top:565.08px;width:89.50px;height:10.29px;line-height:10.29px">32</div>
<div class="t tc d" style="left:33.00px;top:575.37px;width:7.30px;height:10.29px;line-height:10.29px">33</div>
<div class="t tl d nm" style="left:40.70px;top:575.37px;width:63.50px;height:10.29px;line-height:10.29px">Ema Septiani, A.Md.Keb</div>
<div class="t tc d" style="left:104.20px;top:575.37px;width:13.20px;height:10.29px;line-height:10.29px">60</div>
<div class="t tc d" style="left:117.40px;top:575.37px;width:13.20px;height:10.29px;line-height:10.29px">0</div>
<div class="t tr d" style="left:130.60px;top:575.37px;width:21.60px;height:10.29px;line-height:10.29px">2.73</div>
<div class="t tc d ov" style="left:153.80px;top:575.37px;width:15.00px;height:10.29px;line-height:10.29px">0</div>
<div class="t tc db" style="left:168.80px;top:575.37px;width:14.60px;height:10.29px;line-height:10.29px">60</div>
<div class="t tc d" style="left:183.40px;top:575.37px;width:15.80px;height:10.29px;line-height:10.29px">20</div>
<div class="t tc d" style="left:199.20px;top:575.37px;width:16.30px;height:10.29px;line-height:10.29px">0</div>
<div class="t tc db" style="left:215.50px;top:575.37px;width:15.80px;height:10.29px;line-height:10.29px">20</div>
<div class="t tc db" style="left:417.20px;top:575.37px;width:19.10px;height:10.29px;line-height:10.29px">0</div>
<div class="t tc db" style="left:436.30px;top:575.37px;width:37.40px;height:10.29px;line-height:10.29px">80</div>
<div class="t tr d dn" style="left:473.70px;top:575.37px;width:34.70px;height:10.29px;line-height:10.29px">11,031,990</div>
<div class="t tr db" style="left:509.70px;top:575.37px;width:32.70px;height:10.29px;line-height:10.29px">134,872</div>
<div class="t tr db" style="left:570.50px;top:575.37px;width:32.90px;height:10.29px;line-height:10.29px">134,872</div>
<div class="t tl d" style="left:605.80px;top:575.37px;width:88.70px;height:10.29px;line-height:10.29px">33</div>
<div class="t tc d" style="left:33.00px;top:585.66px;width:7.30px;height:10.29px;line-height:10.29px">34</div>
<div class="t tl d nm" style="left:40.70px;top:585.66px;width:63.50px;height:10.29px;line-height:10.29px">Jumiadi</div>
<div class="t tc d" style="left:104.20px;top:585.66px;width:13.20px;height:10.29px;line-height:10.29px">50</div>
<div class="t tc d" style="left:117.40px;top:585.66px;width:13.20px;height:10.29px;line-height:10.29px">9</div>
<div class="t tr d" style="left:130.60px;top:585.66px;width:21.60px;height:10.29px;line-height:10.29px">2.27</div>
<div class="t tc d ov" style="left:153.80px;top:585.66px;width:15.00px;height:10.29px;line-height:10.29px">20.4545</div>
<div class="t tc db" style="left:168.80px;top:585.66px;width:14.60px;height:10.29px;line-height:10.29px">29.545</div>
<div class="t tc d" style="left:183.40px;top:585.66px;width:15.80px;height:10.29px;line-height:10.29px">20</div>
<div class="t tc d" style="left:199.20px;top:585.66px;width:16.30px;height:10.29px;line-height:10.29px">9</div>
<div class="t tc db" style="left:215.50px;top:585.66px;width:15.80px;height:10.29px;line-height:10.29px">11</div>
<div class="t tc ds" style="left:339.70px;top:585.66px;width:15.60px;height:10.29px;line-height:10.29px">25</div>
<div class="t tc db" style="left:417.20px;top:585.66px;width:19.10px;height:10.29px;line-height:10.29px">25</div>
<div class="t tc db" style="left:436.30px;top:585.66px;width:37.40px;height:10.29px;line-height:10.29px">65.5454545454545</div>
<div class="t tr d dn" style="left:473.70px;top:585.66px;width:34.70px;height:10.29px;line-height:10.29px">11,031,990</div>
<div class="t tr db" style="left:509.70px;top:585.66px;width:32.70px;height:10.29px;line-height:10.29px">110,503</div>
<div class="t tr db" style="left:570.50px;top:585.66px;width:32.90px;height:10.29px;line-height:10.29px">110,503</div>
<div class="t tc d" style="left:605.00px;top:585.66px;width:89.50px;height:10.29px;line-height:10.29px">34</div>
<div class="t tc d" style="left:33.00px;top:595.95px;width:7.30px;height:10.29px;line-height:10.29px">35</div>
<div class="t tl d nm" style="left:40.70px;top:595.95px;width:63.50px;height:10.29px;line-height:10.29px">dr. Chong</div>
<div class="t tc d" style="left:104.20px;top:595.95px;width:13.20px;height:10.29px;line-height:10.29px">150</div>
<div class="t tc d" style="left:117.40px;top:595.95px;width:13.20px;height:10.29px;line-height:10.29px">2</div>
<div class="t tr d" style="left:130.60px;top:595.95px;width:21.60px;height:10.29px;line-height:10.29px">6.82</div>
<div class="t tc d ov" style="left:153.80px;top:595.95px;width:15.00px;height:10.29px;line-height:10.29px">13.6364</div>
<div class="t tc db" style="left:168.80px;top:595.95px;width:14.60px;height:10.29px;line-height:10.29px">136.36</div>
<div class="t tc d" style="left:183.40px;top:595.95px;width:15.80px;height:10.29px;line-height:10.29px">20</div>
<div class="t tc d" style="left:199.20px;top:595.95px;width:16.30px;height:10.29px;line-height:10.29px">2</div>
<div class="t tc db" style="left:215.50px;top:595.95px;width:15.80px;height:10.29px;line-height:10.29px">18</div>
<div class="t tc db" style="left:417.20px;top:595.95px;width:19.10px;height:10.29px;line-height:10.29px">0</div>
<div class="t tc db" style="left:436.30px;top:595.95px;width:37.40px;height:10.29px;line-height:10.29px">154.363636363636</div>
<div class="t tr d dn" style="left:473.70px;top:595.95px;width:34.70px;height:10.29px;line-height:10.29px">11,031,990</div>
<div class="t tr db" style="left:509.70px;top:595.95px;width:32.70px;height:10.29px;line-height:10.29px">260,241</div>
<div class="t tr db" style="left:543.80px;top:595.95px;width:25.30px;height:10.29px;line-height:10.29px">13,012</div>
<div class="t tr db" style="left:570.50px;top:595.95px;width:32.90px;height:10.29px;line-height:10.29px">247,229</div>
<div class="t tl d" style="left:605.80px;top:595.95px;width:88.70px;height:10.29px;line-height:10.29px">35</div>
<div class="t tc d" style="left:33.00px;top:606.24px;width:7.30px;height:10.29px;line-height:10.29px">36</div>
<div class="t tl d nm" style="left:40.70px;top:606.24px;width:63.50px;height:10.29px;line-height:10.29px">dr. Tri Juni Ardhi</div>
<div class="t tc d" style="left:104.20px;top:606.24px;width:13.20px;height:10.29px;line-height:10.29px">150</div>
<div class="t tc d" style="left:117.40px;top:606.24px;width:13.20px;height:10.29px;line-height:10.29px">1</div>
<div class="t tr d" style="left:130.60px;top:606.24px;width:21.60px;height:10.29px;line-height:10.29px">6.82</div>
<div class="t tc d ov" style="left:153.80px;top:606.24px;width:15.00px;height:10.29px;line-height:10.29px">6.81818</div>
<div class="t tc db" style="left:168.80px;top:606.24px;width:14.60px;height:10.29px;line-height:10.29px">143.18</div>
<div class="t tc d" style="left:183.40px;top:606.24px;width:15.80px;height:10.29px;line-height:10.29px">20</div>
<div class="t tc d" style="left:199.20px;top:606.24px;width:16.30px;height:10.29px;line-height:10.29px">1</div>
<div class="t tc db" style="left:215.50px;top:606.24px;width:15.80px;height:10.29px;line-height:10.29px">19</div>
<div class="t tc db" style="left:417.20px;top:606.24px;width:19.10px;height:10.29px;line-height:10.29px">0</div>
<div class="t tc db" style="left:436.30px;top:606.24px;width:37.40px;height:10.29px;line-height:10.29px">162.181818181818</div>
<div class="t tr d dn" style="left:473.70px;top:606.24px;width:34.70px;height:10.29px;line-height:10.29px">11,031,990</div>
<div class="t tr db" style="left:509.70px;top:606.24px;width:32.70px;height:10.29px;line-height:10.29px">273,422</div>
<div class="t tr db" style="left:543.80px;top:606.24px;width:25.30px;height:10.29px;line-height:10.29px">13,671</div>
<div class="t tr db" style="left:570.50px;top:606.24px;width:32.90px;height:10.29px;line-height:10.29px">259,751</div>
<div class="t tc d" style="left:605.00px;top:606.24px;width:89.50px;height:10.29px;line-height:10.29px">36</div>
<div class="t tc d" style="left:33.00px;top:616.53px;width:7.30px;height:10.29px;line-height:10.29px">37</div>
<div class="t tl d nm" style="left:40.70px;top:616.53px;width:63.50px;height:10.29px;line-height:10.29px">dr. Denny</div>
<div class="t tc d" style="left:104.20px;top:616.53px;width:13.20px;height:10.29px;line-height:10.29px">0</div>
<div class="t tc d" style="left:117.40px;top:616.53px;width:13.20px;height:10.29px;line-height:10.29px">0</div>
<div class="t tr d" style="left:130.60px;top:616.53px;width:18.20px;height:10.29px;line-height:10.29px">-</div>
<div class="t tc d ov" style="left:153.80px;top:616.53px;width:15.00px;height:10.29px;line-height:10.29px">0</div>
<div class="t tc db" style="left:168.80px;top:616.53px;width:14.60px;height:10.29px;line-height:10.29px">0</div>
<div class="t tc d" style="left:183.40px;top:616.53px;width:15.80px;height:10.29px;line-height:10.29px">0</div>
<div class="t tc d" style="left:199.20px;top:616.53px;width:16.30px;height:10.29px;line-height:10.29px">0</div>
<div class="t tc db" style="left:215.50px;top:616.53px;width:15.80px;height:10.29px;line-height:10.29px">0</div>
<div class="t tc db" style="left:417.20px;top:616.53px;width:19.10px;height:10.29px;line-height:10.29px">0</div>
<div class="t tc db" style="left:436.30px;top:616.53px;width:37.40px;height:10.29px;line-height:10.29px">0</div>
<div class="t tr d dn" style="left:473.70px;top:616.53px;width:34.70px;height:10.29px;line-height:10.29px">11,031,990</div>
<div class="t tr db" style="left:509.70px;top:616.53px;width:31.10px;height:10.29px;line-height:10.29px">-</div>
<div class="t tr db" style="left:543.80px;top:616.53px;width:25.30px;height:10.29px;line-height:10.29px">0</div>
<div class="t tr db" style="left:570.50px;top:616.53px;width:31.50px;height:10.29px;line-height:10.29px">-</div>
<div class="t tl d" style="left:605.80px;top:616.53px;width:88.70px;height:10.29px;line-height:10.29px">37</div>
<div class="t tc d" style="left:33.00px;top:626.82px;width:7.30px;height:10.29px;line-height:10.29px">38</div>
<div class="t tl d nm" style="left:40.70px;top:626.82px;width:63.50px;height:10.29px;line-height:10.29px">dr. Ni&#x27;matul Mukmainah</div>
<div class="t tc d" style="left:104.20px;top:626.82px;width:13.20px;height:10.29px;line-height:10.29px">150</div>
<div class="t tc d" style="left:117.40px;top:626.82px;width:13.20px;height:10.29px;line-height:10.29px">0</div>
<div class="t tr d" style="left:130.60px;top:626.82px;width:21.60px;height:10.29px;line-height:10.29px">6.82</div>
<div class="t tc d ov" style="left:153.80px;top:626.82px;width:15.00px;height:10.29px;line-height:10.29px">0</div>
<div class="t tc db" style="left:168.80px;top:626.82px;width:14.60px;height:10.29px;line-height:10.29px">150</div>
<div class="t tc d" style="left:183.40px;top:626.82px;width:15.80px;height:10.29px;line-height:10.29px">20</div>
<div class="t tc d" style="left:199.20px;top:626.82px;width:16.30px;height:10.29px;line-height:10.29px">0</div>
<div class="t tc db" style="left:215.50px;top:626.82px;width:15.80px;height:10.29px;line-height:10.29px">20</div>
<div class="t tc db" style="left:417.20px;top:626.82px;width:19.10px;height:10.29px;line-height:10.29px">0</div>
<div class="t tc db" style="left:436.30px;top:626.82px;width:37.40px;height:10.29px;line-height:10.29px">170</div>
<div class="t tr d dn" style="left:473.70px;top:626.82px;width:34.70px;height:10.29px;line-height:10.29px">11,031,990</div>
<div class="t tr db" style="left:509.70px;top:626.82px;width:32.70px;height:10.29px;line-height:10.29px">286,602</div>
<div class="t tr db" style="left:543.80px;top:626.82px;width:25.30px;height:10.29px;line-height:10.29px">14,330</div>
<div class="t tr db" style="left:570.50px;top:626.82px;width:32.90px;height:10.29px;line-height:10.29px">272,272</div>
<div class="t tc d" style="left:605.00px;top:626.82px;width:89.50px;height:10.29px;line-height:10.29px">38</div>
<div class="t tc d" style="left:33.00px;top:637.11px;width:7.30px;height:10.29px;line-height:10.29px">39</div>
<div class="t tl d nm" style="left:40.70px;top:637.11px;width:63.50px;height:10.29px;line-height:10.29px">Feni Mardiansyah, A.Md.Kg</div>
<div class="t tc d" style="left:104.20px;top:637.11px;width:13.20px;height:10.29px;line-height:10.29px">60</div>
<div class="t tc d" style="left:117.40px;top:637.11px;width:13.20px;height:10.29px;line-height:10.29px">0</div>
<div class="t tr d" style="left:130.60px;top:637.11px;width:21.60px;height:10.29px;line-height:10.29px">2.73</div>
<div class="t tc d ov" style="left:153.80px;top:637.11px;width:15.00px;height:10.29px;line-height:10.29px">0</div>
<div class="t tc db" style="left:168.80px;top:637.11px;width:14.60px;height:10.29px;line-height:10.29px">60</div>
<div class="t tc d" style="left:183.40px;top:637.11px;width:15.80px;height:10.29px;line-height:10.29px">20</div>
<div class="t tc d" style="left:199.20px;top:637.11px;width:16.30px;height:10.29px;line-height:10.29px">0</div>
<div class="t tc db" style="left:215.50px;top:637.11px;width:15.80px;height:10.29px;line-height:10.29px">20</div>
<div class="t tc db" style="left:417.20px;top:637.11px;width:19.10px;height:10.29px;line-height:10.29px">0</div>
<div class="t tc db" style="left:436.30px;top:637.11px;width:37.40px;height:10.29px;line-height:10.29px">80</div>
<div class="t tr d dn" style="left:473.70px;top:637.11px;width:34.70px;height:10.29px;line-height:10.29px">11,031,990</div>
<div class="t tr db" style="left:509.70px;top:637.11px;width:32.70px;height:10.29px;line-height:10.29px">134,872</div>
<div class="t tr db" style="left:570.50px;top:637.11px;width:32.90px;height:10.29px;line-height:10.29px">134,872</div>
<div class="t tl d" style="left:605.80px;top:637.11px;width:88.70px;height:10.29px;line-height:10.29px">39</div>
<div class="t tc d" style="left:33.00px;top:647.40px;width:7.30px;height:10.29px;line-height:10.29px">40</div>
<div class="t tl d nm" style="left:40.70px;top:647.40px;width:63.50px;height:10.29px;line-height:10.29px">Dedy Mulyadi, A.Md.Kep</div>
<div class="t tc d" style="left:104.20px;top:647.40px;width:13.20px;height:10.29px;line-height:10.29px">60</div>
<div class="t tc d" style="left:117.40px;top:647.40px;width:13.20px;height:10.29px;line-height:10.29px">0</div>
<div class="t tr d" style="left:130.60px;top:647.40px;width:21.60px;height:10.29px;line-height:10.29px">2.73</div>
<div class="t tc d ov" style="left:153.80px;top:647.40px;width:15.00px;height:10.29px;line-height:10.29px">0</div>
<div class="t tc db" style="left:168.80px;top:647.40px;width:14.60px;height:10.29px;line-height:10.29px">60</div>
<div class="t tc d" style="left:183.40px;top:647.40px;width:15.80px;height:10.29px;line-height:10.29px">20</div>
<div class="t tc d" style="left:199.20px;top:647.40px;width:16.30px;height:10.29px;line-height:10.29px">0</div>
<div class="t tc db" style="left:215.50px;top:647.40px;width:15.80px;height:10.29px;line-height:10.29px">20</div>
<div class="t tc db" style="left:417.20px;top:647.40px;width:19.10px;height:10.29px;line-height:10.29px">0</div>
<div class="t tc db" style="left:436.30px;top:647.40px;width:37.40px;height:10.29px;line-height:10.29px">80</div>
<div class="t tr d dn" style="left:473.70px;top:647.40px;width:34.70px;height:10.29px;line-height:10.29px">11,031,990</div>
<div class="t tr db" style="left:509.70px;top:647.40px;width:32.70px;height:10.29px;line-height:10.29px">134,872</div>
<div class="t tr db" style="left:570.50px;top:647.40px;width:32.90px;height:10.29px;line-height:10.29px">134,872</div>
<div class="t tc d" style="left:605.00px;top:647.40px;width:89.50px;height:10.29px;line-height:10.29px">40</div>
<div class="t tc d" style="left:33.00px;top:657.69px;width:7.30px;height:10.29px;line-height:10.29px">41</div>
<div class="t tl d nm" style="left:40.70px;top:657.69px;width:63.50px;height:10.29px;line-height:10.29px">Teguh Ardika, A.Md.Kep</div>
<div class="t tc d" style="left:104.20px;top:657.69px;width:13.20px;height:10.29px;line-height:10.29px">60</div>
<div class="t tc d" style="left:117.40px;top:657.69px;width:13.20px;height:10.29px;line-height:10.29px">2</div>
<div class="t tr d" style="left:130.60px;top:657.69px;width:21.60px;height:10.29px;line-height:10.29px">2.73</div>
<div class="t tc d ov" style="left:153.80px;top:657.69px;width:15.00px;height:10.29px;line-height:10.29px">5.45455</div>
<div class="t tc db" style="left:168.80px;top:657.69px;width:14.60px;height:10.29px;line-height:10.29px">54.545</div>
<div class="t tc d" style="left:183.40px;top:657.69px;width:15.80px;height:10.29px;line-height:10.29px">20</div>
<div class="t tc d" style="left:199.20px;top:657.69px;width:16.30px;height:10.29px;line-height:10.29px">2</div>
<div class="t tc db" style="left:215.50px;top:657.69px;width:15.80px;height:10.29px;line-height:10.29px">18</div>
<div class="t tc db" style="left:417.20px;top:657.69px;width:19.10px;height:10.29px;line-height:10.29px">0</div>
<div class="t tc db" style="left:436.30px;top:657.69px;width:37.40px;height:10.29px;line-height:10.29px">72.5454545454545</div>
<div class="t tr d dn" style="left:473.70px;top:657.69px;width:34.70px;height:10.29px;line-height:10.29px">11,031,990</div>
<div class="t tr db" style="left:509.70px;top:657.69px;width:32.70px;height:10.29px;line-height:10.29px">122,304</div>
<div class="t tr db" style="left:570.50px;top:657.69px;width:32.90px;height:10.29px;line-height:10.29px">122,304</div>
<div class="t tl d" style="left:605.80px;top:657.69px;width:88.70px;height:10.29px;line-height:10.29px">41</div>
<div class="t tc d" style="left:33.00px;top:667.98px;width:7.30px;height:10.29px;line-height:10.29px">42</div>
<div class="t tl d nm" style="left:40.70px;top:667.98px;width:63.50px;height:10.29px;line-height:10.29px">Faisal Akadi, A.Md.Kep</div>
<div class="t tc d" style="left:104.20px;top:667.98px;width:13.20px;height:10.29px;line-height:10.29px">60</div>
<div class="t tc d" style="left:117.40px;top:667.98px;width:13.20px;height:10.29px;line-height:10.29px">3</div>
<div class="t tr d" style="left:130.60px;top:667.98px;width:21.60px;height:10.29px;line-height:10.29px">2.73</div>
<div class="t tc d ov" style="left:153.80px;top:667.98px;width:15.00px;height:10.29px;line-height:10.29px">8.18182</div>
<div class="t tc db" style="left:168.80px;top:667.98px;width:14.60px;height:10.29px;line-height:10.29px">51.818</div>
<div class="t tc d" style="left:183.40px;top:667.98px;width:15.80px;height:10.29px;line-height:10.29px">20</div>
<div class="t tc d" style="left:199.20px;top:667.98px;width:16.30px;height:10.29px;line-height:10.29px">3</div>
<div class="t tc db" style="left:215.50px;top:667.98px;width:15.80px;height:10.29px;line-height:10.29px">17</div>
<div class="t tc db" style="left:417.20px;top:667.98px;width:19.10px;height:10.29px;line-height:10.29px">0</div>
<div class="t tc db" style="left:436.30px;top:667.98px;width:37.40px;height:10.29px;line-height:10.29px">68.8181818181818</div>
<div class="t tr d dn" style="left:473.70px;top:667.98px;width:34.70px;height:10.29px;line-height:10.29px">11,031,990</div>
<div class="t tr db" style="left:509.70px;top:667.98px;width:32.70px;height:10.29px;line-height:10.29px">116,020</div>
<div class="t tr db" style="left:570.50px;top:667.98px;width:32.90px;height:10.29px;line-height:10.29px">116,020</div>
<div class="t tc d" style="left:605.00px;top:667.98px;width:89.50px;height:10.29px;line-height:10.29px">42</div>
<div class="t tc d" style="left:33.00px;top:678.27px;width:7.30px;height:10.29px;line-height:10.29px">43</div>
<div class="t tl d nm" style="left:40.70px;top:678.27px;width:63.50px;height:10.29px;line-height:10.29px">Dian Susian, A.Md.Kep</div>
<div class="t tc d" style="left:104.20px;top:678.27px;width:13.20px;height:10.29px;line-height:10.29px">60</div>
<div class="t tc d" style="left:117.40px;top:678.27px;width:13.20px;height:10.29px;line-height:10.29px">0</div>
<div class="t tr d" style="left:130.60px;top:678.27px;width:21.60px;height:10.29px;line-height:10.29px">2.73</div>
<div class="t tc d ov" style="left:153.80px;top:678.27px;width:15.00px;height:10.29px;line-height:10.29px">0</div>
<div class="t tc db" style="left:168.80px;top:678.27px;width:14.60px;height:10.29px;line-height:10.29px">60</div>
<div class="t tc d" style="left:183.40px;top:678.27px;width:15.80px;height:10.29px;line-height:10.29px">20</div>
<div class="t tc d" style="left:199.20px;top:678.27px;width:16.30px;height:10.29px;line-height:10.29px">0</div>
<div class="t tc db" style="left:215.50px;top:678.27px;width:15.80px;height:10.29px;line-height:10.29px">20</div>
<div class="t tc db" style="left:417.20px;top:678.27px;width:19.10px;height:10.29px;line-height:10.29px">0</div>
<div class="t tc db" style="left:436.30px;top:678.27px;width:37.40px;height:10.29px;line-height:10.29px">80</div>
<div class="t tr d dn" style="left:473.70px;top:678.27px;width:34.70px;height:10.29px;line-height:10.29px">11,031,990</div>
<div class="t tr db" style="left:509.70px;top:678.27px;width:32.70px;height:10.29px;line-height:10.29px">134,872</div>
<div class="t tr db" style="left:570.50px;top:678.27px;width:32.90px;height:10.29px;line-height:10.29px">134,872</div>
<div class="t tl d" style="left:605.80px;top:678.27px;width:88.70px;height:10.29px;line-height:10.29px">43</div>
<div class="t tc d" style="left:33.00px;top:688.56px;width:7.30px;height:10.29px;line-height:10.29px">44</div>
<div class="t tl d nm" style="left:40.70px;top:688.56px;width:63.50px;height:10.29px;line-height:10.29px">Evy Haryani, A.Md.Keb</div>
<div class="t tc d" style="left:104.20px;top:688.56px;width:13.20px;height:10.29px;line-height:10.29px">60</div>
<div class="t tc d" style="left:117.40px;top:688.56px;width:13.20px;height:10.29px;line-height:10.29px">0</div>
<div class="t tr d" style="left:130.60px;top:688.56px;width:21.60px;height:10.29px;line-height:10.29px">2.73</div>
<div class="t tc d ov" style="left:153.80px;top:688.56px;width:15.00px;height:10.29px;line-height:10.29px">0</div>
<div class="t tc db" style="left:168.80px;top:688.56px;width:14.60px;height:10.29px;line-height:10.29px">60</div>
<div class="t tc d" style="left:183.40px;top:688.56px;width:15.80px;height:10.29px;line-height:10.29px">20</div>
<div class="t tc d" style="left:199.20px;top:688.56px;width:16.30px;height:10.29px;line-height:10.29px">0</div>
<div class="t tc db" style="left:215.50px;top:688.56px;width:15.80px;height:10.29px;line-height:10.29px">20</div>
<div class="t tc db" style="left:417.20px;top:688.56px;width:19.10px;height:10.29px;line-height:10.29px">0</div>
<div class="t tc db" style="left:436.30px;top:688.56px;width:37.40px;height:10.29px;line-height:10.29px">80</div>
<div class="t tr d dn" style="left:473.70px;top:688.56px;width:34.70px;height:10.29px;line-height:10.29px">11,031,990</div>
<div class="t tr db" style="left:509.70px;top:688.56px;width:32.70px;height:10.29px;line-height:10.29px">134,872</div>
<div class="t tr db" style="left:570.50px;top:688.56px;width:32.90px;height:10.29px;line-height:10.29px">134,872</div>
<div class="t tc d" style="left:605.00px;top:688.56px;width:89.50px;height:10.29px;line-height:10.29px">44</div>
<div class="t tc d" style="left:33.00px;top:698.85px;width:7.30px;height:10.29px;line-height:10.29px">45</div>
<div class="t tl d nm" style="left:40.70px;top:698.85px;width:63.50px;height:10.29px;line-height:10.29px">Diah Ayu, A.Md.Keb</div>
<div class="t tc d" style="left:104.20px;top:698.85px;width:13.20px;height:10.29px;line-height:10.29px">60</div>
<div class="t tc d" style="left:117.40px;top:698.85px;width:13.20px;height:10.29px;line-height:10.29px">1</div>
<div class="t tr d" style="left:130.60px;top:698.85px;width:21.60px;height:10.29px;line-height:10.29px">2.73</div>
<div class="t tc d ov" style="left:153.80px;top:698.85px;width:15.00px;height:10.29px;line-height:10.29px">2.72727</div>
<div class="t tc db" style="left:168.80px;top:698.85px;width:14.60px;height:10.29px;line-height:10.29px">57.273</div>
<div class="t tc d" style="left:183.40px;top:698.85px;width:15.80px;height:10.29px;line-height:10.29px">20</div>
<div class="t tc d" style="left:199.20px;top:698.85px;width:16.30px;height:10.29px;line-height:10.29px">1</div>
<div class="t tc db" style="left:215.50px;top:698.85px;width:15.80px;height:10.29px;line-height:10.29px">19</div>
<div class="t tc db" style="left:417.20px;top:698.85px;width:19.10px;height:10.29px;line-height:10.29px">0</div>
<div class="t tc db" style="left:436.30px;top:698.85px;width:37.40px;height:10.29px;line-height:10.29px">76.2727272727273</div>
<div class="t tr d dn" style="left:473.70px;top:698.85px;width:34.70px;height:10.29px;line-height:10.29px">11,031,990</div>
<div class="t tr db" style="left:509.70px;top:698.85px;width:32.70px;height:10.29px;line-height:10.29px">128,588</div>
<div class="t tr db" style="left:570.50px;top:698.85px;width:32.90px;height:10.29px;line-height:10.29px">128,588</div>
<div class="t tl d" style="left:605.80px;top:698.85px;width:88.70px;height:10.29px;line-height:10.29px">45</div>
<div class="t tc d" style="left:33.00px;top:709.14px;width:7.30px;height:10.29px;line-height:10.29px">46</div>
<div class="t tl d nm" style="left:40.70px;top:709.14px;width:63.50px;height:10.29px;line-height:10.29px">Sarah Murniasari, A.Md.Keb</div>
<div class="t tc d" style="left:104.20px;top:709.14px;width:13.20px;height:10.29px;line-height:10.29px">60</div>
<div class="t tc d" style="left:117.40px;top:709.14px;width:13.20px;height:10.29px;line-height:10.29px">0</div>
<div class="t tr d" style="left:130.60px;top:709.14px;width:21.60px;height:10.29px;line-height:10.29px">2.73</div>
<div class="t tc d ov" style="left:153.80px;top:709.14px;width:15.00px;height:10.29px;line-height:10.29px">0</div>
<div class="t tc db" style="left:168.80px;top:709.14px;width:14.60px;height:10.29px;line-height:10.29px">60</div>
<div class="t tc d" style="left:183.40px;top:709.14px;width:15.80px;height:10.29px;line-height:10.29px">20</div>
<div class="t tc d" style="left:199.20px;top:709.14px;width:16.30px;height:10.29px;line-height:10.29px">0</div>
<div class="t tc db" style="left:215.50px;top:709.14px;width:15.80px;height:10.29px;line-height:10.29px">20</div>
<div class="t tc db" style="left:417.20px;top:709.14px;width:19.10px;height:10.29px;line-height:10.29px">0</div>
<div class="t tc db" style="left:436.30px;top:709.14px;width:37.40px;height:10.29px;line-height:10.29px">80</div>
<div class="t tr d dn" style="left:473.70px;top:709.14px;width:34.70px;height:10.29px;line-height:10.29px">11,031,990</div>
<div class="t tr db" style="left:509.70px;top:709.14px;width:32.70px;height:10.29px;line-height:10.29px">134,872</div>
<div class="t tr db" style="left:570.50px;top:709.14px;width:32.90px;height:10.29px;line-height:10.29px">134,872</div>
<div class="t tc d" style="left:605.00px;top:709.14px;width:89.50px;height:10.29px;line-height:10.29px">46</div>
<div class="t tc d" style="left:33.00px;top:719.43px;width:7.30px;height:10.29px;line-height:10.29px">47</div>
<div class="t tl d nm" style="left:40.70px;top:719.43px;width:63.50px;height:10.29px;line-height:10.29px">Novita Sari, A.Md.Keb</div>
<div class="t tc d" style="left:104.20px;top:719.43px;width:13.20px;height:10.29px;line-height:10.29px">60</div>
<div class="t tc d" style="left:117.40px;top:719.43px;width:13.20px;height:10.29px;line-height:10.29px">2</div>
<div class="t tr d" style="left:130.60px;top:719.43px;width:21.60px;height:10.29px;line-height:10.29px">2.73</div>
<div class="t tc d ov" style="left:153.80px;top:719.43px;width:15.00px;height:10.29px;line-height:10.29px">5.45455</div>
<div class="t tc db" style="left:168.80px;top:719.43px;width:14.60px;height:10.29px;line-height:10.29px">54.545</div>
<div class="t tc d" style="left:183.40px;top:719.43px;width:15.80px;height:10.29px;line-height:10.29px">20</div>
<div class="t tc d" style="left:199.20px;top:719.43px;width:16.30px;height:10.29px;line-height:10.29px">2</div>
<div class="t tc db" style="left:215.50px;top:719.43px;width:15.80px;height:10.29px;line-height:10.29px">18</div>
<div class="t tc db" style="left:417.20px;top:719.43px;width:19.10px;height:10.29px;line-height:10.29px">0</div>
<div class="t tc db" style="left:436.30px;top:719.43px;width:37.40px;height:10.29px;line-height:10.29px">72.5454545454545</div>
<div class="t tr d dn" style="left:473.70px;top:719.43px;width:34.70px;height:10.29px;line-height:10.29px">11,031,990</div>
<div class="t tr db" style="left:509.70px;top:719.43px;width:32.70px;height:10.29px;line-height:10.29px">122,304</div>
<div class="t tr db" style="left:570.50px;top:719.43px;width:32.90px;height:10.29px;line-height:10.29px">122,304</div>
<div class="t tl d" style="left:605.80px;top:719.43px;width:88.70px;height:10.29px;line-height:10.29px">47</div>
<div class="t tc d" style="left:33.00px;top:729.72px;width:7.30px;height:10.29px;line-height:10.29px">48</div>
<div class="t tl d nm" style="left:40.70px;top:729.72px;width:63.50px;height:10.29px;line-height:10.29px">Sulasyanti, A.Md.Keb</div>
<div class="t tc d" style="left:104.20px;top:729.72px;width:13.20px;height:10.29px;line-height:10.29px">60</div>
<div class="t tc d" style="left:117.40px;top:729.72px;width:13.20px;height:10.29px;line-height:10.29px">1</div>
<div class="t tr d" style="left:130.60px;top:729.72px;width:21.60px;height:10.29px;line-height:10.29px">2.73</div>
<div class="t tc d ov" style="left:153.80px;top:729.72px;width:15.00px;height:10.29px;line-height:10.29px">2.72727</div>
<div class="t tc db" style="left:168.80px;top:729.72px;width:14.60px;height:10.29px;line-height:10.29px">57.273</div>
<div class="t tc d" style="left:183.40px;top:729.72px;width:15.80px;height:10.29px;line-height:10.29px">20</div>
<div class="t tc d" style="left:199.20px;top:729.72px;width:16.30px;height:10.29px;line-height:10.29px">1</div>
<div class="t tc db" style="left:215.50px;top:729.72px;width:15.80px;height:10.29px;line-height:10.29px">19</div>
<div class="t tc db" style="left:417.20px;top:729.72px;width:19.10px;height:10.29px;line-height:10.29px">0</div>
<div class="t tc db" style="left:436.30px;top:729.72px;width:37.40px;height:10.29px;line-height:10.29px">76.2727272727273</div>
<div class="t tr d dn" style="left:473.70px;top:729.72px;width:34.70px;height:10.29px;line-height:10.29px">11,031,990</div>
<div class="t tr db" style="left:509.70px;top:729.72px;width:32.70px;height:10.29px;line-height:10.29px">128,588</div>
<div class="t tr db" style="left:570.50px;top:729.72px;width:32.90px;height:10.29px;line-height:10.29px">128,588</div>
<div class="t tc d" style="left:605.00px;top:729.72px;width:89.50px;height:10.29px;line-height:10.29px">48</div>
<div class="t tc d" style="left:33.00px;top:740.01px;width:7.30px;height:10.29px;line-height:10.29px">49</div>
<div class="t tl d nm" style="left:40.70px;top:740.01px;width:63.50px;height:10.29px;line-height:10.29px">Yeriani, A.Md.Keb</div>
<div class="t tc d" style="left:104.20px;top:740.01px;width:13.20px;height:10.29px;line-height:10.29px">60</div>
<div class="t tc d" style="left:117.40px;top:740.01px;width:13.20px;height:10.29px;line-height:10.29px">0</div>
<div class="t tr d" style="left:130.60px;top:740.01px;width:21.60px;height:10.29px;line-height:10.29px">2.73</div>
<div class="t tc d ov" style="left:153.80px;top:740.01px;width:15.00px;height:10.29px;line-height:10.29px">0</div>
<div class="t tc db" style="left:168.80px;top:740.01px;width:14.60px;height:10.29px;line-height:10.29px">60</div>
<div class="t tc d" style="left:183.40px;top:740.01px;width:15.80px;height:10.29px;line-height:10.29px">20</div>
<div class="t tc d" style="left:199.20px;top:740.01px;width:16.30px;height:10.29px;line-height:10.29px">0</div>
<div class="t tc db" style="left:215.50px;top:740.01px;width:15.80px;height:10.29px;line-height:10.29px">20</div>
<div class="t tc db" style="left:417.20px;top:740.01px;width:19.10px;height:10.29px;line-height:10.29px">0</div>
<div class="t tc db" style="left:436.30px;top:740.01px;width:37.40px;height:10.29px;line-height:10.29px">80</div>
<div class="t tr d dn" style="left:473.70px;top:740.01px;width:34.70px;height:10.29px;line-height:10.29px">11,031,990</div>
<div class="t tr db" style="left:509.70px;top:740.01px;width:32.70px;height:10.29px;line-height:10.29px">134,872</div>
<div class="t tr db" style="left:570.50px;top:740.01px;width:32.90px;height:10.29px;line-height:10.29px">134,872</div>
<div class="t tl d" style="left:605.80px;top:740.01px;width:88.70px;height:10.29px;line-height:10.29px">49</div>
<div class="t tc d" style="left:33.00px;top:750.30px;width:7.30px;height:10.29px;line-height:10.29px">50</div>
<div class="t tl d nm" style="left:40.70px;top:750.30px;width:63.50px;height:10.29px;line-height:10.29px">Kristia Dewi Wulandari, A.Md</div>
<div class="t tc d" style="left:104.20px;top:750.30px;width:13.20px;height:10.29px;line-height:10.29px">60</div>
<div class="t tc d" style="left:117.40px;top:750.30px;width:13.20px;height:10.29px;line-height:10.29px">0</div>
<div class="t tr d" style="left:130.60px;top:750.30px;width:21.60px;height:10.29px;line-height:10.29px">2.73</div>
<div class="t tc d ov" style="left:153.80px;top:750.30px;width:15.00px;height:10.29px;line-height:10.29px">0</div>
<div class="t tc db" style="left:168.80px;top:750.30px;width:14.60px;height:10.29px;line-height:10.29px">60</div>
<div class="t tc d" style="left:183.40px;top:750.30px;width:15.80px;height:10.29px;line-height:10.29px">20</div>
<div class="t tc d" style="left:199.20px;top:750.30px;width:16.30px;height:10.29px;line-height:10.29px">0</div>
<div class="t tc db" style="left:215.50px;top:750.30px;width:15.80px;height:10.29px;line-height:10.29px">20</div>
<div class="t tc db" style="left:417.20px;top:750.30px;width:19.10px;height:10.29px;line-height:10.29px">0</div>
<div class="t tc db" style="left:436.30px;top:750.30px;width:37.40px;height:10.29px;line-height:10.29px">80</div>
<div class="t tr d dn" style="left:473.70px;top:750.30px;width:34.70px;height:10.29px;line-height:10.29px">11,031,990</div>
<div class="t tr db" style="left:509.70px;top:750.30px;width:32.70px;height:10.29px;line-height:10.29px">134,872</div>
<div class="t tr db" style="left:570.50px;top:750.30px;width:32.90px;height:10.29px;line-height:10.29px">134,872</div>
<div class="t tc d" style="left:605.00px;top:750.30px;width:89.50px;height:10.29px;line-height:10.29px">50</div>
<div class="t tc d" style="left:33.00px;top:760.59px;width:7.30px;height:10.29px;line-height:10.29px">51</div>
<div class="t tl d nm" style="left:40.70px;top:760.59px;width:63.50px;height:10.29px;line-height:10.29px">Winda Kushmawati, A.Md.Kep</div>
<div class="t tc d" style="left:104.20px;top:760.59px;width:13.20px;height:10.29px;line-height:10.29px">60</div>
<div class="t tc d" style="left:117.40px;top:760.59px;width:13.20px;height:10.29px;line-height:10.29px">0</div>
<div class="t tr d" style="left:130.60px;top:760.59px;width:21.60px;height:10.29px;line-height:10.29px">2.73</div>
<div class="t tc d ov" style="left:153.80px;top:760.59px;width:15.00px;height:10.29px;line-height:10.29px">0</div>
<div class="t tc db" style="left:168.80px;top:760.59px;width:14.60px;height:10.29px;line-height:10.29px">60</div>
<div class="t tc d" style="left:183.40px;top:760.59px;width:15.80px;height:10.29px;line-height:10.29px">20</div>
<div class="t tc d" style="left:199.20px;top:760.59px;width:16.30px;height:10.29px;line-height:10.29px">0</div>
<div class="t tc db" style="left:215.50px;top:760.59px;width:15.80px;height:10.29px;line-height:10.29px">20</div>
<div class="t tc db" style="left:417.20px;top:760.59px;width:19.10px;height:10.29px;line-height:10.29px">0</div>
<div class="t tc db" style="left:436.30px;top:760.59px;width:37.40px;height:10.29px;line-height:10.29px">80</div>
<div class="t tr d dn" style="left:473.70px;top:760.59px;width:34.70px;height:10.29px;line-height:10.29px">11,031,990</div>
<div class="t tr db" style="left:509.70px;top:760.59px;width:32.70px;height:10.29px;line-height:10.29px">134,872</div>
<div class="t tr db" style="left:570.50px;top:760.59px;width:32.90px;height:10.29px;line-height:10.29px">134,872</div>
<div class="t tl d" style="left:605.80px;top:760.59px;width:88.70px;height:10.29px;line-height:10.29px">51</div>
<div class="t tc d" style="left:33.00px;top:770.88px;width:7.30px;height:10.29px;line-height:10.29px">52</div>
<div class="t tl d nm" style="left:40.70px;top:770.88px;width:63.50px;height:10.29px;line-height:10.29px">Ardelia Pratiwi, S.Kep.Ners</div>
<div class="t tc d" style="left:104.20px;top:770.88px;width:13.20px;height:10.29px;line-height:10.29px">60</div>
<div class="t tc d" style="left:117.40px;top:770.88px;width:13.20px;height:10.29px;line-height:10.29px">0</div>
<div class="t tr d" style="left:130.60px;top:770.88px;width:21.60px;height:10.29px;line-height:10.29px">2.73</div>
<div class="t tc d ov" style="left:153.80px;top:770.88px;width:15.00px;height:10.29px;line-height:10.29px">0</div>
<div class="t tc db" style="left:168.80px;top:770.88px;width:14.60px;height:10.29px;line-height:10.29px">60</div>
<div class="t tc d" style="left:183.40px;top:770.88px;width:15.80px;height:10.29px;line-height:10.29px">20</div>
<div class="t tc d" style="left:199.20px;top:770.88px;width:16.30px;height:10.29px;line-height:10.29px">0</div>
<div class="t tc db" style="left:215.50px;top:770.88px;width:15.80px;height:10.29px;line-height:10.29px">20</div>
<div class="t tc db" style="left:417.20px;top:770.88px;width:19.10px;height:10.29px;line-height:10.29px">0</div>
<div class="t tc db" style="left:436.30px;top:770.88px;width:37.40px;height:10.29px;line-height:10.29px">80</div>
<div class="t tr d dn" style="left:473.70px;top:770.88px;width:34.70px;height:10.29px;line-height:10.29px">11,031,990</div>
<div class="t tr db" style="left:509.70px;top:770.88px;width:32.70px;height:10.29px;line-height:10.29px">134,872</div>
<div class="t tr db" style="left:570.50px;top:770.88px;width:32.90px;height:10.29px;line-height:10.29px">134,872</div>
<div class="t tc d" style="left:605.00px;top:770.88px;width:89.50px;height:10.29px;line-height:10.29px">52</div>
<div class="t tc d" style="left:33.00px;top:781.17px;width:7.30px;height:10.29px;line-height:10.29px">53</div>
<div class="t tl d nm" style="left:40.70px;top:781.17px;width:63.50px;height:10.29px;line-height:10.29px">Tanggih Rahardjo, S.Kep.Ners</div>
<div class="t tc d" style="left:104.20px;top:781.17px;width:13.20px;height:10.29px;line-height:10.29px">60</div>
<div class="t tc d" style="left:117.40px;top:781.17px;width:13.20px;height:10.29px;line-height:10.29px">0</div>
<div class="t tr d" style="left:130.60px;top:781.17px;width:21.60px;height:10.29px;line-height:10.29px">2.73</div>
<div class="t tc d ov" style="left:153.80px;top:781.17px;width:15.00px;height:10.29px;line-height:10.29px">0</div>
<div class="t tc db" style="left:168.80px;top:781.17px;width:14.60px;height:10.29px;line-height:10.29px">60</div>
<div class="t tc d" style="left:183.40px;top:781.17px;width:15.80px;height:10.29px;line-height:10.29px">20</div>
<div class="t tc d" style="left:199.20px;top:781.17px;width:16.30px;height:10.29px;line-height:10.29px">0</div>
<div class="t tc db" style="left:215.50px;top:781.17px;width:15.80px;height:10.29px;line-height:10.29px">20</div>
<div class="t tc db" style="left:417.20px;top:781.17px;width:19.10px;height:10.29px;line-height:10.29px">0</div>
<div class="t tc db" style="left:436.30px;top:781.17px;width:37.40px;height:10.29px;line-height:10.29px">80</div>
<div class="t tr d dn" style="left:473.70px;top:781.17px;width:34.70px;height:10.29px;line-height:10.29px">11,031,990</div>
<div class="t tr db" style="left:509.70px;top:781.17px;width:32.70px;height:10.29px;line-height:10.29px">134,872</div>
<div class="t tr db" style="left:570.50px;top:781.17px;width:32.90px;height:10.29px;line-height:10.29px">134,872</div>
<div class="t tl d" style="left:605.80px;top:781.17px;width:88.70px;height:10.29px;line-height:10.29px">53</div>
<div class="t tc d" style="left:33.00px;top:791.46px;width:7.30px;height:10.29px;line-height:10.29px">54</div>
<div class="t tl d nm" style="left:40.70px;top:791.46px;width:63.50px;height:10.29px;line-height:10.29px">Ayu Sri Wahyuni,A.Md.Gz</div>
<div class="t tc d" style="left:104.20px;top:791.46px;width:13.20px;height:10.29px;line-height:10.29px">60</div>
<div class="t tc d" style="left:117.40px;top:791.46px;width:13.20px;height:10.29px;line-height:10.29px">1</div>
<div class="t tr d" style="left:130.60px;top:791.46px;width:21.60px;height:10.29px;line-height:10.29px">2.73</div>
<div class="t tc d ov" style="left:153.80px;top:791.46px;width:15.00px;height:10.29px;line-height:10.29px">2.72727</div>
<div class="t tc db" style="left:168.80px;top:791.46px;width:14.60px;height:10.29px;line-height:10.29px">57.273</div>
<div class="t tc d" style="left:183.40px;top:791.46px;width:15.80px;height:10.29px;line-height:10.29px">20</div>
<div class="t tc d" style="left:199.20px;top:791.46px;width:16.30px;height:10.29px;line-height:10.29px">1</div>
<div class="t tc db" style="left:215.50px;top:791.46px;width:15.80px;height:10.29px;line-height:10.29px">19</div>
<div class="t tc db" style="left:417.20px;top:791.46px;width:19.10px;height:10.29px;line-height:10.29px">0</div>
<div class="t tc db" style="left:436.30px;top:791.46px;width:37.40px;height:10.29px;line-height:10.29px">76.2727272727273</div>
<div class="t tr d dn" style="left:473.70px;top:791.46px;width:34.70px;height:10.29px;line-height:10.29px">11,031,990</div>
<div class="t tr db" style="left:509.70px;top:791.46px;width:32.70px;height:10.29px;line-height:10.29px">128,588</div>
<div class="t tr db" style="left:570.50px;top:791.46px;width:32.90px;height:10.29px;line-height:10.29px">128,588</div>
<div class="t tc d" style="left:605.00px;top:791.46px;width:89.50px;height:10.29px;line-height:10.29px">54</div>
<div class="t tc d" style="left:33.00px;top:801.75px;width:7.30px;height:10.29px;line-height:10.29px">55</div>
<div class="t tl d nm" style="left:40.70px;top:801.75px;width:63.50px;height:10.29px;line-height:10.29px">Sulfiansyah, A.Md.Kg</div>
<div class="t tc d" style="left:104.20px;top:801.75px;width:13.20px;height:10.29px;line-height:10.29px">60</div>
<div class="t tc d" style="left:117.40px;top:801.75px;width:13.20px;height:10.29px;line-height:10.29px">0</div>
<div class="t tr d" style="left:130.60px;top:801.75px;width:21.60px;height:10.29px;line-height:10.29px">2.73</div>
<div class="t tc d ov" style="left:153.80px;top:801.75px;width:15.00px;height:10.29px;line-height:10.29px">0</div>
<div class="t tc db" style="left:168.80px;top:801.75px;width:14.60px;height:10.29px;line-height:10.29px">60</div>
<div class="t tc d" style="left:183.40px;top:801.75px;width:15.80px;height:10.29px;line-height:10.29px">20</div>
<div class="t tc d" style="left:199.20px;top:801.75px;width:16.30px;height:10.29px;line-height:10.29px">0</div>
<div class="t tc db" style="left:215.50px;top:801.75px;width:15.80px;height:10.29px;line-height:10.29px">20</div>
<div class="t tc db" style="left:417.20px;top:801.75px;width:19.10px;height:10.29px;line-height:10.29px">0</div>
<div class="t tc db" style="left:436.30px;top:801.75px;width:37.40px;height:10.29px;line-height:10.29px">80</div>
<div class="t tr d dn" style="left:473.70px;top:801.75px;width:34.70px;height:10.29px;line-height:10.29px">11,031,990</div>
<div class="t tr db" style="left:509.70px;top:801.75px;width:32.70px;height:10.29px;line-height:10.29px">134,872</div>
<div class="t tr db" style="left:570.50px;top:801.75px;width:32.90px;height:10.29px;line-height:10.29px">134,872</div>
<div class="t tl d" style="left:605.80px;top:801.75px;width:88.70px;height:10.29px;line-height:10.29px">55</div>
<div class="t tc d" style="left:33.00px;top:812.04px;width:7.30px;height:10.29px;line-height:10.29px">56</div>
<div class="t tl d nm" style="left:40.70px;top:812.04px;width:63.50px;height:10.29px;line-height:10.29px">Dwinda Khalisha, A.Md.Gz</div>
<div class="t tc d" style="left:104.20px;top:812.04px;width:13.20px;height:10.29px;line-height:10.29px">60</div>
<div class="t tc d" style="left:117.40px;top:812.04px;width:13.20px;height:10.29px;line-height:10.29px">0</div>
<div class="t tr d" style="left:130.60px;top:812.04px;width:21.60px;height:10.29px;line-height:10.29px">2.73</div>
<div class="t tc d ov" style="left:153.80px;top:812.04px;width:15.00px;height:10.29px;line-height:10.29px">0</div>
<div class="t tc db" style="left:168.80px;top:812.04px;width:14.60px;height:10.29px;line-height:10.29px">60</div>
<div class="t tc d" style="left:183.40px;top:812.04px;width:15.80px;height:10.29px;line-height:10.29px">20</div>
<div class="t tc d" style="left:199.20px;top:812.04px;width:16.30px;height:10.29px;line-height:10.29px">0</div>
<div class="t tc db" style="left:215.50px;top:812.04px;width:15.80px;height:10.29px;line-height:10.29px">20</div>
<div class="t tc db" style="left:417.20px;top:812.04px;width:19.10px;height:10.29px;line-height:10.29px">0</div>
<div class="t tc db" style="left:436.30px;top:812.04px;width:37.40px;height:10.29px;line-height:10.29px">80</div>
<div class="t tr d dn" style="left:473.70px;top:812.04px;width:34.70px;height:10.29px;line-height:10.29px">11,031,990</div>
<div class="t tr db" style="left:509.70px;top:812.04px;width:32.70px;height:10.29px;line-height:10.29px">134,872</div>
<div class="t tr db" style="left:570.50px;top:812.04px;width:32.90px;height:10.29px;line-height:10.29px">134,872</div>
<div class="t tc d" style="left:605.00px;top:812.04px;width:89.50px;height:10.29px;line-height:10.29px">56</div>
<div class="t tc d" style="left:33.00px;top:822.33px;width:7.30px;height:10.29px;line-height:10.29px">57</div>
<div class="t tl d nm" style="left:40.70px;top:822.33px;width:63.50px;height:10.29px;line-height:10.29px">Moch Reza, A.Md.Kep</div>
<div class="t tc d" style="left:104.20px;top:822.33px;width:13.20px;height:10.29px;line-height:10.29px">60</div>
<div class="t tc d" style="left:117.40px;top:822.33px;width:13.20px;height:10.29px;line-height:10.29px">0</div>
<div class="t tr d" style="left:130.60px;top:822.33px;width:21.60px;height:10.29px;line-height:10.29px">2.73</div>
<div class="t tc d ov" style="left:153.80px;top:822.33px;width:15.00px;height:10.29px;line-height:10.29px">0</div>
<div class="t tc db" style="left:168.80px;top:822.33px;width:14.60px;height:10.29px;line-height:10.29px">60</div>
<div class="t tc d" style="left:183.40px;top:822.33px;width:15.80px;height:10.29px;line-height:10.29px">20</div>
<div class="t tc d" style="left:199.20px;top:822.33px;width:16.30px;height:10.29px;line-height:10.29px">0</div>
<div class="t tc db" style="left:215.50px;top:822.33px;width:15.80px;height:10.29px;line-height:10.29px">20</div>
<div class="t tc db" style="left:417.20px;top:822.33px;width:19.10px;height:10.29px;line-height:10.29px">0</div>
<div class="t tc db" style="left:436.30px;top:822.33px;width:37.40px;height:10.29px;line-height:10.29px">80</div>
<div class="t tr d dn" style="left:473.70px;top:822.33px;width:34.70px;height:10.29px;line-height:10.29px">11,031,990</div>
<div class="t tr db" style="left:509.70px;top:822.33px;width:32.70px;height:10.29px;line-height:10.29px">134,872</div>
<div class="t tr db" style="left:570.50px;top:822.33px;width:32.90px;height:10.29px;line-height:10.29px">134,872</div>
<div class="t tl d" style="left:605.80px;top:822.33px;width:88.70px;height:10.29px;line-height:10.29px">57</div>
<div class="t tc d" style="left:33.00px;top:832.62px;width:7.30px;height:10.29px;line-height:10.29px">58</div>
<div class="t tl d nm" style="left:40.70px;top:832.62px;width:63.50px;height:10.29px;line-height:10.29px">Sholiatah,S.Kep. Ners</div>
<div class="t tc d" style="left:104.20px;top:832.62px;width:13.20px;height:10.29px;line-height:10.29px">60</div>
<div class="t tc d" style="left:117.40px;top:832.62px;width:13.20px;height:10.29px;line-height:10.29px">2</div>
<div class="t tr d" style="left:130.60px;top:832.62px;width:21.60px;height:10.29px;line-height:10.29px">2.73</div>
<div class="t tc d ov" style="left:153.80px;top:832.62px;width:15.00px;height:10.29px;line-height:10.29px">5.45455</div>
<div class="t tc db" style="left:168.80px;top:832.62px;width:14.60px;height:10.29px;line-height:10.29px">54.545</div>
<div class="t tc d" style="left:183.40px;top:832.62px;width:15.80px;height:10.29px;line-height:10.29px">20</div>
<div class="t tc d" style="left:199.20px;top:832.62px;width:16.30px;height:10.29px;line-height:10.29px">2</div>
<div class="t tc db" style="left:215.50px;top:832.62px;width:15.80px;height:10.29px;line-height:10.29px">18</div>
<div class="t tc db" style="left:417.20px;top:832.62px;width:19.10px;height:10.29px;line-height:10.29px">0</div>
<div class="t tc db" style="left:436.30px;top:832.62px;width:37.40px;height:10.29px;line-height:10.29px">72.5454545454545</div>
<div class="t tr d dn" style="left:473.70px;top:832.62px;width:34.70px;height:10.29px;line-height:10.29px">11,031,990</div>
<div class="t tr db" style="left:509.70px;top:832.62px;width:32.70px;height:10.29px;line-height:10.29px">122,304</div>
<div class="t tr db" style="left:570.50px;top:832.62px;width:32.90px;height:10.29px;line-height:10.29px">122,304</div>
<div class="t tc d" style="left:605.00px;top:832.62px;width:89.50px;height:10.29px;line-height:10.29px">58</div>
<div class="t tc d" style="left:33.00px;top:842.91px;width:7.30px;height:10.29px;line-height:10.29px">59</div>
<div class="t tl d nm" style="left:40.70px;top:842.91px;width:63.50px;height:10.29px;line-height:10.29px">Syska Aryati, S.Kep. Ners</div>
<div class="t tc d" style="left:104.20px;top:842.91px;width:13.20px;height:10.29px;line-height:10.29px">60</div>
<div class="t tc d" style="left:117.40px;top:842.91px;width:13.20px;height:10.29px;line-height:10.29px">0</div>
<div class="t tr d" style="left:130.60px;top:842.91px;width:21.60px;height:10.29px;line-height:10.29px">2.73</div>
<div class="t tc d ov" style="left:153.80px;top:842.91px;width:15.00px;height:10.29px;line-height:10.29px">0</div>
<div class="t tc db" style="left:168.80px;top:842.91px;width:14.60px;height:10.29px;line-height:10.29px">60</div>
<div class="t tc d" style="left:183.40px;top:842.91px;width:15.80px;height:10.29px;line-height:10.29px">20</div>
<div class="t tc d" style="left:199.20px;top:842.91px;width:16.30px;height:10.29px;line-height:10.29px">0</div>
<div class="t tc db" style="left:215.50px;top:842.91px;width:15.80px;height:10.29px;line-height:10.29px">20</div>
<div class="t tc db" style="left:417.20px;top:842.91px;width:19.10px;height:10.29px;line-height:10.29px">0</div>
<div class="t tc db" style="left:436.30px;top:842.91px;width:37.40px;height:10.29px;line-height:10.29px">80</div>
<div class="t tr d dn" style="left:473.70px;top:842.91px;width:34.70px;height:10.29px;line-height:10.29px">11,031,990</div>
<div class="t tr db" style="left:509.70px;top:842.91px;width:32.70px;height:10.29px;line-height:10.29px">134,872</div>
<div class="t tr db" style="left:570.50px;top:842.91px;width:32.90px;height:10.29px;line-height:10.29px">134,872</div>
<div class="t tl d" style="left:605.80px;top:842.91px;width:88.70px;height:10.29px;line-height:10.29px">59</div>
<div class="t tc d" style="left:33.00px;top:853.20px;width:7.30px;height:10.29px;line-height:10.29px">60</div>
<div class="t tl d nm" style="left:40.70px;top:853.20px;width:63.50px;height:10.29px;line-height:10.29px">Erna Fauziana, A.Md.Keb</div>
<div class="t tc d" style="left:104.20px;top:853.20px;width:13.20px;height:10.29px;line-height:10.29px">60</div>
<div class="t tc d" style="left:117.40px;top:853.20px;width:13.20px;height:10.29px;line-height:10.29px">1</div>
<div class="t tr d" style="left:130.60px;top:853.20px;width:21.60px;height:10.29px;line-height:10.29px">2.73</div>
<div class="t tc d ov" style="left:153.80px;top:853.20px;width:15.00px;height:10.29px;line-height:10.29px">2.72727</div>
<div class="t tc db" style="left:168.80px;top:853.20px;width:14.60px;height:10.29px;line-height:10.29px">57.273</div>
<div class="t tc d" style="left:183.40px;top:853.20px;width:15.80px;height:10.29px;line-height:10.29px">20</div>
<div class="t tc d" style="left:199.20px;top:853.20px;width:16.30px;height:10.29px;line-height:10.29px">1</div>
<div class="t tc db" style="left:215.50px;top:853.20px;width:15.80px;height:10.29px;line-height:10.29px">19</div>
<div class="t tc db" style="left:417.20px;top:853.20px;width:19.10px;height:10.29px;line-height:10.29px">0</div>
<div class="t tc db" style="left:436.30px;top:853.20px;width:37.40px;height:10.29px;line-height:10.29px">76.2727272727273</div>
<div class="t tr d dn" style="left:473.70px;top:853.20px;width:34.70px;height:10.29px;line-height:10.29px">11,031,990</div>
<div class="t tr db" style="left:509.70px;top:853.20px;width:32.70px;height:10.29px;line-height:10.29px">128,588</div>
<div class="t tr db" style="left:570.50px;top:853.20px;width:32.90px;height:10.29px;line-height:10.29px">128,588</div>
<div class="t tc d" style="left:605.00px;top:853.20px;width:89.50px;height:10.29px;line-height:10.29px">60</div>
<div class="t tc ttl" style="left:219.50px;top:953.90px;width:286.00px;height:6.00px;line-height:6.00px">ALOKASI DANA KAPITASI JASA PELAYANAN KESEHATAN (DASAR PERATURAN BUPATI MEMPAWAH NOMOR 80 TAHUN 2016)</div>
<div class="t tl lbl" style="left:32.60px;top:961.30px;width:67.40px;height:6.00px;line-height:6.00px">PUSKESMAS</div>
<div class="t tl lbl" style="left:32.60px;top:968.10px;width:67.40px;height:6.00px;line-height:6.00px">BULAN</div>
<div class="t tl lbl" style="left:104.80px;top:961.30px;width:3.20px;height:6.00px;line-height:6.00px">:</div>
<div class="t tl lbl" style="left:104.80px;top:968.10px;width:3.20px;height:6.00px;line-height:6.00px">:</div>
<div class="t tl lbl lv" style="left:117.20px;top:961.30px;width:82.80px;height:6.00px;line-height:6.00px">Rawat Inap Sungai Pinyuh</div>
<div class="t tl lbl lv" style="left:117.20px;top:968.10px;width:82.80px;height:6.00px;line-height:6.00px">Des-19</div>
<div class="t tr d dn gb" style="left:473.70px;top:967.90px;width:34.50px;height:7.00px;line-height:7.00px">11,031,990</div>
<div class="t tc hb" style="left:30.00px;top:987.90px;width:13.30px;height:6.00px;line-height:6.00px">NO</div>
<div class="t tc hb" style="left:40.30px;top:988.00px;width:63.90px;height:6.00px;line-height:6.00px">NAMA</div>
<div class="t tc hb" style="left:104.20px;top:980.20px;width:79.20px;height:6.00px;line-height:6.00px">POINT</div>
<div class="t tc hb" style="left:183.40px;top:980.20px;width:47.90px;height:6.00px;line-height:6.00px">POINT</div>
<div class="t tc hb" style="left:231.30px;top:980.20px;width:185.90px;height:6.00px;line-height:6.00px">POINT</div>
<div class="t tc h" style="left:104.20px;top:991.10px;width:13.20px;height:6.00px;line-height:6.00px">PEND</div>
<div class="t tc h" style="left:117.40px;top:986.00px;width:13.20px;height:6.00px;line-height:6.00px">1 Hari</div>
<div class="t tc hs" style="left:117.40px;top:989.50px;width:13.20px;height:6.00px;line-height:6.00px">tdk</div>
<div class="t tc h" style="left:117.40px;top:994.30px;width:13.20px;height:6.00px;line-height:6.00px">Hadir</div>
<div class="t tc h" style="left:130.60px;top:986.00px;width:23.20px;height:6.00px;line-height:6.00px">Per Hari</div>
<div class="t tc h" style="left:130.60px;top:991.80px;width:23.20px;height:6.00px;line-height:6.00px">Tenaga</div>
<div class="t tc hs" style="left:153.80px;top:986.00px;width:15.00px;height:6.00px;line-height:6.00px">item</div>
<div class="t tc h" style="left:153.80px;top:995.10px;width:15.00px;height:6.00px;line-height:6.00px">(4x5)</div>
<div class="t tc hb" style="left:168.80px;top:991.10px;width:14.60px;height:6.00px;line-height:6.00px">(3 - 6)</div>
<div class="t tc h" style="left:183.40px;top:986.00px;width:15.80px;height:6.00px;line-height:6.00px">2 Hari</div>
<div class="t tc hs" style="left:183.40px;top:989.50px;width:15.80px;height:6.00px;line-height:6.00px">Kerja</div>
<div class="t tc h" style="left:183.40px;top:994.30px;width:15.80px;height:6.00px;line-height:6.00px">Efektiv</div>
<div class="t tc h" style="left:199.20px;top:986.00px;width:16.30px;height:6.00px;line-height:6.00px">2 Hari</div>
<div class="t tc hs" style="left:199.20px;top:989.50px;width:16.30px;height:6.00px;line-height:6.00px">tdk</div>
<div class="t tc h" style="left:199.20px;top:994.30px;width:16.30px;height:6.00px;line-height:6.00px">Hadir</div>
<div class="t tc hb" style="left:215.50px;top:987.70px;width:15.80px;height:6.00px;line-height:6.00px">(8-9)</div>
<div class="t tc hb" style="left:231.30px;top:986.10px;width:108.40px;height:6.00px;line-height:6.00px">Jabatan Administratif</div>
<div class="t tc hb" style="left:339.70px;top:986.10px;width:77.50px;height:6.00px;line-height:6.00px">Masa Kerja</div>
<div class="t tc h" style="left:231.30px;top:992.40px;width:19.70px;height:6.00px;line-height:6.00px">Ka. Pusk</div>
<div class="t tc h" style="left:231.30px;top:998.50px;width:19.70px;height:6.00px;line-height:6.00px">100</div>
<div class="t tc h" style="left:251.00px;top:992.40px;width:32.70px;height:6.00px;line-height:6.00px">Bend Kapitasi</div>
<div class="t tc h" style="left:251.00px;top:998.50px;width:32.70px;height:6.00px;line-height:6.00px">50</div>
<div class="t tc h" style="left:283.70px;top:992.40px;width:56.00px;height:6.00px;line-height:6.00px">Ka TU(P) Keuangan Pusk</div>
<div class="t tc h" style="left:283.70px;top:998.50px;width:56.00px;height:6.00px;line-height:6.00px">30</div>
<div class="t tc h" style="left:339.70px;top:992.40px;width:15.60px;height:6.00px;line-height:6.00px">&gt;25</div>
<div class="t tc h" style="left:339.70px;top:998.50px;width:15.60px;height:6.00px;line-height:6.00px">25</div>
<div class="t tc h" style="left:355.30px;top:992.40px;width:15.90px;height:6.00px;line-height:6.00px">21-25</div>
<div class="t tc h" style="left:355.30px;top:998.50px;width:15.90px;height:6.00px;line-height:6.00px">20</div>
<div class="t tc h" style="left:371.20px;top:992.40px;width:15.50px;height:6.00px;line-height:6.00px">16-20</div>
<div class="t tc h" style="left:371.20px;top:998.50px;width:15.50px;height:6.00px;line-height:6.00px">15</div>
<div class="t tc h" style="left:386.70px;top:992.40px;width:15.30px;height:6.00px;line-height:6.00px">11-15</div>
<div class="t tc h" style="left:386.70px;top:998.50px;width:15.30px;height:6.00px;line-height:6.00px">10</div>
<div class="t tc h" style="left:402.00px;top:992.40px;width:15.20px;height:6.00px;line-height:6.00px">5-10</div>
<div class="t tc h" style="left:402.00px;top:998.50px;width:15.20px;height:6.00px;line-height:6.00px">5</div>
<div class="t tc hb" style="left:417.20px;top:979.50px;width:19.10px;height:6.00px;line-height:6.00px">Σ</div>
<div class="t tc hb" style="left:417.20px;top:989.20px;width:19.10px;height:6.00px;line-height:6.00px">(11 s/d</div>
<div class="t tc hb" style="left:417.20px;top:994.20px;width:19.10px;height:6.00px;line-height:6.00px">40)</div>
<div class="t tc hb" style="left:436.30px;top:979.90px;width:107.50px;height:6.00px;line-height:6.00px">TOTAL</div>
<div class="t tc hb" style="left:436.30px;top:985.80px;width:37.40px;height:6.00px;line-height:6.00px">POINT</div>
<div class="t tc hb" style="left:436.30px;top:995.00px;width:37.40px;height:6.00px;line-height:6.00px">(7+10+41)</div>
<div class="t tc hb" style="left:473.70px;top:985.80px;width:36.00px;height:6.00px;line-height:6.00px">70 % JASA</div>
<div class="t tc hb" style="left:473.70px;top:995.00px;width:36.00px;height:6.00px;line-height:6.00px">PELAYANAN</div>
<div class="t tc hb" style="left:509.70px;top:985.80px;width:34.10px;height:6.00px;line-height:6.00px">JASPELKES</div>
<div class="t tc hb" style="left:509.70px;top:995.00px;width:34.10px;height:6.00px;line-height:6.00px">DITERIMA</div>
<div class="t tc hb" style="left:543.80px;top:989.20px;width:26.70px;height:6.00px;line-height:6.00px">PAJAK</div>
<div class="t tc hb" style="left:570.50px;top:985.80px;width:34.50px;height:6.00px;line-height:6.00px">TOTAL JASA</div>
<div class="t tc hb" style="left:570.50px;top:990.80px;width:34.50px;height:6.00px;line-height:6.00px">YANG DITERIMA</div>
<div class="t tc hr" style="left:605.00px;top:979.80px;width:89.50px;height:6.00px;line-height:6.00px">TANDA</div>
<div class="t tc hr" style="left:605.00px;top:991.70px;width:89.50px;height:6.00px;line-height:6.00px">TANGAN</div>
<div class="t tc d" style="left:33.00px;top:1004.40px;width:7.30px;height:6.00px;line-height:6.00px">1</div>
<div class="t tc d" style="left:40.30px;top:1004.40px;width:63.90px;height:6.00px;line-height:6.00px">2</div>
<div class="t tc d" style="left:104.20px;top:1004.40px;width:13.20px;height:6.00px;line-height:6.00px">3</div>
<div class="t tc d" style="left:117.40px;top:1004.40px;width:13.20px;height:6.00px;line-height:6.00px">4</div>
<div class="t tc d" style="left:130.60px;top:1004.40px;width:23.20px;height:6.00px;line-height:6.00px">5</div>
<div class="t tc d" style="left:153.80px;top:1004.40px;width:15.00px;height:6.00px;line-height:6.00px">6</div>
<div class="t tc d" style="left:168.80px;top:1004.40px;width:14.60px;height:6.00px;line-height:6.00px">7</div>
<div class="t tc d" style="left:183.40px;top:1004.40px;width:15.80px;height:6.00px;line-height:6.00px">8</div>
<div class="t tc d" style="left:199.20px;top:1004.40px;width:16.30px;height:6.00px;line-height:6.00px">9</div>
<div class="t tc d" style="left:215.50px;top:1004.40px;width:15.80px;height:6.00px;line-height:6.00px">10</div>
<div class="t tc d" style="left:231.30px;top:1004.40px;width:19.70px;height:6.00px;line-height:6.00px">11</div>
<div class="t tc d" style="left:251.00px;top:1004.40px;width:32.70px;height:6.00px;line-height:6.00px">12</div>
<div class="t tc d" style="left:283.70px;top:1004.40px;width:56.00px;height:6.00px;line-height:6.00px">13</div>
<div class="t tc d" style="left:417.20px;top:1004.40px;width:19.10px;height:6.00px;line-height:6.00px">41</div>
<div class="t tc d" style="left:436.30px;top:1004.40px;width:37.40px;height:6.00px;line-height:6.00px">42</div>
<div class="t tc d" style="left:473.70px;top:1004.40px;width:36.00px;height:6.00px;line-height:6.00px">43</div>
<div class="t tc d" style="left:509.70px;top:1004.40px;width:34.10px;height:6.00px;line-height:6.00px">44</div>
<div class="t tc d" style="left:605.00px;top:1004.40px;width:89.50px;height:6.00px;line-height:6.00px">45</div>
<div class="t tc d" style="left:33.00px;top:1010.50px;width:7.30px;height:10.29px;line-height:10.29px">61</div>
<div class="t tl d nm" style="left:40.70px;top:1010.50px;width:63.50px;height:10.29px;line-height:10.29px">Ima Apetika, S.Farm</div>
<div class="t tc d" style="left:104.20px;top:1010.50px;width:13.20px;height:10.29px;line-height:10.29px">60</div>
<div class="t tc d" style="left:117.40px;top:1010.50px;width:13.20px;height:10.29px;line-height:10.29px">0</div>
<div class="t tr d" style="left:130.60px;top:1010.50px;width:21.60px;height:10.29px;line-height:10.29px">2.73</div>
<div class="t tc d ov" style="left:153.80px;top:1010.50px;width:15.00px;height:10.29px;line-height:10.29px">0</div>
<div class="t tc db" style="left:168.80px;top:1010.50px;width:14.60px;height:10.29px;line-height:10.29px">60</div>
<div class="t tc d" style="left:183.40px;top:1010.50px;width:15.80px;height:10.29px;line-height:10.29px">20</div>
<div class="t tc d" style="left:199.20px;top:1010.50px;width:16.30px;height:10.29px;line-height:10.29px">0</div>
<div class="t tc db" style="left:215.50px;top:1010.50px;width:15.80px;height:10.29px;line-height:10.29px">20</div>
<div class="t tc db" style="left:417.20px;top:1010.50px;width:19.10px;height:10.29px;line-height:10.29px">0</div>
<div class="t tc db" style="left:436.30px;top:1010.50px;width:37.40px;height:10.29px;line-height:10.29px">80</div>
<div class="t tr d dn" style="left:473.70px;top:1010.50px;width:34.70px;height:10.29px;line-height:10.29px">11,031,990</div>
<div class="t tr db" style="left:509.70px;top:1010.50px;width:32.70px;height:10.29px;line-height:10.29px">134,872</div>
<div class="t tr db" style="left:570.50px;top:1010.50px;width:32.90px;height:10.29px;line-height:10.29px">134,872</div>
<div class="t tl d" style="left:605.80px;top:1010.50px;width:88.70px;height:10.29px;line-height:10.29px">61</div>
<div class="t tc d" style="left:33.00px;top:1020.79px;width:7.30px;height:10.29px;line-height:10.29px">62</div>
<div class="t tl d nm" style="left:40.70px;top:1020.79px;width:63.50px;height:10.29px;line-height:10.29px">Agustin Sri W, A.Md.Keb</div>
<div class="t tc d" style="left:104.20px;top:1020.79px;width:13.20px;height:10.29px;line-height:10.29px">60</div>
<div class="t tc d" style="left:117.40px;top:1020.79px;width:13.20px;height:10.29px;line-height:10.29px">1</div>
<div class="t tr d" style="left:130.60px;top:1020.79px;width:21.60px;height:10.29px;line-height:10.29px">2.73</div>
<div class="t tc d ov" style="left:153.80px;top:1020.79px;width:15.00px;height:10.29px;line-height:10.29px">2.72727</div>
<div class="t tc db" style="left:168.80px;top:1020.79px;width:14.60px;height:10.29px;line-height:10.29px">57.273</div>
<div class="t tc d" style="left:183.40px;top:1020.79px;width:15.80px;height:10.29px;line-height:10.29px">20</div>
<div class="t tc d" style="left:199.20px;top:1020.79px;width:16.30px;height:10.29px;line-height:10.29px">1</div>
<div class="t tc db" style="left:215.50px;top:1020.79px;width:15.80px;height:10.29px;line-height:10.29px">19</div>
<div class="t tc db" style="left:417.20px;top:1020.79px;width:19.10px;height:10.29px;line-height:10.29px">0</div>
<div class="t tc db" style="left:436.30px;top:1020.79px;width:37.40px;height:10.29px;line-height:10.29px">76.2727272727273</div>
<div class="t tr d dn" style="left:473.70px;top:1020.79px;width:34.70px;height:10.29px;line-height:10.29px">11,031,990</div>
<div class="t tr db" style="left:509.70px;top:1020.79px;width:32.70px;height:10.29px;line-height:10.29px">128,588</div>
<div class="t tr db" style="left:570.50px;top:1020.79px;width:32.90px;height:10.29px;line-height:10.29px">128,588</div>
<div class="t tc d" style="left:605.00px;top:1020.79px;width:89.50px;height:10.29px;line-height:10.29px">62</div>
</div>
</body></html>
